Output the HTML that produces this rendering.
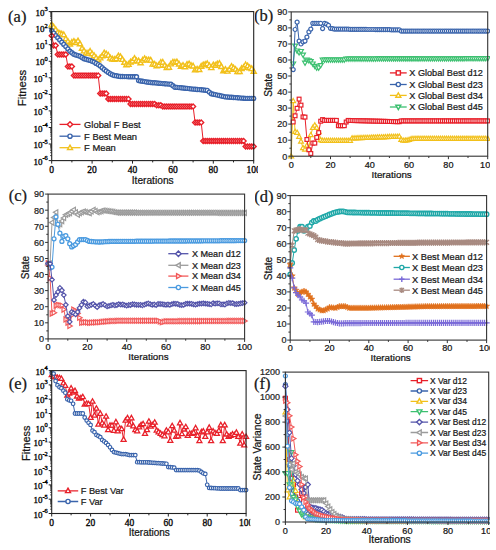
<!DOCTYPE html><html><head><meta charset="utf-8"><style>html,body{margin:0;padding:0;background:#fff;overflow:hidden}svg{display:block}text{stroke:currentColor;stroke-width:0.22px}</style></head><body>
<svg width="496" height="550" viewBox="0 0 496 550">
<rect width="496" height="550" fill="#fff"/>
<defs><g id="m0"><path d="M0 -2.8L2.6 1.9L-2.6 1.9Z" fill="#fff" stroke="#f2c01a" stroke-width="1.4"/></g><g id="m1"><circle r="2" fill="#fff" stroke="#3a64ac" stroke-width="1.4"/></g><g id="m2"><path d="M0 -2.5L2.5 0L0 2.5L-2.5 0Z" fill="#fff" stroke="#e8202a" stroke-width="1.4"/></g><g id="m3"><path d="M0 -2.7L2.7 0L0 2.7L-2.7 0Z" fill="#fff" stroke="#e8202a" stroke-width="1.4"/></g><g id="m4"><circle r="2.1" fill="#fff" stroke="#3a64ac" stroke-width="1.4"/></g><g id="m5"><path d="M0 -2.6L2.5 1.8L-2.5 1.8Z" fill="#fff" stroke="#f2c01a" stroke-width="1.4"/></g><g id="m6"><path d="M0 2.5L2.4 -1.7L-2.4 -1.7Z" fill="#fff" stroke="#3cc070" stroke-width="1.2"/></g><g id="m7"><circle r="2" fill="#fff" stroke="#3a64ac" stroke-width="1.2"/></g><g id="m8"><path d="M0 -2.5L2.4 1.7L-2.4 1.7Z" fill="#fff" stroke="#f2c01a" stroke-width="1.2"/></g><g id="m9"><rect x="-1.9" y="-1.9" width="3.8" height="3.8" fill="#fff" stroke="#e8202a" stroke-width="1.2"/></g><g id="m10"><rect x="-2.1" y="-2.1" width="4.2" height="4.2" fill="#fff" stroke="#e8202a" stroke-width="1.4"/></g><g id="m11"><path d="M0 2.6L2.5 -1.8L-2.5 -1.8Z" fill="#fff" stroke="#3cc070" stroke-width="1.4"/></g><g id="m12"><path d="M-2.6 0L1.8 -2.5L1.8 2.5Z" fill="#fff" stroke="#9c9c9c" stroke-width="1.2"/></g><g id="m13"><circle r="2" fill="#fff" stroke="#4b9be0" stroke-width="1.3"/></g><g id="m14"><path d="M2.6 0L-1.8 -2.5L-1.8 2.5Z" fill="#fff" stroke="#f25a5a" stroke-width="1.2"/></g><g id="m15"><path d="M0 -2.3L2.3 0L0 2.3L-2.3 0Z" fill="#fff" stroke="#5454aa" stroke-width="1.2"/></g><g id="m16"><path d="M0 -2.7L2.7 0L0 2.7L-2.7 0Z" fill="#fff" stroke="#5454aa" stroke-width="1.4"/></g><g id="m17"><path d="M-2.6 0L1.8 -2.5L1.8 2.5Z" fill="#fff" stroke="#9c9c9c" stroke-width="1.4"/></g><g id="m18"><path d="M2.6 0L-1.8 -2.5L-1.8 2.5Z" fill="#fff" stroke="#f25a5a" stroke-width="1.4"/></g><g id="m19"><circle r="2.1" fill="#fff" stroke="#4b9be0" stroke-width="1.4"/></g><g id="m20"><circle r="2.2" fill="#fff" stroke="#20a8a8" stroke-width="1.4"/></g><g id="m21"><path d="M-2.4 -2.4L2.4 2.4M-2.4 2.4L2.4 -2.4M0 -3.1V3.1" fill="none" stroke="#a88a80" stroke-width="1.3"/></g><g id="m22"><path d="M0 -3.1L0.8 -1.1L3 -1L1.3 0.4L1.8 2.5L0 1.4L-1.8 2.5L-1.3 0.4L-3 -1L-0.8 -1.1Z" fill="#e0701c" stroke="#e0701c" stroke-width="0.6"/></g><g id="m23"><path d="M-3.1 0H3.1M0 -3.1V3.1" fill="none" stroke="#7a6ad8" stroke-width="1.2"/></g><g id="m24"><path d="M0 -2.8L0.7 -1L2.7 -0.9L1.2 0.4L1.7 2.3L0 1.3L-1.7 2.3L-1.2 0.4L-2.7 -0.9L-0.7 -1Z" fill="#e0701c" stroke="#e0701c" stroke-width="0.6"/></g><g id="m25"><circle r="2.1" fill="#fff" stroke="#20a8a8" stroke-width="1.4"/></g><g id="m26"><path d="M-2.7 0H2.7M0 -2.7V2.7" fill="none" stroke="#7a6ad8" stroke-width="1.4"/></g><g id="m27"><path d="M-2.1 -2.1L2.1 2.1M-2.1 2.1L2.1 -2.1M0 -2.7V2.7" fill="none" stroke="#a88a80" stroke-width="1.4"/></g><g id="m28"><path d="M0 -2.6L2.5 1.8L-2.5 1.8Z" fill="#fff" stroke="#e8202a" stroke-width="1.3"/></g><g id="m29"><circle r="1.8" fill="#fff" stroke="#3a64ac" stroke-width="1.2"/></g><g id="m30"><path d="M0 -2.6L2.5 1.8L-2.5 1.8Z" fill="#fff" stroke="#e8202a" stroke-width="1.4"/></g><g id="m31"><rect x="-2" y="-2" width="4" height="4" fill="#fff" stroke="#e8202a" stroke-width="1.2"/></g><g id="m32"><path d="M0 -2.6L2.6 0L0 2.6L-2.6 0Z" fill="#fff" stroke="#5454aa" stroke-width="1.2"/></g><g id="m33"><path d="M-2.5 0L1.7 -2.4L1.7 2.4Z" fill="#fff" stroke="#9c9c9c" stroke-width="1.2"/></g><g id="m34"><path d="M2.5 0L-1.7 -2.4L-1.7 2.4Z" fill="#fff" stroke="#f25a5a" stroke-width="1.2"/></g><g id="m35"><circle r="2" fill="#fff" stroke="#4b9be0" stroke-width="1.2"/></g>
<clipPath id="ca"><rect x="0" y="0" width="258" height="192"/></clipPath>
<clipPath id="cb"><rect x="255" y="0" width="235" height="192"/></clipPath>
<clipPath id="cc"><rect x="0" y="188" width="255" height="178"/></clipPath>
<clipPath id="cd"><rect x="255" y="188" width="235" height="178"/></clipPath>
<clipPath id="ce"><rect x="0" y="364" width="250.3" height="186"/></clipPath>
<clipPath id="cf"><rect x="250.3" y="364" width="239.7" height="186"/></clipPath>
</defs>
<g clip-path="url(#ca)">
<path d="M51.7 24.8L53.7 27.1L55.7 29.7L57.8 32.4L59.8 33.4L61.8 34.1L63.8 34.8L65.8 38.8L67.9 41.4L69.9 44.1L71.9 42.3L73.9 41.5L75.9 42.7L78 41L80 43.9L82 48.4L84 51L86 53.2L88.1 53.1L90.1 51.3L92.1 53.8L94.1 55.7L96.1 58L98.2 59.9L100.2 58L102.2 55.9L104.2 53L106.2 54L108.3 55.3L110.3 58.1L112.3 59.1L114.3 59.5L116.3 58.8L118.4 55.9L120.4 56.7L122.4 59.5L124.4 62.4L126.4 64.8L128.5 64.3L130.5 62.1L132.5 61L134.5 58.5L136.5 60.8L138.6 61L140.6 62.9L142.6 60.2L144.6 58.7L146.6 60L148.7 60L150.7 60.2L152.7 64.2L154.7 64.3L156.7 65.8L158.8 65.3L160.8 62.5L162.8 62.3L164.8 65.4L166.8 67.6L168.9 67.3L170.9 64L172.9 62.2L174.9 62.3L176.9 61.9L179 64.1L181 66.4L183 65.4L185 66.9L187 64.4L189.1 64L191.1 65.6L193.1 66.1L195.1 70L197.1 69.2L199.2 69.6L201.2 66.3L203.2 65L205.2 64.5L207.2 63.7L209.3 65.7L211.3 67.7L213.3 65L215.3 65.3L217.3 63.9L219.4 63.5L221.4 66.6L223.4 70.8L225.4 69.5L227.4 71.2L229.5 69.3L231.5 66.5L233.5 67.9L235.5 69.4L237.5 71.6L239.6 71.6L241.6 68.6L243.6 67.4L245.6 64.8L247.6 65.9L249.7 67.8L251.7 68.7L253.7 71.4" fill="none" stroke="#f2c01a" stroke-width="1.0"/>
<use href="#m0" x="51.7" y="24.8"/>
<use href="#m0" x="53.7" y="27.1"/>
<use href="#m0" x="55.7" y="29.7"/>
<use href="#m0" x="57.8" y="32.4"/>
<use href="#m0" x="59.8" y="33.4"/>
<use href="#m0" x="61.8" y="34.1"/>
<use href="#m0" x="63.8" y="34.8"/>
<use href="#m0" x="65.8" y="38.8"/>
<use href="#m0" x="67.9" y="41.4"/>
<use href="#m0" x="69.9" y="44.1"/>
<use href="#m0" x="71.9" y="42.3"/>
<use href="#m0" x="73.9" y="41.5"/>
<use href="#m0" x="75.9" y="42.7"/>
<use href="#m0" x="78" y="41"/>
<use href="#m0" x="80" y="43.9"/>
<use href="#m0" x="82" y="48.4"/>
<use href="#m0" x="84" y="51"/>
<use href="#m0" x="86" y="53.2"/>
<use href="#m0" x="88.1" y="53.1"/>
<use href="#m0" x="90.1" y="51.3"/>
<use href="#m0" x="92.1" y="53.8"/>
<use href="#m0" x="94.1" y="55.7"/>
<use href="#m0" x="96.1" y="58"/>
<use href="#m0" x="98.2" y="59.9"/>
<use href="#m0" x="100.2" y="58"/>
<use href="#m0" x="102.2" y="55.9"/>
<use href="#m0" x="104.2" y="53"/>
<use href="#m0" x="106.2" y="54"/>
<use href="#m0" x="108.3" y="55.3"/>
<use href="#m0" x="110.3" y="58.1"/>
<use href="#m0" x="112.3" y="59.1"/>
<use href="#m0" x="114.3" y="59.5"/>
<use href="#m0" x="116.3" y="58.8"/>
<use href="#m0" x="118.4" y="55.9"/>
<use href="#m0" x="120.4" y="56.7"/>
<use href="#m0" x="122.4" y="59.5"/>
<use href="#m0" x="124.4" y="62.4"/>
<use href="#m0" x="126.4" y="64.8"/>
<use href="#m0" x="128.5" y="64.3"/>
<use href="#m0" x="130.5" y="62.1"/>
<use href="#m0" x="132.5" y="61"/>
<use href="#m0" x="134.5" y="58.5"/>
<use href="#m0" x="136.5" y="60.8"/>
<use href="#m0" x="138.6" y="61"/>
<use href="#m0" x="140.6" y="62.9"/>
<use href="#m0" x="142.6" y="60.2"/>
<use href="#m0" x="144.6" y="58.7"/>
<use href="#m0" x="146.6" y="60"/>
<use href="#m0" x="148.7" y="60"/>
<use href="#m0" x="150.7" y="60.2"/>
<use href="#m0" x="152.7" y="64.2"/>
<use href="#m0" x="154.7" y="64.3"/>
<use href="#m0" x="156.7" y="65.8"/>
<use href="#m0" x="158.8" y="65.3"/>
<use href="#m0" x="160.8" y="62.5"/>
<use href="#m0" x="162.8" y="62.3"/>
<use href="#m0" x="164.8" y="65.4"/>
<use href="#m0" x="166.8" y="67.6"/>
<use href="#m0" x="168.9" y="67.3"/>
<use href="#m0" x="170.9" y="64"/>
<use href="#m0" x="172.9" y="62.2"/>
<use href="#m0" x="174.9" y="62.3"/>
<use href="#m0" x="176.9" y="61.9"/>
<use href="#m0" x="179" y="64.1"/>
<use href="#m0" x="181" y="66.4"/>
<use href="#m0" x="183" y="65.4"/>
<use href="#m0" x="185" y="66.9"/>
<use href="#m0" x="187" y="64.4"/>
<use href="#m0" x="189.1" y="64"/>
<use href="#m0" x="191.1" y="65.6"/>
<use href="#m0" x="193.1" y="66.1"/>
<use href="#m0" x="195.1" y="70"/>
<use href="#m0" x="197.1" y="69.2"/>
<use href="#m0" x="199.2" y="69.6"/>
<use href="#m0" x="201.2" y="66.3"/>
<use href="#m0" x="203.2" y="65"/>
<use href="#m0" x="205.2" y="64.5"/>
<use href="#m0" x="207.2" y="63.7"/>
<use href="#m0" x="209.3" y="65.7"/>
<use href="#m0" x="211.3" y="67.7"/>
<use href="#m0" x="213.3" y="65"/>
<use href="#m0" x="215.3" y="65.3"/>
<use href="#m0" x="217.3" y="63.9"/>
<use href="#m0" x="219.4" y="63.5"/>
<use href="#m0" x="221.4" y="66.6"/>
<use href="#m0" x="223.4" y="70.8"/>
<use href="#m0" x="225.4" y="69.5"/>
<use href="#m0" x="227.4" y="71.2"/>
<use href="#m0" x="229.5" y="69.3"/>
<use href="#m0" x="231.5" y="66.5"/>
<use href="#m0" x="233.5" y="67.9"/>
<use href="#m0" x="235.5" y="69.4"/>
<use href="#m0" x="237.5" y="71.6"/>
<use href="#m0" x="239.6" y="71.6"/>
<use href="#m0" x="241.6" y="68.6"/>
<use href="#m0" x="243.6" y="67.4"/>
<use href="#m0" x="245.6" y="64.8"/>
<use href="#m0" x="247.6" y="65.9"/>
<use href="#m0" x="249.7" y="67.8"/>
<use href="#m0" x="251.7" y="68.7"/>
<use href="#m0" x="253.7" y="71.4"/>
<path d="M51.7 30.6L53.7 33.1L55.7 35.6L57.8 37.8L59.8 40L61.8 42.2L63.8 44.4L65.8 46.6L67.9 48.9L69.9 51.3L71.9 52.8L73.9 54.3L75.9 55L78 55.6L80 56.3L82 57.5L84 58.8L86 59.3L88.1 59.9L90.1 60.4L92.1 61.3L94.1 62.1L96.1 63.4L98.2 64.6L100.2 65.9L102.2 67.7L104.2 69.5L106.2 71L108.3 72.4L110.3 73.8L112.3 74.7L114.3 75.5L116.3 75.8L118.4 76.2L120.4 76.5L122.4 76.5L124.4 76.6L126.4 76.6L128.5 76.7L130.5 76.7L132.5 76.7L134.5 76.8L136.5 76.8L138.6 80.6L140.6 81L142.6 81.3L144.6 81.6L146.6 82L148.7 82.3L150.7 82.5L152.7 82.7L154.7 82.8L156.7 83L158.8 83.2L160.8 83.4L162.8 83.6L164.8 83.7L166.8 83.9L168.9 84.1L170.9 84.3L172.9 85.8L174.9 87.3L176.9 87.4L179 87.6L181 87.8L183 88L185 88.2L187 88.4L189.1 88.6L191.1 88.9L193.1 89.1L195.1 89.3L197.1 89.5L199.2 89.6L201.2 89.8L203.2 90L205.2 90.2L207.2 90.4L209.3 92.1L211.3 93.7L213.3 94.2L215.3 94.6L217.3 95.1L219.4 95.5L221.4 96L223.4 96.4L225.4 96.9L227.4 97L229.5 97.2L231.5 97.3L233.5 97.5L235.5 97.6L237.5 97.8L239.6 97.9L241.6 98.1L243.6 98.2L245.6 98.4L247.6 98.4L249.7 98.4L251.7 98.4L253.7 98.4" fill="none" stroke="#3a64ac" stroke-width="1.0"/>
<use href="#m1" x="51.7" y="30.6"/>
<use href="#m1" x="53.7" y="33.1"/>
<use href="#m1" x="55.7" y="35.6"/>
<use href="#m1" x="57.8" y="37.8"/>
<use href="#m1" x="59.8" y="40"/>
<use href="#m1" x="61.8" y="42.2"/>
<use href="#m1" x="63.8" y="44.4"/>
<use href="#m1" x="65.8" y="46.6"/>
<use href="#m1" x="67.9" y="48.9"/>
<use href="#m1" x="69.9" y="51.3"/>
<use href="#m1" x="71.9" y="52.8"/>
<use href="#m1" x="73.9" y="54.3"/>
<use href="#m1" x="75.9" y="55"/>
<use href="#m1" x="78" y="55.6"/>
<use href="#m1" x="80" y="56.3"/>
<use href="#m1" x="82" y="57.5"/>
<use href="#m1" x="84" y="58.8"/>
<use href="#m1" x="86" y="59.3"/>
<use href="#m1" x="88.1" y="59.9"/>
<use href="#m1" x="90.1" y="60.4"/>
<use href="#m1" x="92.1" y="61.3"/>
<use href="#m1" x="94.1" y="62.1"/>
<use href="#m1" x="96.1" y="63.4"/>
<use href="#m1" x="98.2" y="64.6"/>
<use href="#m1" x="100.2" y="65.9"/>
<use href="#m1" x="102.2" y="67.7"/>
<use href="#m1" x="104.2" y="69.5"/>
<use href="#m1" x="106.2" y="71"/>
<use href="#m1" x="108.3" y="72.4"/>
<use href="#m1" x="110.3" y="73.8"/>
<use href="#m1" x="112.3" y="74.7"/>
<use href="#m1" x="114.3" y="75.5"/>
<use href="#m1" x="116.3" y="75.8"/>
<use href="#m1" x="118.4" y="76.2"/>
<use href="#m1" x="120.4" y="76.5"/>
<use href="#m1" x="122.4" y="76.5"/>
<use href="#m1" x="124.4" y="76.6"/>
<use href="#m1" x="126.4" y="76.6"/>
<use href="#m1" x="128.5" y="76.7"/>
<use href="#m1" x="130.5" y="76.7"/>
<use href="#m1" x="132.5" y="76.7"/>
<use href="#m1" x="134.5" y="76.8"/>
<use href="#m1" x="136.5" y="76.8"/>
<use href="#m1" x="138.6" y="80.6"/>
<use href="#m1" x="140.6" y="81"/>
<use href="#m1" x="142.6" y="81.3"/>
<use href="#m1" x="144.6" y="81.6"/>
<use href="#m1" x="146.6" y="82"/>
<use href="#m1" x="148.7" y="82.3"/>
<use href="#m1" x="150.7" y="82.5"/>
<use href="#m1" x="152.7" y="82.7"/>
<use href="#m1" x="154.7" y="82.8"/>
<use href="#m1" x="156.7" y="83"/>
<use href="#m1" x="158.8" y="83.2"/>
<use href="#m1" x="160.8" y="83.4"/>
<use href="#m1" x="162.8" y="83.6"/>
<use href="#m1" x="164.8" y="83.7"/>
<use href="#m1" x="166.8" y="83.9"/>
<use href="#m1" x="168.9" y="84.1"/>
<use href="#m1" x="170.9" y="84.3"/>
<use href="#m1" x="172.9" y="85.8"/>
<use href="#m1" x="174.9" y="87.3"/>
<use href="#m1" x="176.9" y="87.4"/>
<use href="#m1" x="179" y="87.6"/>
<use href="#m1" x="181" y="87.8"/>
<use href="#m1" x="183" y="88"/>
<use href="#m1" x="185" y="88.2"/>
<use href="#m1" x="187" y="88.4"/>
<use href="#m1" x="189.1" y="88.6"/>
<use href="#m1" x="191.1" y="88.9"/>
<use href="#m1" x="193.1" y="89.1"/>
<use href="#m1" x="195.1" y="89.3"/>
<use href="#m1" x="197.1" y="89.5"/>
<use href="#m1" x="199.2" y="89.6"/>
<use href="#m1" x="201.2" y="89.8"/>
<use href="#m1" x="203.2" y="90"/>
<use href="#m1" x="205.2" y="90.2"/>
<use href="#m1" x="207.2" y="90.4"/>
<use href="#m1" x="209.3" y="92.1"/>
<use href="#m1" x="211.3" y="93.7"/>
<use href="#m1" x="213.3" y="94.2"/>
<use href="#m1" x="215.3" y="94.6"/>
<use href="#m1" x="217.3" y="95.1"/>
<use href="#m1" x="219.4" y="95.5"/>
<use href="#m1" x="221.4" y="96"/>
<use href="#m1" x="223.4" y="96.4"/>
<use href="#m1" x="225.4" y="96.9"/>
<use href="#m1" x="227.4" y="97"/>
<use href="#m1" x="229.5" y="97.2"/>
<use href="#m1" x="231.5" y="97.3"/>
<use href="#m1" x="233.5" y="97.5"/>
<use href="#m1" x="235.5" y="97.6"/>
<use href="#m1" x="237.5" y="97.8"/>
<use href="#m1" x="239.6" y="97.9"/>
<use href="#m1" x="241.6" y="98.1"/>
<use href="#m1" x="243.6" y="98.2"/>
<use href="#m1" x="245.6" y="98.4"/>
<use href="#m1" x="247.6" y="98.4"/>
<use href="#m1" x="249.7" y="98.4"/>
<use href="#m1" x="251.7" y="98.4"/>
<use href="#m1" x="253.7" y="98.4"/>
<path d="M51.7 35.8L53.7 45.5L55.7 45.5L57.8 54.5L59.8 54.5L61.8 54.5L63.8 54.5L65.8 54.5L67.9 66.6L69.9 66.6L71.9 66.6L73.9 75.5L75.9 75.5L78 75.5L80 75.5L82 75.5L84 75.5L86 75.5L88.1 75.5L90.1 75.5L92.1 75.5L94.1 75.5L96.1 75.5L98.2 75.5L100.2 93.4L102.2 93.4L104.2 93.4L106.2 93.4L108.3 99L110.3 99L112.3 99L114.3 99L116.3 99L118.4 99L120.4 99L122.4 99L124.4 99L126.4 99L128.5 99L130.5 104.1L132.5 104.1L134.5 104.1L136.5 104.1L138.6 104.1L140.6 104.1L142.6 104.1L144.6 104.1L146.6 104.1L148.7 104.1L150.7 104.1L152.7 104.1L154.7 104.1L156.7 105.3L158.8 105.3L160.8 105.3L162.8 106.5L164.8 106.5L166.8 106.5L168.9 106.5L170.9 106.5L172.9 106.5L174.9 106.5L176.9 106.5L179 106.5L181 106.5L183 106.5L185 106.5L187 106.5L189.1 106.5L191.1 106.5L193.1 106.5L195.1 122.4L197.1 122.4L199.2 122.4L201.2 122.4L203.2 140.9L205.2 140.9L207.2 140.9L209.3 140.9L211.3 140.9L213.3 140.9L215.3 140.9L217.3 140.9L219.4 140.9L221.4 140.9L223.4 140.9L225.4 140.9L227.4 140.9L229.5 140.9L231.5 140.9L233.5 140.9L235.5 140.9L237.5 140.9L239.6 140.9L241.6 140.9L243.6 140.9L245.6 146.5L247.6 146.5L249.7 146.5L251.7 146.5L253.7 146.5" fill="none" stroke="#e8202a" stroke-width="1.0"/>
<use href="#m2" x="51.7" y="35.8"/>
<use href="#m2" x="53.7" y="45.5"/>
<use href="#m2" x="55.7" y="45.5"/>
<use href="#m2" x="57.8" y="54.5"/>
<use href="#m2" x="59.8" y="54.5"/>
<use href="#m2" x="61.8" y="54.5"/>
<use href="#m2" x="63.8" y="54.5"/>
<use href="#m2" x="65.8" y="54.5"/>
<use href="#m2" x="67.9" y="66.6"/>
<use href="#m2" x="69.9" y="66.6"/>
<use href="#m2" x="71.9" y="66.6"/>
<use href="#m2" x="73.9" y="75.5"/>
<use href="#m2" x="75.9" y="75.5"/>
<use href="#m2" x="78" y="75.5"/>
<use href="#m2" x="80" y="75.5"/>
<use href="#m2" x="82" y="75.5"/>
<use href="#m2" x="84" y="75.5"/>
<use href="#m2" x="86" y="75.5"/>
<use href="#m2" x="88.1" y="75.5"/>
<use href="#m2" x="90.1" y="75.5"/>
<use href="#m2" x="92.1" y="75.5"/>
<use href="#m2" x="94.1" y="75.5"/>
<use href="#m2" x="96.1" y="75.5"/>
<use href="#m2" x="98.2" y="75.5"/>
<use href="#m2" x="100.2" y="93.4"/>
<use href="#m2" x="102.2" y="93.4"/>
<use href="#m2" x="104.2" y="93.4"/>
<use href="#m2" x="106.2" y="93.4"/>
<use href="#m2" x="108.3" y="99"/>
<use href="#m2" x="110.3" y="99"/>
<use href="#m2" x="112.3" y="99"/>
<use href="#m2" x="114.3" y="99"/>
<use href="#m2" x="116.3" y="99"/>
<use href="#m2" x="118.4" y="99"/>
<use href="#m2" x="120.4" y="99"/>
<use href="#m2" x="122.4" y="99"/>
<use href="#m2" x="124.4" y="99"/>
<use href="#m2" x="126.4" y="99"/>
<use href="#m2" x="128.5" y="99"/>
<use href="#m2" x="130.5" y="104.1"/>
<use href="#m2" x="132.5" y="104.1"/>
<use href="#m2" x="134.5" y="104.1"/>
<use href="#m2" x="136.5" y="104.1"/>
<use href="#m2" x="138.6" y="104.1"/>
<use href="#m2" x="140.6" y="104.1"/>
<use href="#m2" x="142.6" y="104.1"/>
<use href="#m2" x="144.6" y="104.1"/>
<use href="#m2" x="146.6" y="104.1"/>
<use href="#m2" x="148.7" y="104.1"/>
<use href="#m2" x="150.7" y="104.1"/>
<use href="#m2" x="152.7" y="104.1"/>
<use href="#m2" x="154.7" y="104.1"/>
<use href="#m2" x="156.7" y="105.3"/>
<use href="#m2" x="158.8" y="105.3"/>
<use href="#m2" x="160.8" y="105.3"/>
<use href="#m2" x="162.8" y="106.5"/>
<use href="#m2" x="164.8" y="106.5"/>
<use href="#m2" x="166.8" y="106.5"/>
<use href="#m2" x="168.9" y="106.5"/>
<use href="#m2" x="170.9" y="106.5"/>
<use href="#m2" x="172.9" y="106.5"/>
<use href="#m2" x="174.9" y="106.5"/>
<use href="#m2" x="176.9" y="106.5"/>
<use href="#m2" x="179" y="106.5"/>
<use href="#m2" x="181" y="106.5"/>
<use href="#m2" x="183" y="106.5"/>
<use href="#m2" x="185" y="106.5"/>
<use href="#m2" x="187" y="106.5"/>
<use href="#m2" x="189.1" y="106.5"/>
<use href="#m2" x="191.1" y="106.5"/>
<use href="#m2" x="193.1" y="106.5"/>
<use href="#m2" x="195.1" y="122.4"/>
<use href="#m2" x="197.1" y="122.4"/>
<use href="#m2" x="199.2" y="122.4"/>
<use href="#m2" x="201.2" y="122.4"/>
<use href="#m2" x="203.2" y="140.9"/>
<use href="#m2" x="205.2" y="140.9"/>
<use href="#m2" x="207.2" y="140.9"/>
<use href="#m2" x="209.3" y="140.9"/>
<use href="#m2" x="211.3" y="140.9"/>
<use href="#m2" x="213.3" y="140.9"/>
<use href="#m2" x="215.3" y="140.9"/>
<use href="#m2" x="217.3" y="140.9"/>
<use href="#m2" x="219.4" y="140.9"/>
<use href="#m2" x="221.4" y="140.9"/>
<use href="#m2" x="223.4" y="140.9"/>
<use href="#m2" x="225.4" y="140.9"/>
<use href="#m2" x="227.4" y="140.9"/>
<use href="#m2" x="229.5" y="140.9"/>
<use href="#m2" x="231.5" y="140.9"/>
<use href="#m2" x="233.5" y="140.9"/>
<use href="#m2" x="235.5" y="140.9"/>
<use href="#m2" x="237.5" y="140.9"/>
<use href="#m2" x="239.6" y="140.9"/>
<use href="#m2" x="241.6" y="140.9"/>
<use href="#m2" x="243.6" y="140.9"/>
<use href="#m2" x="245.6" y="146.5"/>
<use href="#m2" x="247.6" y="146.5"/>
<use href="#m2" x="249.7" y="146.5"/>
<use href="#m2" x="251.7" y="146.5"/>
<use href="#m2" x="253.7" y="146.5"/>
<rect x="51.7" y="11.6" width="202" height="149" fill="none" stroke="#222" stroke-width="1.1"/>
<line x1="51.7" y1="160.6" x2="51.7" y2="163.6" stroke="#222" stroke-width="1"/>
<text x="51.7" y="172.8" font-size="9.5" text-anchor="middle" fill="#1a1a1a" font-family="Liberation Serif, serif" style="stroke-width:0.35px">0</text>
<line x1="71.9" y1="160.6" x2="71.9" y2="162.4" stroke="#222" stroke-width="1"/>
<line x1="92.1" y1="160.6" x2="92.1" y2="163.6" stroke="#222" stroke-width="1"/>
<text x="92.1" y="172.8" font-size="9.5" text-anchor="middle" fill="#1a1a1a" font-family="Liberation Serif, serif" style="stroke-width:0.35px">20</text>
<line x1="112.3" y1="160.6" x2="112.3" y2="162.4" stroke="#222" stroke-width="1"/>
<line x1="132.5" y1="160.6" x2="132.5" y2="163.6" stroke="#222" stroke-width="1"/>
<text x="132.5" y="172.8" font-size="9.5" text-anchor="middle" fill="#1a1a1a" font-family="Liberation Serif, serif" style="stroke-width:0.35px">40</text>
<line x1="152.7" y1="160.6" x2="152.7" y2="162.4" stroke="#222" stroke-width="1"/>
<line x1="172.9" y1="160.6" x2="172.9" y2="163.6" stroke="#222" stroke-width="1"/>
<text x="172.9" y="172.8" font-size="9.5" text-anchor="middle" fill="#1a1a1a" font-family="Liberation Serif, serif" style="stroke-width:0.35px">60</text>
<line x1="193.1" y1="160.6" x2="193.1" y2="162.4" stroke="#222" stroke-width="1"/>
<line x1="213.3" y1="160.6" x2="213.3" y2="163.6" stroke="#222" stroke-width="1"/>
<text x="213.3" y="172.8" font-size="9.5" text-anchor="middle" fill="#1a1a1a" font-family="Liberation Serif, serif" style="stroke-width:0.35px">80</text>
<line x1="233.5" y1="160.6" x2="233.5" y2="162.4" stroke="#222" stroke-width="1"/>
<line x1="253.7" y1="160.6" x2="253.7" y2="163.6" stroke="#222" stroke-width="1"/>
<text x="253.7" y="172.8" font-size="9.5" text-anchor="middle" fill="#1a1a1a" font-family="Liberation Serif, serif" style="stroke-width:0.35px">100</text>
<line x1="48.7" y1="160.6" x2="51.7" y2="160.6" stroke="#222" stroke-width="1"/>
<line x1="50.1" y1="155.6" x2="51.7" y2="155.6" stroke="#222" stroke-width="0.8"/>
<line x1="50.1" y1="152.7" x2="51.7" y2="152.7" stroke="#222" stroke-width="0.8"/>
<line x1="50.1" y1="150.6" x2="51.7" y2="150.6" stroke="#222" stroke-width="0.8"/>
<line x1="50.1" y1="149" x2="51.7" y2="149" stroke="#222" stroke-width="0.8"/>
<line x1="50.1" y1="147.7" x2="51.7" y2="147.7" stroke="#222" stroke-width="0.8"/>
<line x1="50.1" y1="146.6" x2="51.7" y2="146.6" stroke="#222" stroke-width="0.8"/>
<line x1="50.1" y1="145.6" x2="51.7" y2="145.6" stroke="#222" stroke-width="0.8"/>
<line x1="50.1" y1="144.8" x2="51.7" y2="144.8" stroke="#222" stroke-width="0.8"/>
<text x="47.8" y="164.7" font-size="9.0" fill="#1a1a1a" text-anchor="end" style="stroke-width:0.35px" font-family="Liberation Serif, serif"><tspan>10</tspan><tspan dy="-4.6" font-size="6.4">-6</tspan></text>
<line x1="48.7" y1="144" x2="51.7" y2="144" stroke="#222" stroke-width="1"/>
<line x1="50.1" y1="139.1" x2="51.7" y2="139.1" stroke="#222" stroke-width="0.8"/>
<line x1="50.1" y1="136.1" x2="51.7" y2="136.1" stroke="#222" stroke-width="0.8"/>
<line x1="50.1" y1="134.1" x2="51.7" y2="134.1" stroke="#222" stroke-width="0.8"/>
<line x1="50.1" y1="132.5" x2="51.7" y2="132.5" stroke="#222" stroke-width="0.8"/>
<line x1="50.1" y1="131.2" x2="51.7" y2="131.2" stroke="#222" stroke-width="0.8"/>
<line x1="50.1" y1="130.1" x2="51.7" y2="130.1" stroke="#222" stroke-width="0.8"/>
<line x1="50.1" y1="129.1" x2="51.7" y2="129.1" stroke="#222" stroke-width="0.8"/>
<line x1="50.1" y1="128.2" x2="51.7" y2="128.2" stroke="#222" stroke-width="0.8"/>
<text x="47.8" y="148.1" font-size="9.0" fill="#1a1a1a" text-anchor="end" style="stroke-width:0.35px" font-family="Liberation Serif, serif"><tspan>10</tspan><tspan dy="-4.6" font-size="6.4">-5</tspan></text>
<line x1="48.7" y1="127.5" x2="51.7" y2="127.5" stroke="#222" stroke-width="1"/>
<line x1="50.1" y1="122.5" x2="51.7" y2="122.5" stroke="#222" stroke-width="0.8"/>
<line x1="50.1" y1="119.6" x2="51.7" y2="119.6" stroke="#222" stroke-width="0.8"/>
<line x1="50.1" y1="117.5" x2="51.7" y2="117.5" stroke="#222" stroke-width="0.8"/>
<line x1="50.1" y1="115.9" x2="51.7" y2="115.9" stroke="#222" stroke-width="0.8"/>
<line x1="50.1" y1="114.6" x2="51.7" y2="114.6" stroke="#222" stroke-width="0.8"/>
<line x1="50.1" y1="113.5" x2="51.7" y2="113.5" stroke="#222" stroke-width="0.8"/>
<line x1="50.1" y1="112.5" x2="51.7" y2="112.5" stroke="#222" stroke-width="0.8"/>
<line x1="50.1" y1="111.7" x2="51.7" y2="111.7" stroke="#222" stroke-width="0.8"/>
<text x="47.8" y="131.6" font-size="9.0" fill="#1a1a1a" text-anchor="end" style="stroke-width:0.35px" font-family="Liberation Serif, serif"><tspan>10</tspan><tspan dy="-4.6" font-size="6.4">-4</tspan></text>
<line x1="48.7" y1="110.9" x2="51.7" y2="110.9" stroke="#222" stroke-width="1"/>
<line x1="50.1" y1="105.9" x2="51.7" y2="105.9" stroke="#222" stroke-width="0.8"/>
<line x1="50.1" y1="103" x2="51.7" y2="103" stroke="#222" stroke-width="0.8"/>
<line x1="50.1" y1="101" x2="51.7" y2="101" stroke="#222" stroke-width="0.8"/>
<line x1="50.1" y1="99.4" x2="51.7" y2="99.4" stroke="#222" stroke-width="0.8"/>
<line x1="50.1" y1="98.1" x2="51.7" y2="98.1" stroke="#222" stroke-width="0.8"/>
<line x1="50.1" y1="96.9" x2="51.7" y2="96.9" stroke="#222" stroke-width="0.8"/>
<line x1="50.1" y1="96" x2="51.7" y2="96" stroke="#222" stroke-width="0.8"/>
<line x1="50.1" y1="95.1" x2="51.7" y2="95.1" stroke="#222" stroke-width="0.8"/>
<text x="47.8" y="115" font-size="9.0" fill="#1a1a1a" text-anchor="end" style="stroke-width:0.35px" font-family="Liberation Serif, serif"><tspan>10</tspan><tspan dy="-4.6" font-size="6.4">-3</tspan></text>
<line x1="48.7" y1="94.4" x2="51.7" y2="94.4" stroke="#222" stroke-width="1"/>
<line x1="50.1" y1="89.4" x2="51.7" y2="89.4" stroke="#222" stroke-width="0.8"/>
<line x1="50.1" y1="86.5" x2="51.7" y2="86.5" stroke="#222" stroke-width="0.8"/>
<line x1="50.1" y1="84.4" x2="51.7" y2="84.4" stroke="#222" stroke-width="0.8"/>
<line x1="50.1" y1="82.8" x2="51.7" y2="82.8" stroke="#222" stroke-width="0.8"/>
<line x1="50.1" y1="81.5" x2="51.7" y2="81.5" stroke="#222" stroke-width="0.8"/>
<line x1="50.1" y1="80.4" x2="51.7" y2="80.4" stroke="#222" stroke-width="0.8"/>
<line x1="50.1" y1="79.4" x2="51.7" y2="79.4" stroke="#222" stroke-width="0.8"/>
<line x1="50.1" y1="78.6" x2="51.7" y2="78.6" stroke="#222" stroke-width="0.8"/>
<text x="47.8" y="98.5" font-size="9.0" fill="#1a1a1a" text-anchor="end" style="stroke-width:0.35px" font-family="Liberation Serif, serif"><tspan>10</tspan><tspan dy="-4.6" font-size="6.4">-2</tspan></text>
<line x1="48.7" y1="77.8" x2="51.7" y2="77.8" stroke="#222" stroke-width="1"/>
<line x1="50.1" y1="72.8" x2="51.7" y2="72.8" stroke="#222" stroke-width="0.8"/>
<line x1="50.1" y1="69.9" x2="51.7" y2="69.9" stroke="#222" stroke-width="0.8"/>
<line x1="50.1" y1="67.9" x2="51.7" y2="67.9" stroke="#222" stroke-width="0.8"/>
<line x1="50.1" y1="66.3" x2="51.7" y2="66.3" stroke="#222" stroke-width="0.8"/>
<line x1="50.1" y1="64.9" x2="51.7" y2="64.9" stroke="#222" stroke-width="0.8"/>
<line x1="50.1" y1="63.8" x2="51.7" y2="63.8" stroke="#222" stroke-width="0.8"/>
<line x1="50.1" y1="62.9" x2="51.7" y2="62.9" stroke="#222" stroke-width="0.8"/>
<line x1="50.1" y1="62" x2="51.7" y2="62" stroke="#222" stroke-width="0.8"/>
<text x="47.8" y="81.9" font-size="9.0" fill="#1a1a1a" text-anchor="end" style="stroke-width:0.35px" font-family="Liberation Serif, serif"><tspan>10</tspan><tspan dy="-4.6" font-size="6.4">-1</tspan></text>
<line x1="48.7" y1="61.3" x2="51.7" y2="61.3" stroke="#222" stroke-width="1"/>
<line x1="50.1" y1="56.3" x2="51.7" y2="56.3" stroke="#222" stroke-width="0.8"/>
<line x1="50.1" y1="53.4" x2="51.7" y2="53.4" stroke="#222" stroke-width="0.8"/>
<line x1="50.1" y1="51.3" x2="51.7" y2="51.3" stroke="#222" stroke-width="0.8"/>
<line x1="50.1" y1="49.7" x2="51.7" y2="49.7" stroke="#222" stroke-width="0.8"/>
<line x1="50.1" y1="48.4" x2="51.7" y2="48.4" stroke="#222" stroke-width="0.8"/>
<line x1="50.1" y1="47.3" x2="51.7" y2="47.3" stroke="#222" stroke-width="0.8"/>
<line x1="50.1" y1="46.3" x2="51.7" y2="46.3" stroke="#222" stroke-width="0.8"/>
<line x1="50.1" y1="45.5" x2="51.7" y2="45.5" stroke="#222" stroke-width="0.8"/>
<text x="47.8" y="65.4" font-size="9.0" fill="#1a1a1a" text-anchor="end" style="stroke-width:0.35px" font-family="Liberation Serif, serif"><tspan>10</tspan><tspan dy="-4.6" font-size="6.4">0</tspan></text>
<line x1="48.7" y1="44.7" x2="51.7" y2="44.7" stroke="#222" stroke-width="1"/>
<line x1="50.1" y1="39.7" x2="51.7" y2="39.7" stroke="#222" stroke-width="0.8"/>
<line x1="50.1" y1="36.8" x2="51.7" y2="36.8" stroke="#222" stroke-width="0.8"/>
<line x1="50.1" y1="34.7" x2="51.7" y2="34.7" stroke="#222" stroke-width="0.8"/>
<line x1="50.1" y1="33.1" x2="51.7" y2="33.1" stroke="#222" stroke-width="0.8"/>
<line x1="50.1" y1="31.8" x2="51.7" y2="31.8" stroke="#222" stroke-width="0.8"/>
<line x1="50.1" y1="30.7" x2="51.7" y2="30.7" stroke="#222" stroke-width="0.8"/>
<line x1="50.1" y1="29.8" x2="51.7" y2="29.8" stroke="#222" stroke-width="0.8"/>
<line x1="50.1" y1="28.9" x2="51.7" y2="28.9" stroke="#222" stroke-width="0.8"/>
<text x="47.8" y="48.8" font-size="9.0" fill="#1a1a1a" text-anchor="end" style="stroke-width:0.35px" font-family="Liberation Serif, serif"><tspan>10</tspan><tspan dy="-4.6" font-size="6.4">1</tspan></text>
<line x1="48.7" y1="28.2" x2="51.7" y2="28.2" stroke="#222" stroke-width="1"/>
<line x1="50.1" y1="23.2" x2="51.7" y2="23.2" stroke="#222" stroke-width="0.8"/>
<line x1="50.1" y1="20.3" x2="51.7" y2="20.3" stroke="#222" stroke-width="0.8"/>
<line x1="50.1" y1="18.2" x2="51.7" y2="18.2" stroke="#222" stroke-width="0.8"/>
<line x1="50.1" y1="16.6" x2="51.7" y2="16.6" stroke="#222" stroke-width="0.8"/>
<line x1="50.1" y1="15.3" x2="51.7" y2="15.3" stroke="#222" stroke-width="0.8"/>
<line x1="50.1" y1="14.2" x2="51.7" y2="14.2" stroke="#222" stroke-width="0.8"/>
<line x1="50.1" y1="13.2" x2="51.7" y2="13.2" stroke="#222" stroke-width="0.8"/>
<line x1="50.1" y1="12.4" x2="51.7" y2="12.4" stroke="#222" stroke-width="0.8"/>
<text x="47.8" y="32.3" font-size="9.0" fill="#1a1a1a" text-anchor="end" style="stroke-width:0.35px" font-family="Liberation Serif, serif"><tspan>10</tspan><tspan dy="-4.6" font-size="6.4">2</tspan></text>
<line x1="48.7" y1="11.6" x2="51.7" y2="11.6" stroke="#222" stroke-width="1"/>
<text x="47.8" y="15.7" font-size="9.0" fill="#1a1a1a" text-anchor="end" style="stroke-width:0.35px" font-family="Liberation Serif, serif"><tspan>10</tspan><tspan dy="-4.6" font-size="6.4">3</tspan></text>
<text x="22.5" y="88" font-size="11.3" text-anchor="middle" transform="rotate(-90 22.5 88)" dy="3.9" fill="#222" font-family="Liberation Sans, sans-serif">Fitness</text>
<text x="152.7" y="184.1" font-size="10.2" text-anchor="middle" fill="#222" font-family="Liberation Sans, sans-serif">Iterations</text>
<line x1="59.5" y1="124.4" x2="80.5" y2="124.4" stroke="#e8202a" stroke-width="1.3"/>
<use href="#m3" x="70" y="124.4"/>
<text x="84.1" y="127.8" font-size="9.35" fill="#2a2a2a" font-family="Liberation Sans, sans-serif">Global F Best</text>
<line x1="59.5" y1="136.2" x2="80.5" y2="136.2" stroke="#3a64ac" stroke-width="1.3"/>
<use href="#m4" x="70" y="136.2"/>
<text x="84.1" y="139.6" font-size="9.35" fill="#2a2a2a" font-family="Liberation Sans, sans-serif">F Best Mean</text>
<line x1="59.5" y1="147.7" x2="80.5" y2="147.7" stroke="#f2c01a" stroke-width="1.3"/>
<use href="#m5" x="70" y="147.7"/>
<text x="84.1" y="151.1" font-size="9.35" fill="#2a2a2a" font-family="Liberation Sans, sans-serif">F Mean</text>
<text x="8.1" y="21.6" font-size="16.5" fill="#222" font-family="Liberation Serif, serif">(a)</text>
</g>
<g clip-path="url(#cb)">
<path d="M293.2 63.7L295.1 45.9L297.1 50.7L299.1 52.5L301 51.2L303 54.9L305 62.9L306.9 59.7L308.9 60.5L310.8 61.3L312.8 63.7L314.8 66.1L316.7 67.7L318.7 67.7L320.7 65.3L322.6 59.7L324.6 59.7L326.6 59.7L328.5 59.7L330.5 59.7L332.5 59.7L334.4 59.7L336.4 59.7L338.4 59.7L340.3 59.7L342.3 59.7L344.3 59.7L346.2 58.7L348.2 58.7L350.1 58.7L352.1 58.7L354.1 58.7L356 58.7L358 58.7L360 58.7L361.9 58.7L363.9 58.7L365.9 58.7L367.8 58.7L369.8 58.7L371.8 58.7L373.7 58.7L375.7 58.7L377.7 58.6L379.6 58.6L381.6 58.6L383.6 58.6L385.5 58.6L387.5 58.6L389.4 58.6L391.4 58.6L393.4 58.6L395.3 58.6L397.3 58.6L399.3 58.6L401.2 58.6L403.2 58.6L405.2 58.6L407.1 58.6L409.1 58.6L411.1 58.6L413 58.6L415 58.6L417 58.6L418.9 58.6L420.9 58.5L422.9 58.5L424.8 58.5L426.8 58.5L428.8 58.5L430.7 58.5L432.7 58.5L434.6 58.5L436.6 58.5L438.6 58.5L440.5 58.5L442.5 58.5L444.5 58.5L446.4 58.5L448.4 58.5L450.4 58.5L452.3 58.5L454.3 58.5L456.3 58.5L458.2 58.5L460.2 58.5L462.2 58.5L464.1 58.5L466.1 58.4L468 58.4L470 58.4L472 58.4L473.9 58.4L475.9 58.4L477.9 58.4L479.8 58.4L481.8 58.4L483.8 58.4L485.7 58.4L487.7 58.4" fill="none" stroke="#3cc070" stroke-width="1.0"/>
<use href="#m6" x="293.2" y="63.7"/>
<use href="#m6" x="295.1" y="45.9"/>
<use href="#m6" x="297.1" y="50.7"/>
<use href="#m6" x="299.1" y="52.5"/>
<use href="#m6" x="301" y="51.2"/>
<use href="#m6" x="303" y="54.9"/>
<use href="#m6" x="305" y="62.9"/>
<use href="#m6" x="306.9" y="59.7"/>
<use href="#m6" x="308.9" y="60.5"/>
<use href="#m6" x="310.8" y="61.3"/>
<use href="#m6" x="312.8" y="63.7"/>
<use href="#m6" x="314.8" y="66.1"/>
<use href="#m6" x="316.7" y="67.7"/>
<use href="#m6" x="318.7" y="67.7"/>
<use href="#m6" x="320.7" y="65.3"/>
<use href="#m6" x="322.6" y="59.7"/>
<use href="#m6" x="324.6" y="59.7"/>
<use href="#m6" x="326.6" y="59.7"/>
<use href="#m6" x="328.5" y="59.7"/>
<use href="#m6" x="330.5" y="59.7"/>
<use href="#m6" x="332.5" y="59.7"/>
<use href="#m6" x="334.4" y="59.7"/>
<use href="#m6" x="336.4" y="59.7"/>
<use href="#m6" x="338.4" y="59.7"/>
<use href="#m6" x="340.3" y="59.7"/>
<use href="#m6" x="342.3" y="59.7"/>
<use href="#m6" x="344.3" y="59.7"/>
<use href="#m6" x="346.2" y="58.7"/>
<use href="#m6" x="348.2" y="58.7"/>
<use href="#m6" x="350.1" y="58.7"/>
<use href="#m6" x="352.1" y="58.7"/>
<use href="#m6" x="354.1" y="58.7"/>
<use href="#m6" x="356" y="58.7"/>
<use href="#m6" x="358" y="58.7"/>
<use href="#m6" x="360" y="58.7"/>
<use href="#m6" x="361.9" y="58.7"/>
<use href="#m6" x="363.9" y="58.7"/>
<use href="#m6" x="365.9" y="58.7"/>
<use href="#m6" x="367.8" y="58.7"/>
<use href="#m6" x="369.8" y="58.7"/>
<use href="#m6" x="371.8" y="58.7"/>
<use href="#m6" x="373.7" y="58.7"/>
<use href="#m6" x="375.7" y="58.7"/>
<use href="#m6" x="377.7" y="58.6"/>
<use href="#m6" x="379.6" y="58.6"/>
<use href="#m6" x="381.6" y="58.6"/>
<use href="#m6" x="383.6" y="58.6"/>
<use href="#m6" x="385.5" y="58.6"/>
<use href="#m6" x="387.5" y="58.6"/>
<use href="#m6" x="389.4" y="58.6"/>
<use href="#m6" x="391.4" y="58.6"/>
<use href="#m6" x="393.4" y="58.6"/>
<use href="#m6" x="395.3" y="58.6"/>
<use href="#m6" x="397.3" y="58.6"/>
<use href="#m6" x="399.3" y="58.6"/>
<use href="#m6" x="401.2" y="58.6"/>
<use href="#m6" x="403.2" y="58.6"/>
<use href="#m6" x="405.2" y="58.6"/>
<use href="#m6" x="407.1" y="58.6"/>
<use href="#m6" x="409.1" y="58.6"/>
<use href="#m6" x="411.1" y="58.6"/>
<use href="#m6" x="413" y="58.6"/>
<use href="#m6" x="415" y="58.6"/>
<use href="#m6" x="417" y="58.6"/>
<use href="#m6" x="418.9" y="58.6"/>
<use href="#m6" x="420.9" y="58.5"/>
<use href="#m6" x="422.9" y="58.5"/>
<use href="#m6" x="424.8" y="58.5"/>
<use href="#m6" x="426.8" y="58.5"/>
<use href="#m6" x="428.8" y="58.5"/>
<use href="#m6" x="430.7" y="58.5"/>
<use href="#m6" x="432.7" y="58.5"/>
<use href="#m6" x="434.6" y="58.5"/>
<use href="#m6" x="436.6" y="58.5"/>
<use href="#m6" x="438.6" y="58.5"/>
<use href="#m6" x="440.5" y="58.5"/>
<use href="#m6" x="442.5" y="58.5"/>
<use href="#m6" x="444.5" y="58.5"/>
<use href="#m6" x="446.4" y="58.5"/>
<use href="#m6" x="448.4" y="58.5"/>
<use href="#m6" x="450.4" y="58.5"/>
<use href="#m6" x="452.3" y="58.5"/>
<use href="#m6" x="454.3" y="58.5"/>
<use href="#m6" x="456.3" y="58.5"/>
<use href="#m6" x="458.2" y="58.5"/>
<use href="#m6" x="460.2" y="58.5"/>
<use href="#m6" x="462.2" y="58.5"/>
<use href="#m6" x="464.1" y="58.5"/>
<use href="#m6" x="466.1" y="58.4"/>
<use href="#m6" x="468" y="58.4"/>
<use href="#m6" x="470" y="58.4"/>
<use href="#m6" x="472" y="58.4"/>
<use href="#m6" x="473.9" y="58.4"/>
<use href="#m6" x="475.9" y="58.4"/>
<use href="#m6" x="477.9" y="58.4"/>
<use href="#m6" x="479.8" y="58.4"/>
<use href="#m6" x="481.8" y="58.4"/>
<use href="#m6" x="483.8" y="58.4"/>
<use href="#m6" x="485.7" y="58.4"/>
<use href="#m6" x="487.7" y="58.4"/>
<path d="M293.2 69.6L295.1 29.5L297.1 22.2L299.1 41.1L301 44L303 41.9L305 41.1L306.9 37.1L308.9 31.9L310.8 29.1L312.8 23.3L314.8 23.3L316.7 23.3L318.7 23.3L320.7 23.3L322.6 28.6L324.6 23.3L326.6 24.1L328.5 25.4L330.5 28.3L332.5 28.7L334.4 29.1L336.4 29.1L338.4 29.1L340.3 29.1L342.3 29.2L344.3 29.2L346.2 29.2L348.2 29.2L350.1 29.3L352.1 29.3L354.1 29.3L356 29.3L358 29.3L360 29.4L361.9 29.4L363.9 29.4L365.9 29.4L367.8 29.5L369.8 29.5L371.8 29.5L373.7 29.5L375.7 29.6L377.7 29.6L379.6 29.6L381.6 29.6L383.6 29.7L385.5 29.7L387.5 29.7L389.4 29.7L391.4 29.8L393.4 29.8L395.3 29.8L397.3 29.8L399.3 29.9L401.2 31.1L403.2 31.1L405.2 31.1L407.1 31.1L409.1 31.1L411.1 31.1L413 31.1L415 31.1L417 31.1L418.9 31.1L420.9 31.1L422.9 31.1L424.8 31.1L426.8 31.1L428.8 31.1L430.7 31.1L432.7 31.1L434.6 31.1L436.6 31.1L438.6 31.1L440.5 31.1L442.5 31.1L444.5 31.1L446.4 31.1L448.4 31.1L450.4 31.1L452.3 31.1L454.3 31.1L456.3 31.1L458.2 31.1L460.2 31.1L462.2 31.1L464.1 31.1L466.1 31.1L468 31.1L470 31.1L472 31.1L473.9 31.1L475.9 31.1L477.9 31.1L479.8 31.1L481.8 31.1L483.8 31.1L485.7 31.1L487.7 31.1" fill="none" stroke="#3a64ac" stroke-width="1.0"/>
<use href="#m7" x="293.2" y="69.6"/>
<use href="#m7" x="295.1" y="29.5"/>
<use href="#m7" x="297.1" y="22.2"/>
<use href="#m7" x="299.1" y="41.1"/>
<use href="#m7" x="301" y="44"/>
<use href="#m7" x="303" y="41.9"/>
<use href="#m7" x="305" y="41.1"/>
<use href="#m7" x="306.9" y="37.1"/>
<use href="#m7" x="308.9" y="31.9"/>
<use href="#m7" x="310.8" y="29.1"/>
<use href="#m7" x="312.8" y="23.3"/>
<use href="#m7" x="314.8" y="23.3"/>
<use href="#m7" x="316.7" y="23.3"/>
<use href="#m7" x="318.7" y="23.3"/>
<use href="#m7" x="320.7" y="23.3"/>
<use href="#m7" x="322.6" y="28.6"/>
<use href="#m7" x="324.6" y="23.3"/>
<use href="#m7" x="326.6" y="24.1"/>
<use href="#m7" x="328.5" y="25.4"/>
<use href="#m7" x="330.5" y="28.3"/>
<use href="#m7" x="332.5" y="28.7"/>
<use href="#m7" x="334.4" y="29.1"/>
<use href="#m7" x="336.4" y="29.1"/>
<use href="#m7" x="338.4" y="29.1"/>
<use href="#m7" x="340.3" y="29.1"/>
<use href="#m7" x="342.3" y="29.2"/>
<use href="#m7" x="344.3" y="29.2"/>
<use href="#m7" x="346.2" y="29.2"/>
<use href="#m7" x="348.2" y="29.2"/>
<use href="#m7" x="350.1" y="29.3"/>
<use href="#m7" x="352.1" y="29.3"/>
<use href="#m7" x="354.1" y="29.3"/>
<use href="#m7" x="356" y="29.3"/>
<use href="#m7" x="358" y="29.3"/>
<use href="#m7" x="360" y="29.4"/>
<use href="#m7" x="361.9" y="29.4"/>
<use href="#m7" x="363.9" y="29.4"/>
<use href="#m7" x="365.9" y="29.4"/>
<use href="#m7" x="367.8" y="29.5"/>
<use href="#m7" x="369.8" y="29.5"/>
<use href="#m7" x="371.8" y="29.5"/>
<use href="#m7" x="373.7" y="29.5"/>
<use href="#m7" x="375.7" y="29.6"/>
<use href="#m7" x="377.7" y="29.6"/>
<use href="#m7" x="379.6" y="29.6"/>
<use href="#m7" x="381.6" y="29.6"/>
<use href="#m7" x="383.6" y="29.7"/>
<use href="#m7" x="385.5" y="29.7"/>
<use href="#m7" x="387.5" y="29.7"/>
<use href="#m7" x="389.4" y="29.7"/>
<use href="#m7" x="391.4" y="29.8"/>
<use href="#m7" x="393.4" y="29.8"/>
<use href="#m7" x="395.3" y="29.8"/>
<use href="#m7" x="397.3" y="29.8"/>
<use href="#m7" x="399.3" y="29.9"/>
<use href="#m7" x="401.2" y="31.1"/>
<use href="#m7" x="403.2" y="31.1"/>
<use href="#m7" x="405.2" y="31.1"/>
<use href="#m7" x="407.1" y="31.1"/>
<use href="#m7" x="409.1" y="31.1"/>
<use href="#m7" x="411.1" y="31.1"/>
<use href="#m7" x="413" y="31.1"/>
<use href="#m7" x="415" y="31.1"/>
<use href="#m7" x="417" y="31.1"/>
<use href="#m7" x="418.9" y="31.1"/>
<use href="#m7" x="420.9" y="31.1"/>
<use href="#m7" x="422.9" y="31.1"/>
<use href="#m7" x="424.8" y="31.1"/>
<use href="#m7" x="426.8" y="31.1"/>
<use href="#m7" x="428.8" y="31.1"/>
<use href="#m7" x="430.7" y="31.1"/>
<use href="#m7" x="432.7" y="31.1"/>
<use href="#m7" x="434.6" y="31.1"/>
<use href="#m7" x="436.6" y="31.1"/>
<use href="#m7" x="438.6" y="31.1"/>
<use href="#m7" x="440.5" y="31.1"/>
<use href="#m7" x="442.5" y="31.1"/>
<use href="#m7" x="444.5" y="31.1"/>
<use href="#m7" x="446.4" y="31.1"/>
<use href="#m7" x="448.4" y="31.1"/>
<use href="#m7" x="450.4" y="31.1"/>
<use href="#m7" x="452.3" y="31.1"/>
<use href="#m7" x="454.3" y="31.1"/>
<use href="#m7" x="456.3" y="31.1"/>
<use href="#m7" x="458.2" y="31.1"/>
<use href="#m7" x="460.2" y="31.1"/>
<use href="#m7" x="462.2" y="31.1"/>
<use href="#m7" x="464.1" y="31.1"/>
<use href="#m7" x="466.1" y="31.1"/>
<use href="#m7" x="468" y="31.1"/>
<use href="#m7" x="470" y="31.1"/>
<use href="#m7" x="472" y="31.1"/>
<use href="#m7" x="473.9" y="31.1"/>
<use href="#m7" x="475.9" y="31.1"/>
<use href="#m7" x="477.9" y="31.1"/>
<use href="#m7" x="479.8" y="31.1"/>
<use href="#m7" x="481.8" y="31.1"/>
<use href="#m7" x="483.8" y="31.1"/>
<use href="#m7" x="485.7" y="31.1"/>
<use href="#m7" x="487.7" y="31.1"/>
<path d="M291.2 156.2L293.2 101L295.1 131.7L297.1 132.6L299.1 136.6L301 141.4L303 147.9L305 149.5L306.9 145.5L308.9 148.7L310.8 135L312.8 127.7L314.8 125.3L316.7 127.7L318.7 131.7L320.7 140L322.6 140.6L324.6 140.6L326.6 140.6L328.5 140.6L330.5 140.6L332.5 140.6L334.4 140.6L336.4 140.6L338.4 140.6L340.3 140.6L342.3 140.6L344.3 140.6L346.2 140.6L348.2 140.6L350.1 140.6L352.1 138.2L354.1 138.2L356 138.1L358 138L360 137.9L361.9 137.9L363.9 137.8L365.9 137.7L367.8 137.7L369.8 137.6L371.8 137.5L373.7 137.4L375.7 137.4L377.7 137.3L379.6 137.2L381.6 137.1L383.6 137.1L385.5 137L387.5 136.9L389.4 136.8L391.4 136.8L393.4 136.7L395.3 136.6L397.3 136.6L399.3 136.5L401.2 139.7L403.2 140.5L405.2 140.4L407.1 140.3L409.1 139.7L411.1 139L413 138.8L415 138.6L417 138.6L418.9 138.6L420.9 138.6L422.9 138.6L424.8 138.6L426.8 138.6L428.8 138.6L430.7 138.6L432.7 138.6L434.6 138.6L436.6 138.6L438.6 138.6L440.5 138.6L442.5 138.6L444.5 138.6L446.4 138.6L448.4 138.6L450.4 138.6L452.3 138.6L454.3 138.6L456.3 138.6L458.2 138.6L460.2 138.6L462.2 138.6L464.1 138.6L466.1 138.6L468 138.6L470 138.6L472 138.6L473.9 138.6L475.9 138.6L477.9 138.6L479.8 138.6L481.8 138.6L483.8 138.6L485.7 138.6L487.7 138.6" fill="none" stroke="#f2c01a" stroke-width="1.0"/>
<use href="#m8" x="291.2" y="156.2"/>
<use href="#m8" x="293.2" y="101"/>
<use href="#m8" x="295.1" y="131.7"/>
<use href="#m8" x="297.1" y="132.6"/>
<use href="#m8" x="299.1" y="136.6"/>
<use href="#m8" x="301" y="141.4"/>
<use href="#m8" x="303" y="147.9"/>
<use href="#m8" x="305" y="149.5"/>
<use href="#m8" x="306.9" y="145.5"/>
<use href="#m8" x="308.9" y="148.7"/>
<use href="#m8" x="310.8" y="135"/>
<use href="#m8" x="312.8" y="127.7"/>
<use href="#m8" x="314.8" y="125.3"/>
<use href="#m8" x="316.7" y="127.7"/>
<use href="#m8" x="318.7" y="131.7"/>
<use href="#m8" x="320.7" y="140"/>
<use href="#m8" x="322.6" y="140.6"/>
<use href="#m8" x="324.6" y="140.6"/>
<use href="#m8" x="326.6" y="140.6"/>
<use href="#m8" x="328.5" y="140.6"/>
<use href="#m8" x="330.5" y="140.6"/>
<use href="#m8" x="332.5" y="140.6"/>
<use href="#m8" x="334.4" y="140.6"/>
<use href="#m8" x="336.4" y="140.6"/>
<use href="#m8" x="338.4" y="140.6"/>
<use href="#m8" x="340.3" y="140.6"/>
<use href="#m8" x="342.3" y="140.6"/>
<use href="#m8" x="344.3" y="140.6"/>
<use href="#m8" x="346.2" y="140.6"/>
<use href="#m8" x="348.2" y="140.6"/>
<use href="#m8" x="350.1" y="140.6"/>
<use href="#m8" x="352.1" y="138.2"/>
<use href="#m8" x="354.1" y="138.2"/>
<use href="#m8" x="356" y="138.1"/>
<use href="#m8" x="358" y="138"/>
<use href="#m8" x="360" y="137.9"/>
<use href="#m8" x="361.9" y="137.9"/>
<use href="#m8" x="363.9" y="137.8"/>
<use href="#m8" x="365.9" y="137.7"/>
<use href="#m8" x="367.8" y="137.7"/>
<use href="#m8" x="369.8" y="137.6"/>
<use href="#m8" x="371.8" y="137.5"/>
<use href="#m8" x="373.7" y="137.4"/>
<use href="#m8" x="375.7" y="137.4"/>
<use href="#m8" x="377.7" y="137.3"/>
<use href="#m8" x="379.6" y="137.2"/>
<use href="#m8" x="381.6" y="137.1"/>
<use href="#m8" x="383.6" y="137.1"/>
<use href="#m8" x="385.5" y="137"/>
<use href="#m8" x="387.5" y="136.9"/>
<use href="#m8" x="389.4" y="136.8"/>
<use href="#m8" x="391.4" y="136.8"/>
<use href="#m8" x="393.4" y="136.7"/>
<use href="#m8" x="395.3" y="136.6"/>
<use href="#m8" x="397.3" y="136.6"/>
<use href="#m8" x="399.3" y="136.5"/>
<use href="#m8" x="401.2" y="139.7"/>
<use href="#m8" x="403.2" y="140.5"/>
<use href="#m8" x="405.2" y="140.4"/>
<use href="#m8" x="407.1" y="140.3"/>
<use href="#m8" x="409.1" y="139.7"/>
<use href="#m8" x="411.1" y="139"/>
<use href="#m8" x="413" y="138.8"/>
<use href="#m8" x="415" y="138.6"/>
<use href="#m8" x="417" y="138.6"/>
<use href="#m8" x="418.9" y="138.6"/>
<use href="#m8" x="420.9" y="138.6"/>
<use href="#m8" x="422.9" y="138.6"/>
<use href="#m8" x="424.8" y="138.6"/>
<use href="#m8" x="426.8" y="138.6"/>
<use href="#m8" x="428.8" y="138.6"/>
<use href="#m8" x="430.7" y="138.6"/>
<use href="#m8" x="432.7" y="138.6"/>
<use href="#m8" x="434.6" y="138.6"/>
<use href="#m8" x="436.6" y="138.6"/>
<use href="#m8" x="438.6" y="138.6"/>
<use href="#m8" x="440.5" y="138.6"/>
<use href="#m8" x="442.5" y="138.6"/>
<use href="#m8" x="444.5" y="138.6"/>
<use href="#m8" x="446.4" y="138.6"/>
<use href="#m8" x="448.4" y="138.6"/>
<use href="#m8" x="450.4" y="138.6"/>
<use href="#m8" x="452.3" y="138.6"/>
<use href="#m8" x="454.3" y="138.6"/>
<use href="#m8" x="456.3" y="138.6"/>
<use href="#m8" x="458.2" y="138.6"/>
<use href="#m8" x="460.2" y="138.6"/>
<use href="#m8" x="462.2" y="138.6"/>
<use href="#m8" x="464.1" y="138.6"/>
<use href="#m8" x="466.1" y="138.6"/>
<use href="#m8" x="468" y="138.6"/>
<use href="#m8" x="470" y="138.6"/>
<use href="#m8" x="472" y="138.6"/>
<use href="#m8" x="473.9" y="138.6"/>
<use href="#m8" x="475.9" y="138.6"/>
<use href="#m8" x="477.9" y="138.6"/>
<use href="#m8" x="479.8" y="138.6"/>
<use href="#m8" x="481.8" y="138.6"/>
<use href="#m8" x="483.8" y="138.6"/>
<use href="#m8" x="485.7" y="138.6"/>
<use href="#m8" x="487.7" y="138.6"/>
<path d="M293.2 122L295.1 115.8L297.1 108.3L299.1 99.1L301 105.1L303 116.9L305 117.1L306.9 139.5L308.9 149.8L310.8 153.5L312.8 143.1L314.8 143.1L316.7 137.4L318.7 132.6L320.7 121.2L322.6 119.6L324.6 120.4L326.6 120.4L328.5 120.4L330.5 120.4L332.5 120.4L334.4 120.4L336.4 120.4L338.4 125.7L340.3 125.7L342.3 125.7L344.3 125.7L346.2 122L348.2 120.4L350.1 120.5L352.1 120.5L354.1 120.6L356 120.6L358 120.7L360 120.7L361.9 120.8L363.9 120.8L365.9 120.9L367.8 120.9L369.8 121L371.8 121L373.7 121.1L375.7 121.1L377.7 121.2L379.6 121.2L381.6 121.3L383.6 121.3L385.5 121.4L387.5 121.4L389.4 121.5L391.4 121.5L393.4 121.6L395.3 121.6L397.3 121.7L399.3 121.7L401.2 120.9L403.2 120.9L405.2 120.9L407.1 120.9L409.1 120.9L411.1 120.9L413 120.9L415 120.9L417 120.9L418.9 120.9L420.9 120.9L422.9 120.9L424.8 120.9L426.8 120.9L428.8 120.9L430.7 120.9L432.7 120.9L434.6 120.9L436.6 120.9L438.6 120.9L440.5 120.9L442.5 120.9L444.5 120.9L446.4 120.9L448.4 120.9L450.4 120.9L452.3 120.9L454.3 120.9L456.3 120.9L458.2 120.9L460.2 120.9L462.2 120.9L464.1 120.9L466.1 120.9L468 120.9L470 120.9L472 120.9L473.9 120.9L475.9 120.9L477.9 120.9L479.8 120.9L481.8 120.9L483.8 120.9L485.7 120.9L487.7 120.9" fill="none" stroke="#e8202a" stroke-width="1.0"/>
<use href="#m9" x="293.2" y="122"/>
<use href="#m9" x="295.1" y="115.8"/>
<use href="#m9" x="297.1" y="108.3"/>
<use href="#m9" x="299.1" y="99.1"/>
<use href="#m9" x="301" y="105.1"/>
<use href="#m9" x="303" y="116.9"/>
<use href="#m9" x="305" y="117.1"/>
<use href="#m9" x="306.9" y="139.5"/>
<use href="#m9" x="308.9" y="149.8"/>
<use href="#m9" x="310.8" y="153.5"/>
<use href="#m9" x="312.8" y="143.1"/>
<use href="#m9" x="314.8" y="143.1"/>
<use href="#m9" x="316.7" y="137.4"/>
<use href="#m9" x="318.7" y="132.6"/>
<use href="#m9" x="320.7" y="121.2"/>
<use href="#m9" x="322.6" y="119.6"/>
<use href="#m9" x="324.6" y="120.4"/>
<use href="#m9" x="326.6" y="120.4"/>
<use href="#m9" x="328.5" y="120.4"/>
<use href="#m9" x="330.5" y="120.4"/>
<use href="#m9" x="332.5" y="120.4"/>
<use href="#m9" x="334.4" y="120.4"/>
<use href="#m9" x="336.4" y="120.4"/>
<use href="#m9" x="338.4" y="125.7"/>
<use href="#m9" x="340.3" y="125.7"/>
<use href="#m9" x="342.3" y="125.7"/>
<use href="#m9" x="344.3" y="125.7"/>
<use href="#m9" x="346.2" y="122"/>
<use href="#m9" x="348.2" y="120.4"/>
<use href="#m9" x="350.1" y="120.5"/>
<use href="#m9" x="352.1" y="120.5"/>
<use href="#m9" x="354.1" y="120.6"/>
<use href="#m9" x="356" y="120.6"/>
<use href="#m9" x="358" y="120.7"/>
<use href="#m9" x="360" y="120.7"/>
<use href="#m9" x="361.9" y="120.8"/>
<use href="#m9" x="363.9" y="120.8"/>
<use href="#m9" x="365.9" y="120.9"/>
<use href="#m9" x="367.8" y="120.9"/>
<use href="#m9" x="369.8" y="121"/>
<use href="#m9" x="371.8" y="121"/>
<use href="#m9" x="373.7" y="121.1"/>
<use href="#m9" x="375.7" y="121.1"/>
<use href="#m9" x="377.7" y="121.2"/>
<use href="#m9" x="379.6" y="121.2"/>
<use href="#m9" x="381.6" y="121.3"/>
<use href="#m9" x="383.6" y="121.3"/>
<use href="#m9" x="385.5" y="121.4"/>
<use href="#m9" x="387.5" y="121.4"/>
<use href="#m9" x="389.4" y="121.5"/>
<use href="#m9" x="391.4" y="121.5"/>
<use href="#m9" x="393.4" y="121.6"/>
<use href="#m9" x="395.3" y="121.6"/>
<use href="#m9" x="397.3" y="121.7"/>
<use href="#m9" x="399.3" y="121.7"/>
<use href="#m9" x="401.2" y="120.9"/>
<use href="#m9" x="403.2" y="120.9"/>
<use href="#m9" x="405.2" y="120.9"/>
<use href="#m9" x="407.1" y="120.9"/>
<use href="#m9" x="409.1" y="120.9"/>
<use href="#m9" x="411.1" y="120.9"/>
<use href="#m9" x="413" y="120.9"/>
<use href="#m9" x="415" y="120.9"/>
<use href="#m9" x="417" y="120.9"/>
<use href="#m9" x="418.9" y="120.9"/>
<use href="#m9" x="420.9" y="120.9"/>
<use href="#m9" x="422.9" y="120.9"/>
<use href="#m9" x="424.8" y="120.9"/>
<use href="#m9" x="426.8" y="120.9"/>
<use href="#m9" x="428.8" y="120.9"/>
<use href="#m9" x="430.7" y="120.9"/>
<use href="#m9" x="432.7" y="120.9"/>
<use href="#m9" x="434.6" y="120.9"/>
<use href="#m9" x="436.6" y="120.9"/>
<use href="#m9" x="438.6" y="120.9"/>
<use href="#m9" x="440.5" y="120.9"/>
<use href="#m9" x="442.5" y="120.9"/>
<use href="#m9" x="444.5" y="120.9"/>
<use href="#m9" x="446.4" y="120.9"/>
<use href="#m9" x="448.4" y="120.9"/>
<use href="#m9" x="450.4" y="120.9"/>
<use href="#m9" x="452.3" y="120.9"/>
<use href="#m9" x="454.3" y="120.9"/>
<use href="#m9" x="456.3" y="120.9"/>
<use href="#m9" x="458.2" y="120.9"/>
<use href="#m9" x="460.2" y="120.9"/>
<use href="#m9" x="462.2" y="120.9"/>
<use href="#m9" x="464.1" y="120.9"/>
<use href="#m9" x="466.1" y="120.9"/>
<use href="#m9" x="468" y="120.9"/>
<use href="#m9" x="470" y="120.9"/>
<use href="#m9" x="472" y="120.9"/>
<use href="#m9" x="473.9" y="120.9"/>
<use href="#m9" x="475.9" y="120.9"/>
<use href="#m9" x="477.9" y="120.9"/>
<use href="#m9" x="479.8" y="120.9"/>
<use href="#m9" x="481.8" y="120.9"/>
<use href="#m9" x="483.8" y="120.9"/>
<use href="#m9" x="485.7" y="120.9"/>
<use href="#m9" x="487.7" y="120.9"/>
<rect x="291.2" y="11.9" width="196.5" height="144.3" fill="none" stroke="#333" stroke-width="1.1"/>
<line x1="291.2" y1="156.2" x2="291.2" y2="159.2" stroke="#333" stroke-width="1"/>
<text x="291.2" y="167.7" font-size="9.1" text-anchor="middle" fill="#1a1a1a" font-family="Liberation Sans, sans-serif" >0</text>
<line x1="310.8" y1="156.2" x2="310.8" y2="158" stroke="#333" stroke-width="1"/>
<line x1="330.5" y1="156.2" x2="330.5" y2="159.2" stroke="#333" stroke-width="1"/>
<text x="330.5" y="167.7" font-size="9.1" text-anchor="middle" fill="#1a1a1a" font-family="Liberation Sans, sans-serif" >20</text>
<line x1="350.1" y1="156.2" x2="350.1" y2="158" stroke="#333" stroke-width="1"/>
<line x1="369.8" y1="156.2" x2="369.8" y2="159.2" stroke="#333" stroke-width="1"/>
<text x="369.8" y="167.7" font-size="9.1" text-anchor="middle" fill="#1a1a1a" font-family="Liberation Sans, sans-serif" >40</text>
<line x1="389.4" y1="156.2" x2="389.4" y2="158" stroke="#333" stroke-width="1"/>
<line x1="409.1" y1="156.2" x2="409.1" y2="159.2" stroke="#333" stroke-width="1"/>
<text x="409.1" y="167.7" font-size="9.1" text-anchor="middle" fill="#1a1a1a" font-family="Liberation Sans, sans-serif" >60</text>
<line x1="428.8" y1="156.2" x2="428.8" y2="158" stroke="#333" stroke-width="1"/>
<line x1="448.4" y1="156.2" x2="448.4" y2="159.2" stroke="#333" stroke-width="1"/>
<text x="448.4" y="167.7" font-size="9.1" text-anchor="middle" fill="#1a1a1a" font-family="Liberation Sans, sans-serif" >80</text>
<line x1="468" y1="156.2" x2="468" y2="158" stroke="#333" stroke-width="1"/>
<line x1="487.7" y1="156.2" x2="487.7" y2="159.2" stroke="#333" stroke-width="1"/>
<text x="487.7" y="167.7" font-size="9.1" text-anchor="middle" fill="#1a1a1a" font-family="Liberation Sans, sans-serif" >100</text>
<line x1="288.2" y1="156.2" x2="291.2" y2="156.2" stroke="#333" stroke-width="1"/>
<text x="287.3" y="159.5" font-size="9.1" text-anchor="end" fill="#333" font-family="Liberation Sans, sans-serif">0</text>
<line x1="289.4" y1="148.2" x2="291.2" y2="148.2" stroke="#333" stroke-width="1"/>
<line x1="288.2" y1="140.2" x2="291.2" y2="140.2" stroke="#333" stroke-width="1"/>
<text x="287.3" y="143.4" font-size="9.1" text-anchor="end" fill="#333" font-family="Liberation Sans, sans-serif">10</text>
<line x1="289.4" y1="132.2" x2="291.2" y2="132.2" stroke="#333" stroke-width="1"/>
<line x1="288.2" y1="124.1" x2="291.2" y2="124.1" stroke="#333" stroke-width="1"/>
<text x="287.3" y="127.4" font-size="9.1" text-anchor="end" fill="#333" font-family="Liberation Sans, sans-serif">20</text>
<line x1="289.4" y1="116.1" x2="291.2" y2="116.1" stroke="#333" stroke-width="1"/>
<line x1="288.2" y1="108.1" x2="291.2" y2="108.1" stroke="#333" stroke-width="1"/>
<text x="287.3" y="111.4" font-size="9.1" text-anchor="end" fill="#333" font-family="Liberation Sans, sans-serif">30</text>
<line x1="289.4" y1="100.1" x2="291.2" y2="100.1" stroke="#333" stroke-width="1"/>
<line x1="288.2" y1="92.1" x2="291.2" y2="92.1" stroke="#333" stroke-width="1"/>
<text x="287.3" y="95.3" font-size="9.1" text-anchor="end" fill="#333" font-family="Liberation Sans, sans-serif">40</text>
<line x1="289.4" y1="84" x2="291.2" y2="84" stroke="#333" stroke-width="1"/>
<line x1="288.2" y1="76" x2="291.2" y2="76" stroke="#333" stroke-width="1"/>
<text x="287.3" y="79.3" font-size="9.1" text-anchor="end" fill="#333" font-family="Liberation Sans, sans-serif">50</text>
<line x1="289.4" y1="68" x2="291.2" y2="68" stroke="#333" stroke-width="1"/>
<line x1="288.2" y1="60" x2="291.2" y2="60" stroke="#333" stroke-width="1"/>
<text x="287.3" y="63.3" font-size="9.1" text-anchor="end" fill="#333" font-family="Liberation Sans, sans-serif">60</text>
<line x1="289.4" y1="52" x2="291.2" y2="52" stroke="#333" stroke-width="1"/>
<line x1="288.2" y1="44" x2="291.2" y2="44" stroke="#333" stroke-width="1"/>
<text x="287.3" y="47.2" font-size="9.1" text-anchor="end" fill="#333" font-family="Liberation Sans, sans-serif">70</text>
<line x1="289.4" y1="36" x2="291.2" y2="36" stroke="#333" stroke-width="1"/>
<line x1="288.2" y1="27.9" x2="291.2" y2="27.9" stroke="#333" stroke-width="1"/>
<text x="287.3" y="31.2" font-size="9.1" text-anchor="end" fill="#333" font-family="Liberation Sans, sans-serif">80</text>
<line x1="289.4" y1="19.9" x2="291.2" y2="19.9" stroke="#333" stroke-width="1"/>
<line x1="288.2" y1="11.9" x2="291.2" y2="11.9" stroke="#333" stroke-width="1"/>
<text x="287.3" y="15.2" font-size="9.1" text-anchor="end" fill="#333" font-family="Liberation Sans, sans-serif">90</text>
<text x="268.5" y="85" font-size="10" text-anchor="middle" transform="rotate(-90 268.5 85)" dy="3.6" fill="#222" font-family="Liberation Sans, sans-serif">State</text>
<text x="391.6" y="178.1" font-size="9.8" text-anchor="middle" fill="#222" font-family="Liberation Sans, sans-serif">Iterations</text>
<line x1="389.9" y1="72.9" x2="406.7" y2="72.9" stroke="#e8202a" stroke-width="1.3"/>
<use href="#m10" x="398.3" y="72.9"/>
<text x="409.3" y="76.2" font-size="9.15" fill="#2a2a2a" font-family="Liberation Sans, sans-serif">X Global Best d12</text>
<line x1="389.9" y1="84.5" x2="406.7" y2="84.5" stroke="#3a64ac" stroke-width="1.3"/>
<use href="#m4" x="398.3" y="84.5"/>
<text x="409.3" y="87.8" font-size="9.15" fill="#2a2a2a" font-family="Liberation Sans, sans-serif">X Global Best d23</text>
<line x1="389.9" y1="95.4" x2="406.7" y2="95.4" stroke="#f2c01a" stroke-width="1.3"/>
<use href="#m5" x="398.3" y="95.4"/>
<text x="409.3" y="98.7" font-size="9.15" fill="#2a2a2a" font-family="Liberation Sans, sans-serif">X Global Best d34</text>
<line x1="389.9" y1="107" x2="406.7" y2="107" stroke="#3cc070" stroke-width="1.3"/>
<use href="#m11" x="398.3" y="107"/>
<text x="409.3" y="110.3" font-size="9.15" fill="#2a2a2a" font-family="Liberation Sans, sans-serif">X Global Best d45</text>
<text x="254.1" y="20.6" font-size="16.5" fill="#222" font-family="Liberation Serif, serif">(b)</text>
</g>
<g clip-path="url(#cc)">
<path d="M48.1 264.9L50.1 263.3L52 222.6L54 217.4L56 212.3L57.9 225.2L59.9 224.3L61.9 221.1L63.8 217.9L65.8 214.7L67.8 213.9L69.7 213.1L71.7 211.4L73.6 209.7L75.6 212.2L77.6 214.7L79.5 213.1L81.5 212.3L83.5 211.5L85.4 212L87.4 212.5L89.4 213.1L91.3 211.4L93.3 209.7L95.3 211L97.2 212.3L99.2 211.7L101.2 211.1L103.1 210.5L105.1 210.8L107.1 211L109 211.2L111 211.5L112.9 211.9L114.9 212.2L116.9 212.6L118.8 212.6L120.8 212.6L122.8 212.6L124.7 212.6L126.7 212.6L128.7 212.6L130.6 212.6L132.6 212.6L134.6 212.6L136.5 212.7L138.5 212.7L140.5 212.7L142.4 212.7L144.4 212.7L146.3 212.7L148.3 212.7L150.3 212.7L152.2 212.7L154.2 212.7L156.2 212.7L158.1 212.7L160.1 212.7L162.1 212.7L164 212.7L166 212.7L168 212.7L169.9 212.7L171.9 212.7L173.9 212.7L175.8 212.8L177.8 212.8L179.8 212.8L181.7 212.8L183.7 212.8L185.7 212.8L187.6 212.8L189.6 212.8L191.5 212.8L193.5 212.8L195.5 212.8L197.4 212.8L199.4 212.8L201.4 212.8L203.3 212.8L205.3 212.8L207.3 212.8L209.2 212.8L211.2 212.8L213.2 212.8L215.1 212.8L217.1 212.9L219.1 212.9L221 212.9L223 212.9L224.9 212.9L226.9 212.9L228.9 212.9L230.8 212.9L232.8 212.9L234.8 212.9L236.7 212.9L238.7 212.9L240.7 212.9L242.6 212.9L244.6 212.9" fill="none" stroke="#9c9c9c" stroke-width="1.0"/>
<use href="#m12" x="48.1" y="264.9"/>
<use href="#m12" x="50.1" y="263.3"/>
<use href="#m12" x="52" y="222.6"/>
<use href="#m12" x="54" y="217.4"/>
<use href="#m12" x="56" y="212.3"/>
<use href="#m12" x="57.9" y="225.2"/>
<use href="#m12" x="59.9" y="224.3"/>
<use href="#m12" x="61.9" y="221.1"/>
<use href="#m12" x="63.8" y="217.9"/>
<use href="#m12" x="65.8" y="214.7"/>
<use href="#m12" x="67.8" y="213.9"/>
<use href="#m12" x="69.7" y="213.1"/>
<use href="#m12" x="71.7" y="211.4"/>
<use href="#m12" x="73.6" y="209.7"/>
<use href="#m12" x="75.6" y="212.2"/>
<use href="#m12" x="77.6" y="214.7"/>
<use href="#m12" x="79.5" y="213.1"/>
<use href="#m12" x="81.5" y="212.3"/>
<use href="#m12" x="83.5" y="211.5"/>
<use href="#m12" x="85.4" y="212"/>
<use href="#m12" x="87.4" y="212.5"/>
<use href="#m12" x="89.4" y="213.1"/>
<use href="#m12" x="91.3" y="211.4"/>
<use href="#m12" x="93.3" y="209.7"/>
<use href="#m12" x="95.3" y="211"/>
<use href="#m12" x="97.2" y="212.3"/>
<use href="#m12" x="99.2" y="211.7"/>
<use href="#m12" x="101.2" y="211.1"/>
<use href="#m12" x="103.1" y="210.5"/>
<use href="#m12" x="105.1" y="210.8"/>
<use href="#m12" x="107.1" y="211"/>
<use href="#m12" x="109" y="211.2"/>
<use href="#m12" x="111" y="211.5"/>
<use href="#m12" x="112.9" y="211.9"/>
<use href="#m12" x="114.9" y="212.2"/>
<use href="#m12" x="116.9" y="212.6"/>
<use href="#m12" x="118.8" y="212.6"/>
<use href="#m12" x="120.8" y="212.6"/>
<use href="#m12" x="122.8" y="212.6"/>
<use href="#m12" x="124.7" y="212.6"/>
<use href="#m12" x="126.7" y="212.6"/>
<use href="#m12" x="128.7" y="212.6"/>
<use href="#m12" x="130.6" y="212.6"/>
<use href="#m12" x="132.6" y="212.6"/>
<use href="#m12" x="134.6" y="212.6"/>
<use href="#m12" x="136.5" y="212.7"/>
<use href="#m12" x="138.5" y="212.7"/>
<use href="#m12" x="140.5" y="212.7"/>
<use href="#m12" x="142.4" y="212.7"/>
<use href="#m12" x="144.4" y="212.7"/>
<use href="#m12" x="146.3" y="212.7"/>
<use href="#m12" x="148.3" y="212.7"/>
<use href="#m12" x="150.3" y="212.7"/>
<use href="#m12" x="152.2" y="212.7"/>
<use href="#m12" x="154.2" y="212.7"/>
<use href="#m12" x="156.2" y="212.7"/>
<use href="#m12" x="158.1" y="212.7"/>
<use href="#m12" x="160.1" y="212.7"/>
<use href="#m12" x="162.1" y="212.7"/>
<use href="#m12" x="164" y="212.7"/>
<use href="#m12" x="166" y="212.7"/>
<use href="#m12" x="168" y="212.7"/>
<use href="#m12" x="169.9" y="212.7"/>
<use href="#m12" x="171.9" y="212.7"/>
<use href="#m12" x="173.9" y="212.7"/>
<use href="#m12" x="175.8" y="212.8"/>
<use href="#m12" x="177.8" y="212.8"/>
<use href="#m12" x="179.8" y="212.8"/>
<use href="#m12" x="181.7" y="212.8"/>
<use href="#m12" x="183.7" y="212.8"/>
<use href="#m12" x="185.7" y="212.8"/>
<use href="#m12" x="187.6" y="212.8"/>
<use href="#m12" x="189.6" y="212.8"/>
<use href="#m12" x="191.5" y="212.8"/>
<use href="#m12" x="193.5" y="212.8"/>
<use href="#m12" x="195.5" y="212.8"/>
<use href="#m12" x="197.4" y="212.8"/>
<use href="#m12" x="199.4" y="212.8"/>
<use href="#m12" x="201.4" y="212.8"/>
<use href="#m12" x="203.3" y="212.8"/>
<use href="#m12" x="205.3" y="212.8"/>
<use href="#m12" x="207.3" y="212.8"/>
<use href="#m12" x="209.2" y="212.8"/>
<use href="#m12" x="211.2" y="212.8"/>
<use href="#m12" x="213.2" y="212.8"/>
<use href="#m12" x="215.1" y="212.8"/>
<use href="#m12" x="217.1" y="212.9"/>
<use href="#m12" x="219.1" y="212.9"/>
<use href="#m12" x="221" y="212.9"/>
<use href="#m12" x="223" y="212.9"/>
<use href="#m12" x="224.9" y="212.9"/>
<use href="#m12" x="226.9" y="212.9"/>
<use href="#m12" x="228.9" y="212.9"/>
<use href="#m12" x="230.8" y="212.9"/>
<use href="#m12" x="232.8" y="212.9"/>
<use href="#m12" x="234.8" y="212.9"/>
<use href="#m12" x="236.7" y="212.9"/>
<use href="#m12" x="238.7" y="212.9"/>
<use href="#m12" x="240.7" y="212.9"/>
<use href="#m12" x="242.6" y="212.9"/>
<use href="#m12" x="244.6" y="212.9"/>
<path d="M48.1 263.3L50.1 267.9L52 267.1L54 238.8L56 216.9L57.9 224.3L59.9 233.2L61.9 241.4L63.8 236.4L65.8 235.6L67.8 238.8L69.7 243.7L71.7 246.9L73.6 245.7L75.6 244.5L77.6 242L79.5 239.6L81.5 239.6L83.5 239.6L85.4 239.6L87.4 240.5L89.4 241.4L91.3 241.5L93.3 241.7L95.3 241.8L97.2 241.9L99.2 242L101.2 241.9L103.1 241.8L105.1 241.7L107.1 241.6L109 241.5L111 241.4L112.9 241.4L114.9 241.4L116.9 241.4L118.8 241.4L120.8 241.3L122.8 241.3L124.7 241.3L126.7 241.3L128.7 241.3L130.6 241.3L132.6 241.3L134.6 241.3L136.5 241.2L138.5 241.2L140.5 241.2L142.4 241.2L144.4 241.2L146.3 241.2L148.3 241.2L150.3 241.2L152.2 241.2L154.2 241.1L156.2 241.1L158.1 241.1L160.1 241.1L162.1 241.1L164 241.1L166 241.1L168 241.1L169.9 241L171.9 241L173.9 241L175.8 241L177.8 241L179.8 241L181.7 241L183.7 241L185.7 241L187.6 240.9L189.6 240.9L191.5 240.9L193.5 240.9L195.5 240.9L197.4 240.9L199.4 240.9L201.4 240.9L203.3 240.8L205.3 240.8L207.3 240.8L209.2 240.8L211.2 240.8L213.2 240.8L215.1 240.8L217.1 240.8L219.1 240.8L221 240.7L223 240.7L224.9 240.7L226.9 240.7L228.9 240.7L230.8 240.7L232.8 240.7L234.8 240.7L236.7 240.6L238.7 240.6L240.7 240.6L242.6 240.6L244.6 240.6" fill="none" stroke="#4b9be0" stroke-width="1.0"/>
<use href="#m13" x="48.1" y="263.3"/>
<use href="#m13" x="50.1" y="267.9"/>
<use href="#m13" x="52" y="267.1"/>
<use href="#m13" x="54" y="238.8"/>
<use href="#m13" x="56" y="216.9"/>
<use href="#m13" x="57.9" y="224.3"/>
<use href="#m13" x="59.9" y="233.2"/>
<use href="#m13" x="61.9" y="241.4"/>
<use href="#m13" x="63.8" y="236.4"/>
<use href="#m13" x="65.8" y="235.6"/>
<use href="#m13" x="67.8" y="238.8"/>
<use href="#m13" x="69.7" y="243.7"/>
<use href="#m13" x="71.7" y="246.9"/>
<use href="#m13" x="73.6" y="245.7"/>
<use href="#m13" x="75.6" y="244.5"/>
<use href="#m13" x="77.6" y="242"/>
<use href="#m13" x="79.5" y="239.6"/>
<use href="#m13" x="81.5" y="239.6"/>
<use href="#m13" x="83.5" y="239.6"/>
<use href="#m13" x="85.4" y="239.6"/>
<use href="#m13" x="87.4" y="240.5"/>
<use href="#m13" x="89.4" y="241.4"/>
<use href="#m13" x="91.3" y="241.5"/>
<use href="#m13" x="93.3" y="241.7"/>
<use href="#m13" x="95.3" y="241.8"/>
<use href="#m13" x="97.2" y="241.9"/>
<use href="#m13" x="99.2" y="242"/>
<use href="#m13" x="101.2" y="241.9"/>
<use href="#m13" x="103.1" y="241.8"/>
<use href="#m13" x="105.1" y="241.7"/>
<use href="#m13" x="107.1" y="241.6"/>
<use href="#m13" x="109" y="241.5"/>
<use href="#m13" x="111" y="241.4"/>
<use href="#m13" x="112.9" y="241.4"/>
<use href="#m13" x="114.9" y="241.4"/>
<use href="#m13" x="116.9" y="241.4"/>
<use href="#m13" x="118.8" y="241.4"/>
<use href="#m13" x="120.8" y="241.3"/>
<use href="#m13" x="122.8" y="241.3"/>
<use href="#m13" x="124.7" y="241.3"/>
<use href="#m13" x="126.7" y="241.3"/>
<use href="#m13" x="128.7" y="241.3"/>
<use href="#m13" x="130.6" y="241.3"/>
<use href="#m13" x="132.6" y="241.3"/>
<use href="#m13" x="134.6" y="241.3"/>
<use href="#m13" x="136.5" y="241.2"/>
<use href="#m13" x="138.5" y="241.2"/>
<use href="#m13" x="140.5" y="241.2"/>
<use href="#m13" x="142.4" y="241.2"/>
<use href="#m13" x="144.4" y="241.2"/>
<use href="#m13" x="146.3" y="241.2"/>
<use href="#m13" x="148.3" y="241.2"/>
<use href="#m13" x="150.3" y="241.2"/>
<use href="#m13" x="152.2" y="241.2"/>
<use href="#m13" x="154.2" y="241.1"/>
<use href="#m13" x="156.2" y="241.1"/>
<use href="#m13" x="158.1" y="241.1"/>
<use href="#m13" x="160.1" y="241.1"/>
<use href="#m13" x="162.1" y="241.1"/>
<use href="#m13" x="164" y="241.1"/>
<use href="#m13" x="166" y="241.1"/>
<use href="#m13" x="168" y="241.1"/>
<use href="#m13" x="169.9" y="241"/>
<use href="#m13" x="171.9" y="241"/>
<use href="#m13" x="173.9" y="241"/>
<use href="#m13" x="175.8" y="241"/>
<use href="#m13" x="177.8" y="241"/>
<use href="#m13" x="179.8" y="241"/>
<use href="#m13" x="181.7" y="241"/>
<use href="#m13" x="183.7" y="241"/>
<use href="#m13" x="185.7" y="241"/>
<use href="#m13" x="187.6" y="240.9"/>
<use href="#m13" x="189.6" y="240.9"/>
<use href="#m13" x="191.5" y="240.9"/>
<use href="#m13" x="193.5" y="240.9"/>
<use href="#m13" x="195.5" y="240.9"/>
<use href="#m13" x="197.4" y="240.9"/>
<use href="#m13" x="199.4" y="240.9"/>
<use href="#m13" x="201.4" y="240.9"/>
<use href="#m13" x="203.3" y="240.8"/>
<use href="#m13" x="205.3" y="240.8"/>
<use href="#m13" x="207.3" y="240.8"/>
<use href="#m13" x="209.2" y="240.8"/>
<use href="#m13" x="211.2" y="240.8"/>
<use href="#m13" x="213.2" y="240.8"/>
<use href="#m13" x="215.1" y="240.8"/>
<use href="#m13" x="217.1" y="240.8"/>
<use href="#m13" x="219.1" y="240.8"/>
<use href="#m13" x="221" y="240.7"/>
<use href="#m13" x="223" y="240.7"/>
<use href="#m13" x="224.9" y="240.7"/>
<use href="#m13" x="226.9" y="240.7"/>
<use href="#m13" x="228.9" y="240.7"/>
<use href="#m13" x="230.8" y="240.7"/>
<use href="#m13" x="232.8" y="240.7"/>
<use href="#m13" x="234.8" y="240.7"/>
<use href="#m13" x="236.7" y="240.6"/>
<use href="#m13" x="238.7" y="240.6"/>
<use href="#m13" x="240.7" y="240.6"/>
<use href="#m13" x="242.6" y="240.6"/>
<use href="#m13" x="244.6" y="240.6"/>
<path d="M48.1 263.3L50.1 278.2L52 313.6L54 312.8L56 305.6L57.9 304.8L59.9 305.2L61.9 305.6L63.8 309.6L65.8 319.4L67.8 322.7L69.7 325.9L71.7 315.2L73.6 309.6L75.6 310.7L77.6 313.6L79.5 317.7L81.5 322.7L83.5 322.4L85.4 322.2L87.4 322.4L89.4 322.7L91.3 322.6L93.3 322.5L95.3 322.4L97.2 322.3L99.2 322.2L101.2 322L103.1 321.8L105.1 321.6L107.1 321.4L109 321.2L111 321.1L112.9 321L114.9 321L116.9 320.9L118.8 320.8L120.8 320.7L122.8 320.7L124.7 320.7L126.7 320.7L128.7 320.7L130.6 320.7L132.6 320.7L134.6 320.7L136.5 320.7L138.5 320.7L140.5 320.7L142.4 320.7L144.4 320.7L146.3 320.7L148.3 320.7L150.3 320.7L152.2 320.7L154.2 320.7L156.2 320.7L158.1 320.7L160.1 321.5L162.1 322.3L164 321.8L166 321.2L168 321.2L169.9 321.2L171.9 321.2L173.9 321.2L175.8 321.2L177.8 321.2L179.8 321.1L181.7 321.1L183.7 321.1L185.7 321.1L187.6 321.1L189.6 321.1L191.5 321.1L193.5 321.1L195.5 321.1L197.4 321.1L199.4 321.1L201.4 321.1L203.3 321L205.3 321L207.3 321L209.2 321L211.2 321L213.2 321L215.1 321L217.1 321L219.1 321L221 321L223 321L224.9 321L226.9 321L228.9 320.9L230.8 320.9L232.8 320.9L234.8 320.9L236.7 320.9L238.7 320.9L240.7 320.9L242.6 320.9L244.6 320.9" fill="none" stroke="#f25a5a" stroke-width="1.0"/>
<use href="#m14" x="48.1" y="263.3"/>
<use href="#m14" x="50.1" y="278.2"/>
<use href="#m14" x="52" y="313.6"/>
<use href="#m14" x="54" y="312.8"/>
<use href="#m14" x="56" y="305.6"/>
<use href="#m14" x="57.9" y="304.8"/>
<use href="#m14" x="59.9" y="305.2"/>
<use href="#m14" x="61.9" y="305.6"/>
<use href="#m14" x="63.8" y="309.6"/>
<use href="#m14" x="65.8" y="319.4"/>
<use href="#m14" x="67.8" y="322.7"/>
<use href="#m14" x="69.7" y="325.9"/>
<use href="#m14" x="71.7" y="315.2"/>
<use href="#m14" x="73.6" y="309.6"/>
<use href="#m14" x="75.6" y="310.7"/>
<use href="#m14" x="77.6" y="313.6"/>
<use href="#m14" x="79.5" y="317.7"/>
<use href="#m14" x="81.5" y="322.7"/>
<use href="#m14" x="83.5" y="322.4"/>
<use href="#m14" x="85.4" y="322.2"/>
<use href="#m14" x="87.4" y="322.4"/>
<use href="#m14" x="89.4" y="322.7"/>
<use href="#m14" x="91.3" y="322.6"/>
<use href="#m14" x="93.3" y="322.5"/>
<use href="#m14" x="95.3" y="322.4"/>
<use href="#m14" x="97.2" y="322.3"/>
<use href="#m14" x="99.2" y="322.2"/>
<use href="#m14" x="101.2" y="322"/>
<use href="#m14" x="103.1" y="321.8"/>
<use href="#m14" x="105.1" y="321.6"/>
<use href="#m14" x="107.1" y="321.4"/>
<use href="#m14" x="109" y="321.2"/>
<use href="#m14" x="111" y="321.1"/>
<use href="#m14" x="112.9" y="321"/>
<use href="#m14" x="114.9" y="321"/>
<use href="#m14" x="116.9" y="320.9"/>
<use href="#m14" x="118.8" y="320.8"/>
<use href="#m14" x="120.8" y="320.7"/>
<use href="#m14" x="122.8" y="320.7"/>
<use href="#m14" x="124.7" y="320.7"/>
<use href="#m14" x="126.7" y="320.7"/>
<use href="#m14" x="128.7" y="320.7"/>
<use href="#m14" x="130.6" y="320.7"/>
<use href="#m14" x="132.6" y="320.7"/>
<use href="#m14" x="134.6" y="320.7"/>
<use href="#m14" x="136.5" y="320.7"/>
<use href="#m14" x="138.5" y="320.7"/>
<use href="#m14" x="140.5" y="320.7"/>
<use href="#m14" x="142.4" y="320.7"/>
<use href="#m14" x="144.4" y="320.7"/>
<use href="#m14" x="146.3" y="320.7"/>
<use href="#m14" x="148.3" y="320.7"/>
<use href="#m14" x="150.3" y="320.7"/>
<use href="#m14" x="152.2" y="320.7"/>
<use href="#m14" x="154.2" y="320.7"/>
<use href="#m14" x="156.2" y="320.7"/>
<use href="#m14" x="158.1" y="320.7"/>
<use href="#m14" x="160.1" y="321.5"/>
<use href="#m14" x="162.1" y="322.3"/>
<use href="#m14" x="164" y="321.8"/>
<use href="#m14" x="166" y="321.2"/>
<use href="#m14" x="168" y="321.2"/>
<use href="#m14" x="169.9" y="321.2"/>
<use href="#m14" x="171.9" y="321.2"/>
<use href="#m14" x="173.9" y="321.2"/>
<use href="#m14" x="175.8" y="321.2"/>
<use href="#m14" x="177.8" y="321.2"/>
<use href="#m14" x="179.8" y="321.1"/>
<use href="#m14" x="181.7" y="321.1"/>
<use href="#m14" x="183.7" y="321.1"/>
<use href="#m14" x="185.7" y="321.1"/>
<use href="#m14" x="187.6" y="321.1"/>
<use href="#m14" x="189.6" y="321.1"/>
<use href="#m14" x="191.5" y="321.1"/>
<use href="#m14" x="193.5" y="321.1"/>
<use href="#m14" x="195.5" y="321.1"/>
<use href="#m14" x="197.4" y="321.1"/>
<use href="#m14" x="199.4" y="321.1"/>
<use href="#m14" x="201.4" y="321.1"/>
<use href="#m14" x="203.3" y="321"/>
<use href="#m14" x="205.3" y="321"/>
<use href="#m14" x="207.3" y="321"/>
<use href="#m14" x="209.2" y="321"/>
<use href="#m14" x="211.2" y="321"/>
<use href="#m14" x="213.2" y="321"/>
<use href="#m14" x="215.1" y="321"/>
<use href="#m14" x="217.1" y="321"/>
<use href="#m14" x="219.1" y="321"/>
<use href="#m14" x="221" y="321"/>
<use href="#m14" x="223" y="321"/>
<use href="#m14" x="224.9" y="321"/>
<use href="#m14" x="226.9" y="321"/>
<use href="#m14" x="228.9" y="320.9"/>
<use href="#m14" x="230.8" y="320.9"/>
<use href="#m14" x="232.8" y="320.9"/>
<use href="#m14" x="234.8" y="320.9"/>
<use href="#m14" x="236.7" y="320.9"/>
<use href="#m14" x="238.7" y="320.9"/>
<use href="#m14" x="240.7" y="320.9"/>
<use href="#m14" x="242.6" y="320.9"/>
<use href="#m14" x="244.6" y="320.9"/>
<path d="M48.1 263.6L50.1 263.6L52 279.7L54 300L56 295.1L57.9 291.9L59.9 287.9L61.9 290.3L63.8 295.1L65.8 304.8L67.8 316.1L69.7 321.8L71.7 312L73.6 313.2L75.6 314.4L77.6 312L79.5 308L81.5 304.8L83.5 301.6L85.4 302.4L87.4 306.4L89.4 305.6L91.3 304.8L93.3 304L95.3 305.6L97.2 307.2L99.2 305.1L101.2 304.6L103.1 304L105.1 305.2L107.1 306.4L109 305.9L111 305.3L112.9 304.8L114.9 305.4L116.9 305L118.8 304.1L120.8 304.6L122.8 304.5L124.7 305.1L126.7 305.6L128.7 305L130.6 305L132.6 304.2L134.6 304.5L136.5 304.8L138.5 304.9L140.5 304.8L142.4 305.3L144.4 304.7L146.3 303.9L148.3 303.5L150.3 304.2L152.2 304.8L154.2 304.5L156.2 305.2L158.1 303.9L160.1 304L162.1 304.1L164 304.5L166 304.8L168 304.5L169.9 304.9L171.9 304.1L173.9 303.6L175.8 303.8L177.8 304L179.8 304.9L181.7 305.1L183.7 304.8L185.7 303.8L187.6 303.6L189.6 303.7L191.5 303.8L193.5 304.4L195.5 304.7L197.4 304.1L199.4 303.7L201.4 303.7L203.3 303.3L205.3 303.7L207.3 303.8L209.2 304.2L211.2 304.4L213.2 303.2L215.1 303.7L217.1 303.3L219.1 303.4L221 304.4L223 304.3L224.9 304.5L226.9 303.4L228.9 302.9L230.8 303.1L232.8 303.1L234.8 304.1L236.7 304L238.7 303.8L240.7 303.3L242.6 303.1L244.6 302.7" fill="none" stroke="#5454aa" stroke-width="1.0"/>
<use href="#m15" x="48.1" y="263.6"/>
<use href="#m15" x="50.1" y="263.6"/>
<use href="#m15" x="52" y="279.7"/>
<use href="#m15" x="54" y="300"/>
<use href="#m15" x="56" y="295.1"/>
<use href="#m15" x="57.9" y="291.9"/>
<use href="#m15" x="59.9" y="287.9"/>
<use href="#m15" x="61.9" y="290.3"/>
<use href="#m15" x="63.8" y="295.1"/>
<use href="#m15" x="65.8" y="304.8"/>
<use href="#m15" x="67.8" y="316.1"/>
<use href="#m15" x="69.7" y="321.8"/>
<use href="#m15" x="71.7" y="312"/>
<use href="#m15" x="73.6" y="313.2"/>
<use href="#m15" x="75.6" y="314.4"/>
<use href="#m15" x="77.6" y="312"/>
<use href="#m15" x="79.5" y="308"/>
<use href="#m15" x="81.5" y="304.8"/>
<use href="#m15" x="83.5" y="301.6"/>
<use href="#m15" x="85.4" y="302.4"/>
<use href="#m15" x="87.4" y="306.4"/>
<use href="#m15" x="89.4" y="305.6"/>
<use href="#m15" x="91.3" y="304.8"/>
<use href="#m15" x="93.3" y="304"/>
<use href="#m15" x="95.3" y="305.6"/>
<use href="#m15" x="97.2" y="307.2"/>
<use href="#m15" x="99.2" y="305.1"/>
<use href="#m15" x="101.2" y="304.6"/>
<use href="#m15" x="103.1" y="304"/>
<use href="#m15" x="105.1" y="305.2"/>
<use href="#m15" x="107.1" y="306.4"/>
<use href="#m15" x="109" y="305.9"/>
<use href="#m15" x="111" y="305.3"/>
<use href="#m15" x="112.9" y="304.8"/>
<use href="#m15" x="114.9" y="305.4"/>
<use href="#m15" x="116.9" y="305"/>
<use href="#m15" x="118.8" y="304.1"/>
<use href="#m15" x="120.8" y="304.6"/>
<use href="#m15" x="122.8" y="304.5"/>
<use href="#m15" x="124.7" y="305.1"/>
<use href="#m15" x="126.7" y="305.6"/>
<use href="#m15" x="128.7" y="305"/>
<use href="#m15" x="130.6" y="305"/>
<use href="#m15" x="132.6" y="304.2"/>
<use href="#m15" x="134.6" y="304.5"/>
<use href="#m15" x="136.5" y="304.8"/>
<use href="#m15" x="138.5" y="304.9"/>
<use href="#m15" x="140.5" y="304.8"/>
<use href="#m15" x="142.4" y="305.3"/>
<use href="#m15" x="144.4" y="304.7"/>
<use href="#m15" x="146.3" y="303.9"/>
<use href="#m15" x="148.3" y="303.5"/>
<use href="#m15" x="150.3" y="304.2"/>
<use href="#m15" x="152.2" y="304.8"/>
<use href="#m15" x="154.2" y="304.5"/>
<use href="#m15" x="156.2" y="305.2"/>
<use href="#m15" x="158.1" y="303.9"/>
<use href="#m15" x="160.1" y="304"/>
<use href="#m15" x="162.1" y="304.1"/>
<use href="#m15" x="164" y="304.5"/>
<use href="#m15" x="166" y="304.8"/>
<use href="#m15" x="168" y="304.5"/>
<use href="#m15" x="169.9" y="304.9"/>
<use href="#m15" x="171.9" y="304.1"/>
<use href="#m15" x="173.9" y="303.6"/>
<use href="#m15" x="175.8" y="303.8"/>
<use href="#m15" x="177.8" y="304"/>
<use href="#m15" x="179.8" y="304.9"/>
<use href="#m15" x="181.7" y="305.1"/>
<use href="#m15" x="183.7" y="304.8"/>
<use href="#m15" x="185.7" y="303.8"/>
<use href="#m15" x="187.6" y="303.6"/>
<use href="#m15" x="189.6" y="303.7"/>
<use href="#m15" x="191.5" y="303.8"/>
<use href="#m15" x="193.5" y="304.4"/>
<use href="#m15" x="195.5" y="304.7"/>
<use href="#m15" x="197.4" y="304.1"/>
<use href="#m15" x="199.4" y="303.7"/>
<use href="#m15" x="201.4" y="303.7"/>
<use href="#m15" x="203.3" y="303.3"/>
<use href="#m15" x="205.3" y="303.7"/>
<use href="#m15" x="207.3" y="303.8"/>
<use href="#m15" x="209.2" y="304.2"/>
<use href="#m15" x="211.2" y="304.4"/>
<use href="#m15" x="213.2" y="303.2"/>
<use href="#m15" x="215.1" y="303.7"/>
<use href="#m15" x="217.1" y="303.3"/>
<use href="#m15" x="219.1" y="303.4"/>
<use href="#m15" x="221" y="304.4"/>
<use href="#m15" x="223" y="304.3"/>
<use href="#m15" x="224.9" y="304.5"/>
<use href="#m15" x="226.9" y="303.4"/>
<use href="#m15" x="228.9" y="302.9"/>
<use href="#m15" x="230.8" y="303.1"/>
<use href="#m15" x="232.8" y="303.1"/>
<use href="#m15" x="234.8" y="304.1"/>
<use href="#m15" x="236.7" y="304"/>
<use href="#m15" x="238.7" y="303.8"/>
<use href="#m15" x="240.7" y="303.3"/>
<use href="#m15" x="242.6" y="303.1"/>
<use href="#m15" x="244.6" y="302.7"/>
<rect x="48.1" y="194.1" width="196.5" height="144.8" fill="none" stroke="#333" stroke-width="1.1"/>
<line x1="48.1" y1="338.9" x2="48.1" y2="341.9" stroke="#333" stroke-width="1"/>
<text x="48.1" y="350.4" font-size="9.1" text-anchor="middle" fill="#1a1a1a" font-family="Liberation Sans, sans-serif" >0</text>
<line x1="67.8" y1="338.9" x2="67.8" y2="340.7" stroke="#333" stroke-width="1"/>
<line x1="87.4" y1="338.9" x2="87.4" y2="341.9" stroke="#333" stroke-width="1"/>
<text x="87.4" y="350.4" font-size="9.1" text-anchor="middle" fill="#1a1a1a" font-family="Liberation Sans, sans-serif" >20</text>
<line x1="107.1" y1="338.9" x2="107.1" y2="340.7" stroke="#333" stroke-width="1"/>
<line x1="126.7" y1="338.9" x2="126.7" y2="341.9" stroke="#333" stroke-width="1"/>
<text x="126.7" y="350.4" font-size="9.1" text-anchor="middle" fill="#1a1a1a" font-family="Liberation Sans, sans-serif" >40</text>
<line x1="146.3" y1="338.9" x2="146.3" y2="340.7" stroke="#333" stroke-width="1"/>
<line x1="166" y1="338.9" x2="166" y2="341.9" stroke="#333" stroke-width="1"/>
<text x="166" y="350.4" font-size="9.1" text-anchor="middle" fill="#1a1a1a" font-family="Liberation Sans, sans-serif" >60</text>
<line x1="185.7" y1="338.9" x2="185.7" y2="340.7" stroke="#333" stroke-width="1"/>
<line x1="205.3" y1="338.9" x2="205.3" y2="341.9" stroke="#333" stroke-width="1"/>
<text x="205.3" y="350.4" font-size="9.1" text-anchor="middle" fill="#1a1a1a" font-family="Liberation Sans, sans-serif" >80</text>
<line x1="224.9" y1="338.9" x2="224.9" y2="340.7" stroke="#333" stroke-width="1"/>
<line x1="244.6" y1="338.9" x2="244.6" y2="341.9" stroke="#333" stroke-width="1"/>
<text x="244.6" y="350.4" font-size="9.1" text-anchor="middle" fill="#1a1a1a" font-family="Liberation Sans, sans-serif" >100</text>
<line x1="45.1" y1="338.9" x2="48.1" y2="338.9" stroke="#333" stroke-width="1"/>
<text x="44.1" y="342.2" font-size="9.1" text-anchor="end" fill="#333" font-family="Liberation Sans, sans-serif">0</text>
<line x1="46.3" y1="330.9" x2="48.1" y2="330.9" stroke="#333" stroke-width="1"/>
<line x1="45.1" y1="322.8" x2="48.1" y2="322.8" stroke="#333" stroke-width="1"/>
<text x="44.1" y="326.1" font-size="9.1" text-anchor="end" fill="#333" font-family="Liberation Sans, sans-serif">10</text>
<line x1="46.3" y1="314.8" x2="48.1" y2="314.8" stroke="#333" stroke-width="1"/>
<line x1="45.1" y1="306.7" x2="48.1" y2="306.7" stroke="#333" stroke-width="1"/>
<text x="44.1" y="310" font-size="9.1" text-anchor="end" fill="#333" font-family="Liberation Sans, sans-serif">20</text>
<line x1="46.3" y1="298.7" x2="48.1" y2="298.7" stroke="#333" stroke-width="1"/>
<line x1="45.1" y1="290.6" x2="48.1" y2="290.6" stroke="#333" stroke-width="1"/>
<text x="44.1" y="293.9" font-size="9.1" text-anchor="end" fill="#333" font-family="Liberation Sans, sans-serif">30</text>
<line x1="46.3" y1="282.6" x2="48.1" y2="282.6" stroke="#333" stroke-width="1"/>
<line x1="45.1" y1="274.5" x2="48.1" y2="274.5" stroke="#333" stroke-width="1"/>
<text x="44.1" y="277.8" font-size="9.1" text-anchor="end" fill="#333" font-family="Liberation Sans, sans-serif">40</text>
<line x1="46.3" y1="266.5" x2="48.1" y2="266.5" stroke="#333" stroke-width="1"/>
<line x1="45.1" y1="258.5" x2="48.1" y2="258.5" stroke="#333" stroke-width="1"/>
<text x="44.1" y="261.7" font-size="9.1" text-anchor="end" fill="#333" font-family="Liberation Sans, sans-serif">50</text>
<line x1="46.3" y1="250.4" x2="48.1" y2="250.4" stroke="#333" stroke-width="1"/>
<line x1="45.1" y1="242.4" x2="48.1" y2="242.4" stroke="#333" stroke-width="1"/>
<text x="44.1" y="245.6" font-size="9.1" text-anchor="end" fill="#333" font-family="Liberation Sans, sans-serif">60</text>
<line x1="46.3" y1="234.3" x2="48.1" y2="234.3" stroke="#333" stroke-width="1"/>
<line x1="45.1" y1="226.3" x2="48.1" y2="226.3" stroke="#333" stroke-width="1"/>
<text x="44.1" y="229.6" font-size="9.1" text-anchor="end" fill="#333" font-family="Liberation Sans, sans-serif">70</text>
<line x1="46.3" y1="218.2" x2="48.1" y2="218.2" stroke="#333" stroke-width="1"/>
<line x1="45.1" y1="210.2" x2="48.1" y2="210.2" stroke="#333" stroke-width="1"/>
<text x="44.1" y="213.5" font-size="9.1" text-anchor="end" fill="#333" font-family="Liberation Sans, sans-serif">80</text>
<line x1="46.3" y1="202.1" x2="48.1" y2="202.1" stroke="#333" stroke-width="1"/>
<line x1="45.1" y1="194.1" x2="48.1" y2="194.1" stroke="#333" stroke-width="1"/>
<text x="44.1" y="197.4" font-size="9.1" text-anchor="end" fill="#333" font-family="Liberation Sans, sans-serif">90</text>
<text x="25.8" y="267.5" font-size="10" text-anchor="middle" transform="rotate(-90 25.8 267.5)" dy="3.6" fill="#222" font-family="Liberation Sans, sans-serif">State</text>
<text x="148.5" y="360" font-size="9.8" text-anchor="middle" fill="#222" font-family="Liberation Sans, sans-serif">Iterations</text>
<line x1="168.3" y1="253.7" x2="188.4" y2="253.7" stroke="#5454aa" stroke-width="1.3"/>
<use href="#m16" x="178.4" y="253.7"/>
<text x="191.9" y="257" font-size="9.1" fill="#2a2a2a" font-family="Liberation Sans, sans-serif">X Mean d12</text>
<line x1="168.3" y1="265.3" x2="188.4" y2="265.3" stroke="#9c9c9c" stroke-width="1.3"/>
<use href="#m17" x="178.4" y="265.3"/>
<text x="191.9" y="268.6" font-size="9.1" fill="#2a2a2a" font-family="Liberation Sans, sans-serif">X Mean d23</text>
<line x1="168.3" y1="276.1" x2="188.4" y2="276.1" stroke="#f25a5a" stroke-width="1.3"/>
<use href="#m18" x="178.4" y="276.1"/>
<text x="191.9" y="279.4" font-size="9.1" fill="#2a2a2a" font-family="Liberation Sans, sans-serif">X Mean d34</text>
<line x1="168.3" y1="287.5" x2="188.4" y2="287.5" stroke="#4b9be0" stroke-width="1.3"/>
<use href="#m19" x="178.4" y="287.5"/>
<text x="191.9" y="290.8" font-size="9.1" fill="#2a2a2a" font-family="Liberation Sans, sans-serif">X Mean d45</text>
<text x="8.7" y="201.2" font-size="16.5" fill="#222" font-family="Liberation Serif, serif">(c)</text>
</g>
<g clip-path="url(#cd)">
<path d="M290.2 274.3L292.2 263L294.2 250L296.1 238.8L298.1 230.8L300.1 226.7L302 226.7L304 230.8L306 230.1L307.9 226.7L309.9 225.9L311.8 222.6L313.8 221L315.8 221L317.7 219.7L319.7 218.7L321.7 217.8L323.6 217L325.6 216.2L327.6 215.3L329.5 214.5L331.5 213.8L333.4 213L335.4 212.3L337.4 211.9L339.3 211.5L341.3 211.4L343.3 211.3L345.2 211.8L347.2 212.3L349.2 212.4L351.1 212.4L353.1 212.5L355 212.5L357 212.6L359 212.6L360.9 212.6L362.9 212.7L364.9 212.7L366.8 212.7L368.8 212.7L370.8 212.8L372.7 212.8L374.7 212.8L376.6 212.8L378.6 212.9L380.6 212.9L382.5 212.9L384.5 212.9L386.5 213L388.4 213L390.4 213L392.4 213L394.3 213.1L396.3 213.1L398.2 213.1L400.2 213.1L402.2 213.2L404.1 213.2L406.1 213.2L408.1 213.2L410 213.3L412 213.3L414 213.3L415.9 213.3L417.9 213.4L419.8 213.4L421.8 213.4L423.8 213.4L425.7 213.5L427.7 213.5L429.7 213.5L431.6 213.5L433.6 213.6L435.5 213.6L437.5 213.6L439.5 213.6L441.4 213.7L443.4 213.7L445.4 213.7L447.3 213.7L449.3 213.8L451.3 213.8L453.2 213.8L455.2 213.8L457.1 213.9L459.1 213.9L461.1 213.9L463 213.9L465 214L467 214L468.9 214L470.9 214L472.9 214.1L474.8 214.1L476.8 214.1L478.7 214.1L480.7 214.2L482.7 214.2L484.6 214.2L486.6 214.2" fill="none" stroke="#20a8a8" stroke-width="1.0"/>
<use href="#m20" x="290.2" y="274.3"/>
<use href="#m20" x="292.2" y="263"/>
<use href="#m20" x="294.2" y="250"/>
<use href="#m20" x="296.1" y="238.8"/>
<use href="#m20" x="298.1" y="230.8"/>
<use href="#m20" x="300.1" y="226.7"/>
<use href="#m20" x="302" y="226.7"/>
<use href="#m20" x="304" y="230.8"/>
<use href="#m20" x="306" y="230.1"/>
<use href="#m20" x="307.9" y="226.7"/>
<use href="#m20" x="309.9" y="225.9"/>
<use href="#m20" x="311.8" y="222.6"/>
<use href="#m20" x="313.8" y="221"/>
<use href="#m20" x="315.8" y="221"/>
<use href="#m20" x="317.7" y="219.7"/>
<use href="#m20" x="319.7" y="218.7"/>
<use href="#m20" x="321.7" y="217.8"/>
<use href="#m20" x="323.6" y="217"/>
<use href="#m20" x="325.6" y="216.2"/>
<use href="#m20" x="327.6" y="215.3"/>
<use href="#m20" x="329.5" y="214.5"/>
<use href="#m20" x="331.5" y="213.8"/>
<use href="#m20" x="333.4" y="213"/>
<use href="#m20" x="335.4" y="212.3"/>
<use href="#m20" x="337.4" y="211.9"/>
<use href="#m20" x="339.3" y="211.5"/>
<use href="#m20" x="341.3" y="211.4"/>
<use href="#m20" x="343.3" y="211.3"/>
<use href="#m20" x="345.2" y="211.8"/>
<use href="#m20" x="347.2" y="212.3"/>
<use href="#m20" x="349.2" y="212.4"/>
<use href="#m20" x="351.1" y="212.4"/>
<use href="#m20" x="353.1" y="212.5"/>
<use href="#m20" x="355" y="212.5"/>
<use href="#m20" x="357" y="212.6"/>
<use href="#m20" x="359" y="212.6"/>
<use href="#m20" x="360.9" y="212.6"/>
<use href="#m20" x="362.9" y="212.7"/>
<use href="#m20" x="364.9" y="212.7"/>
<use href="#m20" x="366.8" y="212.7"/>
<use href="#m20" x="368.8" y="212.7"/>
<use href="#m20" x="370.8" y="212.8"/>
<use href="#m20" x="372.7" y="212.8"/>
<use href="#m20" x="374.7" y="212.8"/>
<use href="#m20" x="376.6" y="212.8"/>
<use href="#m20" x="378.6" y="212.9"/>
<use href="#m20" x="380.6" y="212.9"/>
<use href="#m20" x="382.5" y="212.9"/>
<use href="#m20" x="384.5" y="212.9"/>
<use href="#m20" x="386.5" y="213"/>
<use href="#m20" x="388.4" y="213"/>
<use href="#m20" x="390.4" y="213"/>
<use href="#m20" x="392.4" y="213"/>
<use href="#m20" x="394.3" y="213.1"/>
<use href="#m20" x="396.3" y="213.1"/>
<use href="#m20" x="398.2" y="213.1"/>
<use href="#m20" x="400.2" y="213.1"/>
<use href="#m20" x="402.2" y="213.2"/>
<use href="#m20" x="404.1" y="213.2"/>
<use href="#m20" x="406.1" y="213.2"/>
<use href="#m20" x="408.1" y="213.2"/>
<use href="#m20" x="410" y="213.3"/>
<use href="#m20" x="412" y="213.3"/>
<use href="#m20" x="414" y="213.3"/>
<use href="#m20" x="415.9" y="213.3"/>
<use href="#m20" x="417.9" y="213.4"/>
<use href="#m20" x="419.8" y="213.4"/>
<use href="#m20" x="421.8" y="213.4"/>
<use href="#m20" x="423.8" y="213.4"/>
<use href="#m20" x="425.7" y="213.5"/>
<use href="#m20" x="427.7" y="213.5"/>
<use href="#m20" x="429.7" y="213.5"/>
<use href="#m20" x="431.6" y="213.5"/>
<use href="#m20" x="433.6" y="213.6"/>
<use href="#m20" x="435.5" y="213.6"/>
<use href="#m20" x="437.5" y="213.6"/>
<use href="#m20" x="439.5" y="213.6"/>
<use href="#m20" x="441.4" y="213.7"/>
<use href="#m20" x="443.4" y="213.7"/>
<use href="#m20" x="445.4" y="213.7"/>
<use href="#m20" x="447.3" y="213.7"/>
<use href="#m20" x="449.3" y="213.8"/>
<use href="#m20" x="451.3" y="213.8"/>
<use href="#m20" x="453.2" y="213.8"/>
<use href="#m20" x="455.2" y="213.8"/>
<use href="#m20" x="457.1" y="213.9"/>
<use href="#m20" x="459.1" y="213.9"/>
<use href="#m20" x="461.1" y="213.9"/>
<use href="#m20" x="463" y="213.9"/>
<use href="#m20" x="465" y="214"/>
<use href="#m20" x="467" y="214"/>
<use href="#m20" x="468.9" y="214"/>
<use href="#m20" x="470.9" y="214"/>
<use href="#m20" x="472.9" y="214.1"/>
<use href="#m20" x="474.8" y="214.1"/>
<use href="#m20" x="476.8" y="214.1"/>
<use href="#m20" x="478.7" y="214.1"/>
<use href="#m20" x="480.7" y="214.2"/>
<use href="#m20" x="482.7" y="214.2"/>
<use href="#m20" x="484.6" y="214.2"/>
<use href="#m20" x="486.6" y="214.2"/>
<path d="M290.2 264.6L292.2 245.2L294.2 230.8L296.1 230.1L298.1 229.6L300.1 229.2L302 230.1L304 230.1L306 230.1L307.9 233.2L309.9 234L311.8 234.8L313.8 235.6L315.8 237.2L317.7 239.6L319.7 240.4L321.7 240.7L323.6 241L325.6 241.4L327.6 241.7L329.5 242L331.5 242.2L333.4 242.4L335.4 242.6L337.4 242.8L339.3 243L341.3 243.2L343.3 243.4L345.2 243.6L347.2 243.6L349.2 243.6L351.1 243.5L353.1 243.5L355 243.5L357 243.5L359 243.4L360.9 243.4L362.9 243.4L364.9 243.4L366.8 243.3L368.8 243.3L370.8 243.3L372.7 243.3L374.7 243.2L376.6 243.2L378.6 243.2L380.6 243.2L382.5 243.1L384.5 243.1L386.5 243.1L388.4 243.1L390.4 243L392.4 243L394.3 243L396.3 243L398.2 242.9L400.2 242.9L402.2 242.9L404.1 242.9L406.1 242.8L408.1 242.8L410 242.8L412 242.8L414 242.8L415.9 242.8L417.9 242.7L419.8 242.7L421.8 242.7L423.8 242.7L425.7 242.7L427.7 242.7L429.7 242.7L431.6 242.7L433.6 242.6L435.5 242.6L437.5 242.6L439.5 242.6L441.4 242.6L443.4 242.6L445.4 242.6L447.3 242.6L449.3 242.6L451.3 242.5L453.2 242.5L455.2 242.5L457.1 242.5L459.1 242.5L461.1 242.5L463 242.5L465 242.5L467 242.4L468.9 242.4L470.9 242.4L472.9 242.4L474.8 242.4L476.8 242.4L478.7 242.4L480.7 242.4L482.7 242.3L484.6 242.3L486.6 242.3" fill="none" stroke="#a88a80" stroke-width="1.0"/>
<use href="#m21" x="290.2" y="264.6"/>
<use href="#m21" x="292.2" y="245.2"/>
<use href="#m21" x="294.2" y="230.8"/>
<use href="#m21" x="296.1" y="230.1"/>
<use href="#m21" x="298.1" y="229.6"/>
<use href="#m21" x="300.1" y="229.2"/>
<use href="#m21" x="302" y="230.1"/>
<use href="#m21" x="304" y="230.1"/>
<use href="#m21" x="306" y="230.1"/>
<use href="#m21" x="307.9" y="233.2"/>
<use href="#m21" x="309.9" y="234"/>
<use href="#m21" x="311.8" y="234.8"/>
<use href="#m21" x="313.8" y="235.6"/>
<use href="#m21" x="315.8" y="237.2"/>
<use href="#m21" x="317.7" y="239.6"/>
<use href="#m21" x="319.7" y="240.4"/>
<use href="#m21" x="321.7" y="240.7"/>
<use href="#m21" x="323.6" y="241"/>
<use href="#m21" x="325.6" y="241.4"/>
<use href="#m21" x="327.6" y="241.7"/>
<use href="#m21" x="329.5" y="242"/>
<use href="#m21" x="331.5" y="242.2"/>
<use href="#m21" x="333.4" y="242.4"/>
<use href="#m21" x="335.4" y="242.6"/>
<use href="#m21" x="337.4" y="242.8"/>
<use href="#m21" x="339.3" y="243"/>
<use href="#m21" x="341.3" y="243.2"/>
<use href="#m21" x="343.3" y="243.4"/>
<use href="#m21" x="345.2" y="243.6"/>
<use href="#m21" x="347.2" y="243.6"/>
<use href="#m21" x="349.2" y="243.6"/>
<use href="#m21" x="351.1" y="243.5"/>
<use href="#m21" x="353.1" y="243.5"/>
<use href="#m21" x="355" y="243.5"/>
<use href="#m21" x="357" y="243.5"/>
<use href="#m21" x="359" y="243.4"/>
<use href="#m21" x="360.9" y="243.4"/>
<use href="#m21" x="362.9" y="243.4"/>
<use href="#m21" x="364.9" y="243.4"/>
<use href="#m21" x="366.8" y="243.3"/>
<use href="#m21" x="368.8" y="243.3"/>
<use href="#m21" x="370.8" y="243.3"/>
<use href="#m21" x="372.7" y="243.3"/>
<use href="#m21" x="374.7" y="243.2"/>
<use href="#m21" x="376.6" y="243.2"/>
<use href="#m21" x="378.6" y="243.2"/>
<use href="#m21" x="380.6" y="243.2"/>
<use href="#m21" x="382.5" y="243.1"/>
<use href="#m21" x="384.5" y="243.1"/>
<use href="#m21" x="386.5" y="243.1"/>
<use href="#m21" x="388.4" y="243.1"/>
<use href="#m21" x="390.4" y="243"/>
<use href="#m21" x="392.4" y="243"/>
<use href="#m21" x="394.3" y="243"/>
<use href="#m21" x="396.3" y="243"/>
<use href="#m21" x="398.2" y="242.9"/>
<use href="#m21" x="400.2" y="242.9"/>
<use href="#m21" x="402.2" y="242.9"/>
<use href="#m21" x="404.1" y="242.9"/>
<use href="#m21" x="406.1" y="242.8"/>
<use href="#m21" x="408.1" y="242.8"/>
<use href="#m21" x="410" y="242.8"/>
<use href="#m21" x="412" y="242.8"/>
<use href="#m21" x="414" y="242.8"/>
<use href="#m21" x="415.9" y="242.8"/>
<use href="#m21" x="417.9" y="242.7"/>
<use href="#m21" x="419.8" y="242.7"/>
<use href="#m21" x="421.8" y="242.7"/>
<use href="#m21" x="423.8" y="242.7"/>
<use href="#m21" x="425.7" y="242.7"/>
<use href="#m21" x="427.7" y="242.7"/>
<use href="#m21" x="429.7" y="242.7"/>
<use href="#m21" x="431.6" y="242.7"/>
<use href="#m21" x="433.6" y="242.6"/>
<use href="#m21" x="435.5" y="242.6"/>
<use href="#m21" x="437.5" y="242.6"/>
<use href="#m21" x="439.5" y="242.6"/>
<use href="#m21" x="441.4" y="242.6"/>
<use href="#m21" x="443.4" y="242.6"/>
<use href="#m21" x="445.4" y="242.6"/>
<use href="#m21" x="447.3" y="242.6"/>
<use href="#m21" x="449.3" y="242.6"/>
<use href="#m21" x="451.3" y="242.5"/>
<use href="#m21" x="453.2" y="242.5"/>
<use href="#m21" x="455.2" y="242.5"/>
<use href="#m21" x="457.1" y="242.5"/>
<use href="#m21" x="459.1" y="242.5"/>
<use href="#m21" x="461.1" y="242.5"/>
<use href="#m21" x="463" y="242.5"/>
<use href="#m21" x="465" y="242.5"/>
<use href="#m21" x="467" y="242.4"/>
<use href="#m21" x="468.9" y="242.4"/>
<use href="#m21" x="470.9" y="242.4"/>
<use href="#m21" x="472.9" y="242.4"/>
<use href="#m21" x="474.8" y="242.4"/>
<use href="#m21" x="476.8" y="242.4"/>
<use href="#m21" x="478.7" y="242.4"/>
<use href="#m21" x="480.7" y="242.4"/>
<use href="#m21" x="482.7" y="242.3"/>
<use href="#m21" x="484.6" y="242.3"/>
<use href="#m21" x="486.6" y="242.3"/>
<path d="M290.2 264.6L292.2 275.9L294.2 287.9L296.1 290.3L298.1 294.3L300.1 292.7L302 291.9L304 291.1L306 291.9L307.9 294.3L309.9 296.8L311.8 299.2L313.8 304L315.8 306.4L317.7 308.8L319.7 309.7L321.7 310.6L323.6 310.6L325.6 309.7L327.6 308.8L329.5 307.3L331.5 307.6L333.4 307.8L335.4 308L337.4 307.2L339.3 306.4L341.3 306.4L343.3 306.4L345.2 306.4L347.2 307.2L349.2 308L351.1 308L353.1 308L355 308L357 308L359 308L360.9 308L362.9 308L364.9 308L366.8 308L368.8 308L370.8 307.9L372.7 307.9L374.7 307.8L376.6 307.8L378.6 307.7L380.6 307.7L382.5 307.6L384.5 307.6L386.5 307.5L388.4 307.5L390.4 307.4L392.4 307.3L394.3 307.3L396.3 307.2L398.2 307.2L400.2 307.1L402.2 307.1L404.1 307L406.1 307L408.1 306.9L410 306.9L412 306.8L414 306.8L415.9 306.7L417.9 306.7L419.8 306.6L421.8 306.5L423.8 306.5L425.7 306.4L427.7 306.4L429.7 306.4L431.6 306.4L433.6 306.4L435.5 306.4L437.5 306.4L439.5 306.4L441.4 306.3L443.4 306.3L445.4 306.3L447.3 306.3L449.3 306.3L451.3 306.3L453.2 306.3L455.2 306.3L457.1 306.3L459.1 306.3L461.1 306.3L463 306.3L465 306.3L467 306.3L468.9 306.3L470.9 306.3L472.9 306.3L474.8 306.3L476.8 306.2L478.7 306.2L480.7 306.2L482.7 306.2L484.6 306.2L486.6 306.2" fill="none" stroke="#e0701c" stroke-width="1.0"/>
<use href="#m22" x="290.2" y="264.6"/>
<use href="#m22" x="292.2" y="275.9"/>
<use href="#m22" x="294.2" y="287.9"/>
<use href="#m22" x="296.1" y="290.3"/>
<use href="#m22" x="298.1" y="294.3"/>
<use href="#m22" x="300.1" y="292.7"/>
<use href="#m22" x="302" y="291.9"/>
<use href="#m22" x="304" y="291.1"/>
<use href="#m22" x="306" y="291.9"/>
<use href="#m22" x="307.9" y="294.3"/>
<use href="#m22" x="309.9" y="296.8"/>
<use href="#m22" x="311.8" y="299.2"/>
<use href="#m22" x="313.8" y="304"/>
<use href="#m22" x="315.8" y="306.4"/>
<use href="#m22" x="317.7" y="308.8"/>
<use href="#m22" x="319.7" y="309.7"/>
<use href="#m22" x="321.7" y="310.6"/>
<use href="#m22" x="323.6" y="310.6"/>
<use href="#m22" x="325.6" y="309.7"/>
<use href="#m22" x="327.6" y="308.8"/>
<use href="#m22" x="329.5" y="307.3"/>
<use href="#m22" x="331.5" y="307.6"/>
<use href="#m22" x="333.4" y="307.8"/>
<use href="#m22" x="335.4" y="308"/>
<use href="#m22" x="337.4" y="307.2"/>
<use href="#m22" x="339.3" y="306.4"/>
<use href="#m22" x="341.3" y="306.4"/>
<use href="#m22" x="343.3" y="306.4"/>
<use href="#m22" x="345.2" y="306.4"/>
<use href="#m22" x="347.2" y="307.2"/>
<use href="#m22" x="349.2" y="308"/>
<use href="#m22" x="351.1" y="308"/>
<use href="#m22" x="353.1" y="308"/>
<use href="#m22" x="355" y="308"/>
<use href="#m22" x="357" y="308"/>
<use href="#m22" x="359" y="308"/>
<use href="#m22" x="360.9" y="308"/>
<use href="#m22" x="362.9" y="308"/>
<use href="#m22" x="364.9" y="308"/>
<use href="#m22" x="366.8" y="308"/>
<use href="#m22" x="368.8" y="308"/>
<use href="#m22" x="370.8" y="307.9"/>
<use href="#m22" x="372.7" y="307.9"/>
<use href="#m22" x="374.7" y="307.8"/>
<use href="#m22" x="376.6" y="307.8"/>
<use href="#m22" x="378.6" y="307.7"/>
<use href="#m22" x="380.6" y="307.7"/>
<use href="#m22" x="382.5" y="307.6"/>
<use href="#m22" x="384.5" y="307.6"/>
<use href="#m22" x="386.5" y="307.5"/>
<use href="#m22" x="388.4" y="307.5"/>
<use href="#m22" x="390.4" y="307.4"/>
<use href="#m22" x="392.4" y="307.3"/>
<use href="#m22" x="394.3" y="307.3"/>
<use href="#m22" x="396.3" y="307.2"/>
<use href="#m22" x="398.2" y="307.2"/>
<use href="#m22" x="400.2" y="307.1"/>
<use href="#m22" x="402.2" y="307.1"/>
<use href="#m22" x="404.1" y="307"/>
<use href="#m22" x="406.1" y="307"/>
<use href="#m22" x="408.1" y="306.9"/>
<use href="#m22" x="410" y="306.9"/>
<use href="#m22" x="412" y="306.8"/>
<use href="#m22" x="414" y="306.8"/>
<use href="#m22" x="415.9" y="306.7"/>
<use href="#m22" x="417.9" y="306.7"/>
<use href="#m22" x="419.8" y="306.6"/>
<use href="#m22" x="421.8" y="306.5"/>
<use href="#m22" x="423.8" y="306.5"/>
<use href="#m22" x="425.7" y="306.4"/>
<use href="#m22" x="427.7" y="306.4"/>
<use href="#m22" x="429.7" y="306.4"/>
<use href="#m22" x="431.6" y="306.4"/>
<use href="#m22" x="433.6" y="306.4"/>
<use href="#m22" x="435.5" y="306.4"/>
<use href="#m22" x="437.5" y="306.4"/>
<use href="#m22" x="439.5" y="306.4"/>
<use href="#m22" x="441.4" y="306.3"/>
<use href="#m22" x="443.4" y="306.3"/>
<use href="#m22" x="445.4" y="306.3"/>
<use href="#m22" x="447.3" y="306.3"/>
<use href="#m22" x="449.3" y="306.3"/>
<use href="#m22" x="451.3" y="306.3"/>
<use href="#m22" x="453.2" y="306.3"/>
<use href="#m22" x="455.2" y="306.3"/>
<use href="#m22" x="457.1" y="306.3"/>
<use href="#m22" x="459.1" y="306.3"/>
<use href="#m22" x="461.1" y="306.3"/>
<use href="#m22" x="463" y="306.3"/>
<use href="#m22" x="465" y="306.3"/>
<use href="#m22" x="467" y="306.3"/>
<use href="#m22" x="468.9" y="306.3"/>
<use href="#m22" x="470.9" y="306.3"/>
<use href="#m22" x="472.9" y="306.3"/>
<use href="#m22" x="474.8" y="306.3"/>
<use href="#m22" x="476.8" y="306.2"/>
<use href="#m22" x="478.7" y="306.2"/>
<use href="#m22" x="480.7" y="306.2"/>
<use href="#m22" x="482.7" y="306.2"/>
<use href="#m22" x="484.6" y="306.2"/>
<use href="#m22" x="486.6" y="306.2"/>
<path d="M290.2 267.9L292.2 278.1L294.2 287.9L296.1 292.7L298.1 295.1L300.1 296.8L302 300L304 300.8L306 303.2L307.9 312L309.9 313.6L311.8 315.2L313.8 321.8L315.8 322L317.7 322.1L319.7 321.8L321.7 321.6L323.6 321.3L325.6 321L327.6 321L329.5 321L331.5 321.5L333.4 322.1L335.4 322.6L337.4 323L339.3 323.4L341.3 323.3L343.3 323.3L345.2 323.2L347.2 323.1L349.2 323.1L351.1 323.1L353.1 323.1L355 323.1L357 323.1L359 323.1L360.9 323.1L362.9 323L364.9 323L366.8 323L368.8 323L370.8 323L372.7 323L374.7 323L376.6 323L378.6 323L380.6 323L382.5 323L384.5 323L386.5 323L388.4 323L390.4 323L392.4 323L394.3 323L396.3 323L398.2 323L400.2 323L402.2 323L404.1 323L406.1 322.9L408.1 322.9L410 322.9L412 322.9L414 322.9L415.9 322.9L417.9 322.9L419.8 322.9L421.8 322.9L423.8 322.9L425.7 322.9L427.7 322.9L429.7 322.9L431.6 322.9L433.6 322.9L435.5 322.9L437.5 322.9L439.5 322.9L441.4 322.9L443.4 322.9L445.4 322.9L447.3 322.9L449.3 322.8L451.3 322.8L453.2 322.8L455.2 322.8L457.1 322.8L459.1 322.8L461.1 322.8L463 322.8L465 322.8L467 322.8L468.9 322.8L470.9 322.8L472.9 322.8L474.8 322.8L476.8 322.8L478.7 322.8L480.7 322.8L482.7 322.8L484.6 322.8L486.6 322.8" fill="none" stroke="#7a6ad8" stroke-width="1.0"/>
<use href="#m23" x="290.2" y="267.9"/>
<use href="#m23" x="292.2" y="278.1"/>
<use href="#m23" x="294.2" y="287.9"/>
<use href="#m23" x="296.1" y="292.7"/>
<use href="#m23" x="298.1" y="295.1"/>
<use href="#m23" x="300.1" y="296.8"/>
<use href="#m23" x="302" y="300"/>
<use href="#m23" x="304" y="300.8"/>
<use href="#m23" x="306" y="303.2"/>
<use href="#m23" x="307.9" y="312"/>
<use href="#m23" x="309.9" y="313.6"/>
<use href="#m23" x="311.8" y="315.2"/>
<use href="#m23" x="313.8" y="321.8"/>
<use href="#m23" x="315.8" y="322"/>
<use href="#m23" x="317.7" y="322.1"/>
<use href="#m23" x="319.7" y="321.8"/>
<use href="#m23" x="321.7" y="321.6"/>
<use href="#m23" x="323.6" y="321.3"/>
<use href="#m23" x="325.6" y="321"/>
<use href="#m23" x="327.6" y="321"/>
<use href="#m23" x="329.5" y="321"/>
<use href="#m23" x="331.5" y="321.5"/>
<use href="#m23" x="333.4" y="322.1"/>
<use href="#m23" x="335.4" y="322.6"/>
<use href="#m23" x="337.4" y="323"/>
<use href="#m23" x="339.3" y="323.4"/>
<use href="#m23" x="341.3" y="323.3"/>
<use href="#m23" x="343.3" y="323.3"/>
<use href="#m23" x="345.2" y="323.2"/>
<use href="#m23" x="347.2" y="323.1"/>
<use href="#m23" x="349.2" y="323.1"/>
<use href="#m23" x="351.1" y="323.1"/>
<use href="#m23" x="353.1" y="323.1"/>
<use href="#m23" x="355" y="323.1"/>
<use href="#m23" x="357" y="323.1"/>
<use href="#m23" x="359" y="323.1"/>
<use href="#m23" x="360.9" y="323.1"/>
<use href="#m23" x="362.9" y="323"/>
<use href="#m23" x="364.9" y="323"/>
<use href="#m23" x="366.8" y="323"/>
<use href="#m23" x="368.8" y="323"/>
<use href="#m23" x="370.8" y="323"/>
<use href="#m23" x="372.7" y="323"/>
<use href="#m23" x="374.7" y="323"/>
<use href="#m23" x="376.6" y="323"/>
<use href="#m23" x="378.6" y="323"/>
<use href="#m23" x="380.6" y="323"/>
<use href="#m23" x="382.5" y="323"/>
<use href="#m23" x="384.5" y="323"/>
<use href="#m23" x="386.5" y="323"/>
<use href="#m23" x="388.4" y="323"/>
<use href="#m23" x="390.4" y="323"/>
<use href="#m23" x="392.4" y="323"/>
<use href="#m23" x="394.3" y="323"/>
<use href="#m23" x="396.3" y="323"/>
<use href="#m23" x="398.2" y="323"/>
<use href="#m23" x="400.2" y="323"/>
<use href="#m23" x="402.2" y="323"/>
<use href="#m23" x="404.1" y="323"/>
<use href="#m23" x="406.1" y="322.9"/>
<use href="#m23" x="408.1" y="322.9"/>
<use href="#m23" x="410" y="322.9"/>
<use href="#m23" x="412" y="322.9"/>
<use href="#m23" x="414" y="322.9"/>
<use href="#m23" x="415.9" y="322.9"/>
<use href="#m23" x="417.9" y="322.9"/>
<use href="#m23" x="419.8" y="322.9"/>
<use href="#m23" x="421.8" y="322.9"/>
<use href="#m23" x="423.8" y="322.9"/>
<use href="#m23" x="425.7" y="322.9"/>
<use href="#m23" x="427.7" y="322.9"/>
<use href="#m23" x="429.7" y="322.9"/>
<use href="#m23" x="431.6" y="322.9"/>
<use href="#m23" x="433.6" y="322.9"/>
<use href="#m23" x="435.5" y="322.9"/>
<use href="#m23" x="437.5" y="322.9"/>
<use href="#m23" x="439.5" y="322.9"/>
<use href="#m23" x="441.4" y="322.9"/>
<use href="#m23" x="443.4" y="322.9"/>
<use href="#m23" x="445.4" y="322.9"/>
<use href="#m23" x="447.3" y="322.9"/>
<use href="#m23" x="449.3" y="322.8"/>
<use href="#m23" x="451.3" y="322.8"/>
<use href="#m23" x="453.2" y="322.8"/>
<use href="#m23" x="455.2" y="322.8"/>
<use href="#m23" x="457.1" y="322.8"/>
<use href="#m23" x="459.1" y="322.8"/>
<use href="#m23" x="461.1" y="322.8"/>
<use href="#m23" x="463" y="322.8"/>
<use href="#m23" x="465" y="322.8"/>
<use href="#m23" x="467" y="322.8"/>
<use href="#m23" x="468.9" y="322.8"/>
<use href="#m23" x="470.9" y="322.8"/>
<use href="#m23" x="472.9" y="322.8"/>
<use href="#m23" x="474.8" y="322.8"/>
<use href="#m23" x="476.8" y="322.8"/>
<use href="#m23" x="478.7" y="322.8"/>
<use href="#m23" x="480.7" y="322.8"/>
<use href="#m23" x="482.7" y="322.8"/>
<use href="#m23" x="484.6" y="322.8"/>
<use href="#m23" x="486.6" y="322.8"/>
<rect x="290.2" y="195.6" width="196.4" height="144.5" fill="none" stroke="#333" stroke-width="1.1"/>
<line x1="290.2" y1="340.1" x2="290.2" y2="343.1" stroke="#333" stroke-width="1"/>
<text x="290.2" y="351.4" font-size="9.1" text-anchor="middle" fill="#1a1a1a" font-family="Liberation Sans, sans-serif" >0</text>
<line x1="309.9" y1="340.1" x2="309.9" y2="341.9" stroke="#333" stroke-width="1"/>
<line x1="329.5" y1="340.1" x2="329.5" y2="343.1" stroke="#333" stroke-width="1"/>
<text x="329.5" y="351.4" font-size="9.1" text-anchor="middle" fill="#1a1a1a" font-family="Liberation Sans, sans-serif" >20</text>
<line x1="349.2" y1="340.1" x2="349.2" y2="341.9" stroke="#333" stroke-width="1"/>
<line x1="368.8" y1="340.1" x2="368.8" y2="343.1" stroke="#333" stroke-width="1"/>
<text x="368.8" y="351.4" font-size="9.1" text-anchor="middle" fill="#1a1a1a" font-family="Liberation Sans, sans-serif" >40</text>
<line x1="388.4" y1="340.1" x2="388.4" y2="341.9" stroke="#333" stroke-width="1"/>
<line x1="408.1" y1="340.1" x2="408.1" y2="343.1" stroke="#333" stroke-width="1"/>
<text x="408.1" y="351.4" font-size="9.1" text-anchor="middle" fill="#1a1a1a" font-family="Liberation Sans, sans-serif" >60</text>
<line x1="427.7" y1="340.1" x2="427.7" y2="341.9" stroke="#333" stroke-width="1"/>
<line x1="447.3" y1="340.1" x2="447.3" y2="343.1" stroke="#333" stroke-width="1"/>
<text x="447.3" y="351.4" font-size="9.1" text-anchor="middle" fill="#1a1a1a" font-family="Liberation Sans, sans-serif" >80</text>
<line x1="467" y1="340.1" x2="467" y2="341.9" stroke="#333" stroke-width="1"/>
<line x1="486.6" y1="340.1" x2="486.6" y2="343.1" stroke="#333" stroke-width="1"/>
<text x="486.6" y="351.4" font-size="9.1" text-anchor="middle" fill="#1a1a1a" font-family="Liberation Sans, sans-serif" >100</text>
<line x1="287.2" y1="340.1" x2="290.2" y2="340.1" stroke="#333" stroke-width="1"/>
<text x="286.5" y="343.4" font-size="9.1" text-anchor="end" fill="#333" font-family="Liberation Sans, sans-serif">0</text>
<line x1="288.4" y1="332.1" x2="290.2" y2="332.1" stroke="#333" stroke-width="1"/>
<line x1="287.2" y1="324" x2="290.2" y2="324" stroke="#333" stroke-width="1"/>
<text x="286.5" y="327.3" font-size="9.1" text-anchor="end" fill="#333" font-family="Liberation Sans, sans-serif">10</text>
<line x1="288.4" y1="316" x2="290.2" y2="316" stroke="#333" stroke-width="1"/>
<line x1="287.2" y1="308" x2="290.2" y2="308" stroke="#333" stroke-width="1"/>
<text x="286.5" y="311.3" font-size="9.1" text-anchor="end" fill="#333" font-family="Liberation Sans, sans-serif">20</text>
<line x1="288.4" y1="300" x2="290.2" y2="300" stroke="#333" stroke-width="1"/>
<line x1="287.2" y1="291.9" x2="290.2" y2="291.9" stroke="#333" stroke-width="1"/>
<text x="286.5" y="295.2" font-size="9.1" text-anchor="end" fill="#333" font-family="Liberation Sans, sans-serif">30</text>
<line x1="288.4" y1="283.9" x2="290.2" y2="283.9" stroke="#333" stroke-width="1"/>
<line x1="287.2" y1="275.9" x2="290.2" y2="275.9" stroke="#333" stroke-width="1"/>
<text x="286.5" y="279.2" font-size="9.1" text-anchor="end" fill="#333" font-family="Liberation Sans, sans-serif">40</text>
<line x1="288.4" y1="267.9" x2="290.2" y2="267.9" stroke="#333" stroke-width="1"/>
<line x1="287.2" y1="259.8" x2="290.2" y2="259.8" stroke="#333" stroke-width="1"/>
<text x="286.5" y="263.1" font-size="9.1" text-anchor="end" fill="#333" font-family="Liberation Sans, sans-serif">50</text>
<line x1="288.4" y1="251.8" x2="290.2" y2="251.8" stroke="#333" stroke-width="1"/>
<line x1="287.2" y1="243.8" x2="290.2" y2="243.8" stroke="#333" stroke-width="1"/>
<text x="286.5" y="247" font-size="9.1" text-anchor="end" fill="#333" font-family="Liberation Sans, sans-serif">60</text>
<line x1="288.4" y1="235.7" x2="290.2" y2="235.7" stroke="#333" stroke-width="1"/>
<line x1="287.2" y1="227.7" x2="290.2" y2="227.7" stroke="#333" stroke-width="1"/>
<text x="286.5" y="231" font-size="9.1" text-anchor="end" fill="#333" font-family="Liberation Sans, sans-serif">70</text>
<line x1="288.4" y1="219.7" x2="290.2" y2="219.7" stroke="#333" stroke-width="1"/>
<line x1="287.2" y1="211.7" x2="290.2" y2="211.7" stroke="#333" stroke-width="1"/>
<text x="286.5" y="214.9" font-size="9.1" text-anchor="end" fill="#333" font-family="Liberation Sans, sans-serif">80</text>
<line x1="288.4" y1="203.6" x2="290.2" y2="203.6" stroke="#333" stroke-width="1"/>
<line x1="287.2" y1="195.6" x2="290.2" y2="195.6" stroke="#333" stroke-width="1"/>
<text x="286.5" y="198.9" font-size="9.1" text-anchor="end" fill="#333" font-family="Liberation Sans, sans-serif">90</text>
<text x="268.1" y="268.6" font-size="10" text-anchor="middle" transform="rotate(-90 268.1 268.6)" dy="3.6" fill="#222" font-family="Liberation Sans, sans-serif">State</text>
<text x="390.6" y="361.2" font-size="9.8" text-anchor="middle" fill="#222" font-family="Liberation Sans, sans-serif">Iterations</text>
<line x1="393.6" y1="256.3" x2="409.9" y2="256.3" stroke="#e0701c" stroke-width="1.3"/>
<use href="#m24" x="401.8" y="256.3"/>
<text x="412" y="259.6" font-size="9.25" fill="#2a2a2a" font-family="Liberation Sans, sans-serif">X Best Mean d12</text>
<line x1="393.6" y1="267.5" x2="409.9" y2="267.5" stroke="#20a8a8" stroke-width="1.3"/>
<use href="#m25" x="401.8" y="267.5"/>
<text x="412" y="270.8" font-size="9.25" fill="#2a2a2a" font-family="Liberation Sans, sans-serif">X Best Mean d23</text>
<line x1="393.6" y1="279.2" x2="409.9" y2="279.2" stroke="#7a6ad8" stroke-width="1.3"/>
<use href="#m26" x="401.8" y="279.2"/>
<text x="412" y="282.5" font-size="9.25" fill="#2a2a2a" font-family="Liberation Sans, sans-serif">X Best Mean d34</text>
<line x1="393.6" y1="290.2" x2="409.9" y2="290.2" stroke="#a88a80" stroke-width="1.3"/>
<use href="#m27" x="401.8" y="290.2"/>
<text x="412" y="293.5" font-size="9.25" fill="#2a2a2a" font-family="Liberation Sans, sans-serif">X Best Mean d45</text>
<text x="254.3" y="201.5" font-size="16.5" fill="#222" font-family="Liberation Serif, serif">(d)</text>
</g>
<g clip-path="url(#ce)">
<path d="M51.7 374.9L53.6 376.3L55.6 377L57.5 377.7L59.5 377.9L61.4 378.6L63.4 383L65.3 385.6L67.3 395.2L69.2 393.2L71.1 388.2L73.1 392.2L75 390.7L77 396.2L78.9 398.3L80.9 397.8L82.8 396.8L84.7 404.3L86.7 403.5L88.6 403.8L90.6 417.5L92.5 401.3L94.5 415.3L96.4 408.3L98.4 424.3L100.3 413.5L102.2 423L104.2 425.3L106.1 416.3L108.1 429.9L110 425.3L112 425.3L113.9 430.5L115.9 422L117.8 431L119.7 428.2L121.7 428.8L123.6 439.5L125.6 420.3L127.5 418L129.5 424.3L131.4 418L133.3 426L135.3 429.9L137.2 431L139.2 427L141.1 424.9L143.1 423.8L145 433.5L147 429.8L148.9 421.3L150.8 426.3L152.8 424.9L154.7 422.3L156.7 430.3L158.6 432L160.6 433.5L162.5 434.9L164.5 436L166.4 430.3L168.3 432L170.3 440.5L172.2 425.8L174.2 430.3L176.1 436.5L178.1 436L180 423L181.9 433.8L183.9 429.2L185.8 426.9L187.8 435.5L189.7 433.5L191.7 433.6L193.6 432.5L195.6 428L197.5 435.5L199.4 440.8L201.4 432L203.3 431.2L205.3 436.6L207.2 432L209.2 427.5L211.1 440.8L213.1 431.2L215 432.8L216.9 433.6L218.9 430.6L220.8 425L222.8 440.8L224.7 425L226.7 434.2L228.6 436.6L230.5 435.6L232.5 434.2L234.4 434.9L236.4 432.5L238.3 436.6L240.3 443.3L242.2 434.2L244.2 445.1L246.1 436.6" fill="none" stroke="#e8202a" stroke-width="1.0"/>
<use href="#m28" x="51.7" y="374.9"/>
<use href="#m28" x="53.6" y="376.3"/>
<use href="#m28" x="55.6" y="377"/>
<use href="#m28" x="57.5" y="377.7"/>
<use href="#m28" x="59.5" y="377.9"/>
<use href="#m28" x="61.4" y="378.6"/>
<use href="#m28" x="63.4" y="383"/>
<use href="#m28" x="65.3" y="385.6"/>
<use href="#m28" x="67.3" y="395.2"/>
<use href="#m28" x="69.2" y="393.2"/>
<use href="#m28" x="71.1" y="388.2"/>
<use href="#m28" x="73.1" y="392.2"/>
<use href="#m28" x="75" y="390.7"/>
<use href="#m28" x="77" y="396.2"/>
<use href="#m28" x="78.9" y="398.3"/>
<use href="#m28" x="80.9" y="397.8"/>
<use href="#m28" x="82.8" y="396.8"/>
<use href="#m28" x="84.7" y="404.3"/>
<use href="#m28" x="86.7" y="403.5"/>
<use href="#m28" x="88.6" y="403.8"/>
<use href="#m28" x="90.6" y="417.5"/>
<use href="#m28" x="92.5" y="401.3"/>
<use href="#m28" x="94.5" y="415.3"/>
<use href="#m28" x="96.4" y="408.3"/>
<use href="#m28" x="98.4" y="424.3"/>
<use href="#m28" x="100.3" y="413.5"/>
<use href="#m28" x="102.2" y="423"/>
<use href="#m28" x="104.2" y="425.3"/>
<use href="#m28" x="106.1" y="416.3"/>
<use href="#m28" x="108.1" y="429.9"/>
<use href="#m28" x="110" y="425.3"/>
<use href="#m28" x="112" y="425.3"/>
<use href="#m28" x="113.9" y="430.5"/>
<use href="#m28" x="115.9" y="422"/>
<use href="#m28" x="117.8" y="431"/>
<use href="#m28" x="119.7" y="428.2"/>
<use href="#m28" x="121.7" y="428.8"/>
<use href="#m28" x="123.6" y="439.5"/>
<use href="#m28" x="125.6" y="420.3"/>
<use href="#m28" x="127.5" y="418"/>
<use href="#m28" x="129.5" y="424.3"/>
<use href="#m28" x="131.4" y="418"/>
<use href="#m28" x="133.3" y="426"/>
<use href="#m28" x="135.3" y="429.9"/>
<use href="#m28" x="137.2" y="431"/>
<use href="#m28" x="139.2" y="427"/>
<use href="#m28" x="141.1" y="424.9"/>
<use href="#m28" x="143.1" y="423.8"/>
<use href="#m28" x="145" y="433.5"/>
<use href="#m28" x="147" y="429.8"/>
<use href="#m28" x="148.9" y="421.3"/>
<use href="#m28" x="150.8" y="426.3"/>
<use href="#m28" x="152.8" y="424.9"/>
<use href="#m28" x="154.7" y="422.3"/>
<use href="#m28" x="156.7" y="430.3"/>
<use href="#m28" x="158.6" y="432"/>
<use href="#m28" x="160.6" y="433.5"/>
<use href="#m28" x="162.5" y="434.9"/>
<use href="#m28" x="164.5" y="436"/>
<use href="#m28" x="166.4" y="430.3"/>
<use href="#m28" x="168.3" y="432"/>
<use href="#m28" x="170.3" y="440.5"/>
<use href="#m28" x="172.2" y="425.8"/>
<use href="#m28" x="174.2" y="430.3"/>
<use href="#m28" x="176.1" y="436.5"/>
<use href="#m28" x="178.1" y="436"/>
<use href="#m28" x="180" y="423"/>
<use href="#m28" x="181.9" y="433.8"/>
<use href="#m28" x="183.9" y="429.2"/>
<use href="#m28" x="185.8" y="426.9"/>
<use href="#m28" x="187.8" y="435.5"/>
<use href="#m28" x="189.7" y="433.5"/>
<use href="#m28" x="191.7" y="433.6"/>
<use href="#m28" x="193.6" y="432.5"/>
<use href="#m28" x="195.6" y="428"/>
<use href="#m28" x="197.5" y="435.5"/>
<use href="#m28" x="199.4" y="440.8"/>
<use href="#m28" x="201.4" y="432"/>
<use href="#m28" x="203.3" y="431.2"/>
<use href="#m28" x="205.3" y="436.6"/>
<use href="#m28" x="207.2" y="432"/>
<use href="#m28" x="209.2" y="427.5"/>
<use href="#m28" x="211.1" y="440.8"/>
<use href="#m28" x="213.1" y="431.2"/>
<use href="#m28" x="215" y="432.8"/>
<use href="#m28" x="216.9" y="433.6"/>
<use href="#m28" x="218.9" y="430.6"/>
<use href="#m28" x="220.8" y="425"/>
<use href="#m28" x="222.8" y="440.8"/>
<use href="#m28" x="224.7" y="425"/>
<use href="#m28" x="226.7" y="434.2"/>
<use href="#m28" x="228.6" y="436.6"/>
<use href="#m28" x="230.5" y="435.6"/>
<use href="#m28" x="232.5" y="434.2"/>
<use href="#m28" x="234.4" y="434.9"/>
<use href="#m28" x="236.4" y="432.5"/>
<use href="#m28" x="238.3" y="436.6"/>
<use href="#m28" x="240.3" y="443.3"/>
<use href="#m28" x="242.2" y="434.2"/>
<use href="#m28" x="244.2" y="445.1"/>
<use href="#m28" x="246.1" y="436.6"/>
<path d="M51.7 372.7L53.6 373.6L55.6 381L57.5 385.2L59.5 387.2L61.4 388.2L63.4 390.7L65.3 392.7L67.3 399.3L69.2 400.3L71.1 400.8L73.1 403.8L75 413.5L77 413.5L78.9 413.5L80.9 413.5L82.8 413.5L84.7 417.5L86.7 420.6L88.6 422.8L90.6 424.9L92.5 430.6L94.5 432.2L96.4 434.9L98.4 436L100.3 437.2L102.2 439.9L104.2 441.4L106.1 442.9L108.1 444.9L110 447.3L112 449.9L113.9 452.1L115.9 452.6L117.8 453.1L119.7 453.6L121.7 454.1L123.6 454.1L125.6 454.1L127.5 454.6L129.5 455.1L131.4 455.1L133.3 455.1L135.3 455.1L137.2 462.2L139.2 462.2L141.1 462.3L143.1 462.3L145 462.3L147 462.3L148.9 462.5L150.8 462.6L152.8 462.8L154.7 462.9L156.7 463.1L158.6 463.2L160.6 463.3L162.5 463.5L164.5 463.6L166.4 463.8L168.3 467.1L170.3 467.2L172.2 467.4L174.2 467.6L176.1 470.1L178.1 470.1L180 470.1L181.9 470.1L183.9 470.1L185.8 470.1L187.8 470.1L189.7 470.1L191.7 470.1L193.6 470.1L195.6 470.1L197.5 470.1L199.4 470.6L201.4 472L203.3 473.3L205.3 473.9L207.2 484.8L209.2 487.9L211.1 488L213.1 488.1L215 488.2L216.9 488.3L218.9 488.4L220.8 488.5L222.8 488.5L224.7 488.5L226.7 488.5L228.6 488.5L230.5 488.5L232.5 488.5L234.4 488.5L236.4 488.5L238.3 488.5L240.3 490.1L242.2 490.1L244.2 490.1L246.1 490.1" fill="none" stroke="#3a64ac" stroke-width="1.0"/>
<use href="#m29" x="51.7" y="372.7"/>
<use href="#m29" x="53.6" y="373.6"/>
<use href="#m29" x="55.6" y="381"/>
<use href="#m29" x="57.5" y="385.2"/>
<use href="#m29" x="59.5" y="387.2"/>
<use href="#m29" x="61.4" y="388.2"/>
<use href="#m29" x="63.4" y="390.7"/>
<use href="#m29" x="65.3" y="392.7"/>
<use href="#m29" x="67.3" y="399.3"/>
<use href="#m29" x="69.2" y="400.3"/>
<use href="#m29" x="71.1" y="400.8"/>
<use href="#m29" x="73.1" y="403.8"/>
<use href="#m29" x="75" y="413.5"/>
<use href="#m29" x="77" y="413.5"/>
<use href="#m29" x="78.9" y="413.5"/>
<use href="#m29" x="80.9" y="413.5"/>
<use href="#m29" x="82.8" y="413.5"/>
<use href="#m29" x="84.7" y="417.5"/>
<use href="#m29" x="86.7" y="420.6"/>
<use href="#m29" x="88.6" y="422.8"/>
<use href="#m29" x="90.6" y="424.9"/>
<use href="#m29" x="92.5" y="430.6"/>
<use href="#m29" x="94.5" y="432.2"/>
<use href="#m29" x="96.4" y="434.9"/>
<use href="#m29" x="98.4" y="436"/>
<use href="#m29" x="100.3" y="437.2"/>
<use href="#m29" x="102.2" y="439.9"/>
<use href="#m29" x="104.2" y="441.4"/>
<use href="#m29" x="106.1" y="442.9"/>
<use href="#m29" x="108.1" y="444.9"/>
<use href="#m29" x="110" y="447.3"/>
<use href="#m29" x="112" y="449.9"/>
<use href="#m29" x="113.9" y="452.1"/>
<use href="#m29" x="115.9" y="452.6"/>
<use href="#m29" x="117.8" y="453.1"/>
<use href="#m29" x="119.7" y="453.6"/>
<use href="#m29" x="121.7" y="454.1"/>
<use href="#m29" x="123.6" y="454.1"/>
<use href="#m29" x="125.6" y="454.1"/>
<use href="#m29" x="127.5" y="454.6"/>
<use href="#m29" x="129.5" y="455.1"/>
<use href="#m29" x="131.4" y="455.1"/>
<use href="#m29" x="133.3" y="455.1"/>
<use href="#m29" x="135.3" y="455.1"/>
<use href="#m29" x="137.2" y="462.2"/>
<use href="#m29" x="139.2" y="462.2"/>
<use href="#m29" x="141.1" y="462.3"/>
<use href="#m29" x="143.1" y="462.3"/>
<use href="#m29" x="145" y="462.3"/>
<use href="#m29" x="147" y="462.3"/>
<use href="#m29" x="148.9" y="462.5"/>
<use href="#m29" x="150.8" y="462.6"/>
<use href="#m29" x="152.8" y="462.8"/>
<use href="#m29" x="154.7" y="462.9"/>
<use href="#m29" x="156.7" y="463.1"/>
<use href="#m29" x="158.6" y="463.2"/>
<use href="#m29" x="160.6" y="463.3"/>
<use href="#m29" x="162.5" y="463.5"/>
<use href="#m29" x="164.5" y="463.6"/>
<use href="#m29" x="166.4" y="463.8"/>
<use href="#m29" x="168.3" y="467.1"/>
<use href="#m29" x="170.3" y="467.2"/>
<use href="#m29" x="172.2" y="467.4"/>
<use href="#m29" x="174.2" y="467.6"/>
<use href="#m29" x="176.1" y="470.1"/>
<use href="#m29" x="178.1" y="470.1"/>
<use href="#m29" x="180" y="470.1"/>
<use href="#m29" x="181.9" y="470.1"/>
<use href="#m29" x="183.9" y="470.1"/>
<use href="#m29" x="185.8" y="470.1"/>
<use href="#m29" x="187.8" y="470.1"/>
<use href="#m29" x="189.7" y="470.1"/>
<use href="#m29" x="191.7" y="470.1"/>
<use href="#m29" x="193.6" y="470.1"/>
<use href="#m29" x="195.6" y="470.1"/>
<use href="#m29" x="197.5" y="470.1"/>
<use href="#m29" x="199.4" y="470.6"/>
<use href="#m29" x="201.4" y="472"/>
<use href="#m29" x="203.3" y="473.3"/>
<use href="#m29" x="205.3" y="473.9"/>
<use href="#m29" x="207.2" y="484.8"/>
<use href="#m29" x="209.2" y="487.9"/>
<use href="#m29" x="211.1" y="488"/>
<use href="#m29" x="213.1" y="488.1"/>
<use href="#m29" x="215" y="488.2"/>
<use href="#m29" x="216.9" y="488.3"/>
<use href="#m29" x="218.9" y="488.4"/>
<use href="#m29" x="220.8" y="488.5"/>
<use href="#m29" x="222.8" y="488.5"/>
<use href="#m29" x="224.7" y="488.5"/>
<use href="#m29" x="226.7" y="488.5"/>
<use href="#m29" x="228.6" y="488.5"/>
<use href="#m29" x="230.5" y="488.5"/>
<use href="#m29" x="232.5" y="488.5"/>
<use href="#m29" x="234.4" y="488.5"/>
<use href="#m29" x="236.4" y="488.5"/>
<use href="#m29" x="238.3" y="488.5"/>
<use href="#m29" x="240.3" y="490.1"/>
<use href="#m29" x="242.2" y="490.1"/>
<use href="#m29" x="244.2" y="490.1"/>
<use href="#m29" x="246.1" y="490.1"/>
<rect x="51.7" y="370.6" width="194.4" height="142.9" fill="none" stroke="#222" stroke-width="1.1"/>
<line x1="51.7" y1="513.5" x2="51.7" y2="516.5" stroke="#222" stroke-width="1"/>
<text x="51.7" y="525.5" font-size="9.5" text-anchor="middle" fill="#1a1a1a" font-family="Liberation Serif, serif" style="stroke-width:0.35px">0</text>
<line x1="71.1" y1="513.5" x2="71.1" y2="515.3" stroke="#222" stroke-width="1"/>
<line x1="90.6" y1="513.5" x2="90.6" y2="516.5" stroke="#222" stroke-width="1"/>
<text x="90.6" y="525.5" font-size="9.5" text-anchor="middle" fill="#1a1a1a" font-family="Liberation Serif, serif" style="stroke-width:0.35px">20</text>
<line x1="110" y1="513.5" x2="110" y2="515.3" stroke="#222" stroke-width="1"/>
<line x1="129.5" y1="513.5" x2="129.5" y2="516.5" stroke="#222" stroke-width="1"/>
<text x="129.5" y="525.5" font-size="9.5" text-anchor="middle" fill="#1a1a1a" font-family="Liberation Serif, serif" style="stroke-width:0.35px">40</text>
<line x1="148.9" y1="513.5" x2="148.9" y2="515.3" stroke="#222" stroke-width="1"/>
<line x1="168.3" y1="513.5" x2="168.3" y2="516.5" stroke="#222" stroke-width="1"/>
<text x="168.3" y="525.5" font-size="9.5" text-anchor="middle" fill="#1a1a1a" font-family="Liberation Serif, serif" style="stroke-width:0.35px">60</text>
<line x1="187.8" y1="513.5" x2="187.8" y2="515.3" stroke="#222" stroke-width="1"/>
<line x1="207.2" y1="513.5" x2="207.2" y2="516.5" stroke="#222" stroke-width="1"/>
<text x="207.2" y="525.5" font-size="9.5" text-anchor="middle" fill="#1a1a1a" font-family="Liberation Serif, serif" style="stroke-width:0.35px">80</text>
<line x1="226.7" y1="513.5" x2="226.7" y2="515.3" stroke="#222" stroke-width="1"/>
<line x1="246.1" y1="513.5" x2="246.1" y2="516.5" stroke="#222" stroke-width="1"/>
<text x="246.1" y="525.5" font-size="9.5" text-anchor="middle" fill="#1a1a1a" font-family="Liberation Serif, serif" style="stroke-width:0.35px">100</text>
<line x1="48.7" y1="513.5" x2="51.7" y2="513.5" stroke="#222" stroke-width="1"/>
<line x1="50.1" y1="509.2" x2="51.7" y2="509.2" stroke="#222" stroke-width="0.8"/>
<line x1="50.1" y1="506.7" x2="51.7" y2="506.7" stroke="#222" stroke-width="0.8"/>
<line x1="50.1" y1="504.9" x2="51.7" y2="504.9" stroke="#222" stroke-width="0.8"/>
<line x1="50.1" y1="503.5" x2="51.7" y2="503.5" stroke="#222" stroke-width="0.8"/>
<line x1="50.1" y1="502.4" x2="51.7" y2="502.4" stroke="#222" stroke-width="0.8"/>
<line x1="50.1" y1="501.4" x2="51.7" y2="501.4" stroke="#222" stroke-width="0.8"/>
<line x1="50.1" y1="500.6" x2="51.7" y2="500.6" stroke="#222" stroke-width="0.8"/>
<line x1="50.1" y1="499.9" x2="51.7" y2="499.9" stroke="#222" stroke-width="0.8"/>
<text x="47.8" y="517.6" font-size="9.0" fill="#1a1a1a" text-anchor="end" style="stroke-width:0.35px" font-family="Liberation Serif, serif"><tspan>10</tspan><tspan dy="-4.6" font-size="6.4">-6</tspan></text>
<line x1="48.7" y1="499.2" x2="51.7" y2="499.2" stroke="#222" stroke-width="1"/>
<line x1="50.1" y1="494.9" x2="51.7" y2="494.9" stroke="#222" stroke-width="0.8"/>
<line x1="50.1" y1="492.4" x2="51.7" y2="492.4" stroke="#222" stroke-width="0.8"/>
<line x1="50.1" y1="490.6" x2="51.7" y2="490.6" stroke="#222" stroke-width="0.8"/>
<line x1="50.1" y1="489.2" x2="51.7" y2="489.2" stroke="#222" stroke-width="0.8"/>
<line x1="50.1" y1="488.1" x2="51.7" y2="488.1" stroke="#222" stroke-width="0.8"/>
<line x1="50.1" y1="487.1" x2="51.7" y2="487.1" stroke="#222" stroke-width="0.8"/>
<line x1="50.1" y1="486.3" x2="51.7" y2="486.3" stroke="#222" stroke-width="0.8"/>
<line x1="50.1" y1="485.6" x2="51.7" y2="485.6" stroke="#222" stroke-width="0.8"/>
<text x="47.8" y="503.3" font-size="9.0" fill="#1a1a1a" text-anchor="end" style="stroke-width:0.35px" font-family="Liberation Serif, serif"><tspan>10</tspan><tspan dy="-4.6" font-size="6.4">-5</tspan></text>
<line x1="48.7" y1="484.9" x2="51.7" y2="484.9" stroke="#222" stroke-width="1"/>
<line x1="50.1" y1="480.6" x2="51.7" y2="480.6" stroke="#222" stroke-width="0.8"/>
<line x1="50.1" y1="478.1" x2="51.7" y2="478.1" stroke="#222" stroke-width="0.8"/>
<line x1="50.1" y1="476.3" x2="51.7" y2="476.3" stroke="#222" stroke-width="0.8"/>
<line x1="50.1" y1="474.9" x2="51.7" y2="474.9" stroke="#222" stroke-width="0.8"/>
<line x1="50.1" y1="473.8" x2="51.7" y2="473.8" stroke="#222" stroke-width="0.8"/>
<line x1="50.1" y1="472.8" x2="51.7" y2="472.8" stroke="#222" stroke-width="0.8"/>
<line x1="50.1" y1="472" x2="51.7" y2="472" stroke="#222" stroke-width="0.8"/>
<line x1="50.1" y1="471.3" x2="51.7" y2="471.3" stroke="#222" stroke-width="0.8"/>
<text x="47.8" y="489" font-size="9.0" fill="#1a1a1a" text-anchor="end" style="stroke-width:0.35px" font-family="Liberation Serif, serif"><tspan>10</tspan><tspan dy="-4.6" font-size="6.4">-4</tspan></text>
<line x1="48.7" y1="470.6" x2="51.7" y2="470.6" stroke="#222" stroke-width="1"/>
<line x1="50.1" y1="466.3" x2="51.7" y2="466.3" stroke="#222" stroke-width="0.8"/>
<line x1="50.1" y1="463.8" x2="51.7" y2="463.8" stroke="#222" stroke-width="0.8"/>
<line x1="50.1" y1="462" x2="51.7" y2="462" stroke="#222" stroke-width="0.8"/>
<line x1="50.1" y1="460.6" x2="51.7" y2="460.6" stroke="#222" stroke-width="0.8"/>
<line x1="50.1" y1="459.5" x2="51.7" y2="459.5" stroke="#222" stroke-width="0.8"/>
<line x1="50.1" y1="458.6" x2="51.7" y2="458.6" stroke="#222" stroke-width="0.8"/>
<line x1="50.1" y1="457.7" x2="51.7" y2="457.7" stroke="#222" stroke-width="0.8"/>
<line x1="50.1" y1="457" x2="51.7" y2="457" stroke="#222" stroke-width="0.8"/>
<text x="47.8" y="474.7" font-size="9.0" fill="#1a1a1a" text-anchor="end" style="stroke-width:0.35px" font-family="Liberation Serif, serif"><tspan>10</tspan><tspan dy="-4.6" font-size="6.4">-3</tspan></text>
<line x1="48.7" y1="456.3" x2="51.7" y2="456.3" stroke="#222" stroke-width="1"/>
<line x1="50.1" y1="452" x2="51.7" y2="452" stroke="#222" stroke-width="0.8"/>
<line x1="50.1" y1="449.5" x2="51.7" y2="449.5" stroke="#222" stroke-width="0.8"/>
<line x1="50.1" y1="447.7" x2="51.7" y2="447.7" stroke="#222" stroke-width="0.8"/>
<line x1="50.1" y1="446.4" x2="51.7" y2="446.4" stroke="#222" stroke-width="0.8"/>
<line x1="50.1" y1="445.2" x2="51.7" y2="445.2" stroke="#222" stroke-width="0.8"/>
<line x1="50.1" y1="444.3" x2="51.7" y2="444.3" stroke="#222" stroke-width="0.8"/>
<line x1="50.1" y1="443.4" x2="51.7" y2="443.4" stroke="#222" stroke-width="0.8"/>
<line x1="50.1" y1="442.7" x2="51.7" y2="442.7" stroke="#222" stroke-width="0.8"/>
<text x="47.8" y="460.4" font-size="9.0" fill="#1a1a1a" text-anchor="end" style="stroke-width:0.35px" font-family="Liberation Serif, serif"><tspan>10</tspan><tspan dy="-4.6" font-size="6.4">-2</tspan></text>
<line x1="48.7" y1="442.1" x2="51.7" y2="442.1" stroke="#222" stroke-width="1"/>
<line x1="50.1" y1="437.7" x2="51.7" y2="437.7" stroke="#222" stroke-width="0.8"/>
<line x1="50.1" y1="435.2" x2="51.7" y2="435.2" stroke="#222" stroke-width="0.8"/>
<line x1="50.1" y1="433.4" x2="51.7" y2="433.4" stroke="#222" stroke-width="0.8"/>
<line x1="50.1" y1="432.1" x2="51.7" y2="432.1" stroke="#222" stroke-width="0.8"/>
<line x1="50.1" y1="430.9" x2="51.7" y2="430.9" stroke="#222" stroke-width="0.8"/>
<line x1="50.1" y1="430" x2="51.7" y2="430" stroke="#222" stroke-width="0.8"/>
<line x1="50.1" y1="429.1" x2="51.7" y2="429.1" stroke="#222" stroke-width="0.8"/>
<line x1="50.1" y1="428.4" x2="51.7" y2="428.4" stroke="#222" stroke-width="0.8"/>
<text x="47.8" y="446.2" font-size="9.0" fill="#1a1a1a" text-anchor="end" style="stroke-width:0.35px" font-family="Liberation Serif, serif"><tspan>10</tspan><tspan dy="-4.6" font-size="6.4">-1</tspan></text>
<line x1="48.7" y1="427.8" x2="51.7" y2="427.8" stroke="#222" stroke-width="1"/>
<line x1="50.1" y1="423.5" x2="51.7" y2="423.5" stroke="#222" stroke-width="0.8"/>
<line x1="50.1" y1="420.9" x2="51.7" y2="420.9" stroke="#222" stroke-width="0.8"/>
<line x1="50.1" y1="419.2" x2="51.7" y2="419.2" stroke="#222" stroke-width="0.8"/>
<line x1="50.1" y1="417.8" x2="51.7" y2="417.8" stroke="#222" stroke-width="0.8"/>
<line x1="50.1" y1="416.6" x2="51.7" y2="416.6" stroke="#222" stroke-width="0.8"/>
<line x1="50.1" y1="415.7" x2="51.7" y2="415.7" stroke="#222" stroke-width="0.8"/>
<line x1="50.1" y1="414.9" x2="51.7" y2="414.9" stroke="#222" stroke-width="0.8"/>
<line x1="50.1" y1="414.1" x2="51.7" y2="414.1" stroke="#222" stroke-width="0.8"/>
<text x="47.8" y="431.9" font-size="9.0" fill="#1a1a1a" text-anchor="end" style="stroke-width:0.35px" font-family="Liberation Serif, serif"><tspan>10</tspan><tspan dy="-4.6" font-size="6.4">0</tspan></text>
<line x1="48.7" y1="413.5" x2="51.7" y2="413.5" stroke="#222" stroke-width="1"/>
<line x1="50.1" y1="409.2" x2="51.7" y2="409.2" stroke="#222" stroke-width="0.8"/>
<line x1="50.1" y1="406.7" x2="51.7" y2="406.7" stroke="#222" stroke-width="0.8"/>
<line x1="50.1" y1="404.9" x2="51.7" y2="404.9" stroke="#222" stroke-width="0.8"/>
<line x1="50.1" y1="403.5" x2="51.7" y2="403.5" stroke="#222" stroke-width="0.8"/>
<line x1="50.1" y1="402.4" x2="51.7" y2="402.4" stroke="#222" stroke-width="0.8"/>
<line x1="50.1" y1="401.4" x2="51.7" y2="401.4" stroke="#222" stroke-width="0.8"/>
<line x1="50.1" y1="400.6" x2="51.7" y2="400.6" stroke="#222" stroke-width="0.8"/>
<line x1="50.1" y1="399.8" x2="51.7" y2="399.8" stroke="#222" stroke-width="0.8"/>
<text x="47.8" y="417.6" font-size="9.0" fill="#1a1a1a" text-anchor="end" style="stroke-width:0.35px" font-family="Liberation Serif, serif"><tspan>10</tspan><tspan dy="-4.6" font-size="6.4">1</tspan></text>
<line x1="48.7" y1="399.2" x2="51.7" y2="399.2" stroke="#222" stroke-width="1"/>
<line x1="50.1" y1="394.9" x2="51.7" y2="394.9" stroke="#222" stroke-width="0.8"/>
<line x1="50.1" y1="392.4" x2="51.7" y2="392.4" stroke="#222" stroke-width="0.8"/>
<line x1="50.1" y1="390.6" x2="51.7" y2="390.6" stroke="#222" stroke-width="0.8"/>
<line x1="50.1" y1="389.2" x2="51.7" y2="389.2" stroke="#222" stroke-width="0.8"/>
<line x1="50.1" y1="388.1" x2="51.7" y2="388.1" stroke="#222" stroke-width="0.8"/>
<line x1="50.1" y1="387.1" x2="51.7" y2="387.1" stroke="#222" stroke-width="0.8"/>
<line x1="50.1" y1="386.3" x2="51.7" y2="386.3" stroke="#222" stroke-width="0.8"/>
<line x1="50.1" y1="385.5" x2="51.7" y2="385.5" stroke="#222" stroke-width="0.8"/>
<text x="47.8" y="403.3" font-size="9.0" fill="#1a1a1a" text-anchor="end" style="stroke-width:0.35px" font-family="Liberation Serif, serif"><tspan>10</tspan><tspan dy="-4.6" font-size="6.4">2</tspan></text>
<line x1="48.7" y1="384.9" x2="51.7" y2="384.9" stroke="#222" stroke-width="1"/>
<line x1="50.1" y1="380.6" x2="51.7" y2="380.6" stroke="#222" stroke-width="0.8"/>
<line x1="50.1" y1="378.1" x2="51.7" y2="378.1" stroke="#222" stroke-width="0.8"/>
<line x1="50.1" y1="376.3" x2="51.7" y2="376.3" stroke="#222" stroke-width="0.8"/>
<line x1="50.1" y1="374.9" x2="51.7" y2="374.9" stroke="#222" stroke-width="0.8"/>
<line x1="50.1" y1="373.8" x2="51.7" y2="373.8" stroke="#222" stroke-width="0.8"/>
<line x1="50.1" y1="372.8" x2="51.7" y2="372.8" stroke="#222" stroke-width="0.8"/>
<line x1="50.1" y1="372" x2="51.7" y2="372" stroke="#222" stroke-width="0.8"/>
<line x1="50.1" y1="371.3" x2="51.7" y2="371.3" stroke="#222" stroke-width="0.8"/>
<text x="47.8" y="389" font-size="9.0" fill="#1a1a1a" text-anchor="end" style="stroke-width:0.35px" font-family="Liberation Serif, serif"><tspan>10</tspan><tspan dy="-4.6" font-size="6.4">3</tspan></text>
<line x1="48.7" y1="370.6" x2="51.7" y2="370.6" stroke="#222" stroke-width="1"/>
<text x="47.8" y="374.7" font-size="9.0" fill="#1a1a1a" text-anchor="end" style="stroke-width:0.35px" font-family="Liberation Serif, serif"><tspan>10</tspan><tspan dy="-4.6" font-size="6.4">4</tspan></text>
<text x="26.6" y="443.2" font-size="11" text-anchor="middle" transform="rotate(-90 26.6 443.2)" dy="3.8" fill="#222" font-family="Liberation Sans, sans-serif">Fitness</text>
<text x="149.3" y="535.5" font-size="10" text-anchor="middle" fill="#222" font-family="Liberation Sans, sans-serif">Iterations</text>
<line x1="57.7" y1="490.8" x2="78.2" y2="490.8" stroke="#e8202a" stroke-width="1.3"/>
<use href="#m30" x="68" y="490.8"/>
<text x="80.7" y="494.1" font-size="9.25" fill="#2a2a2a" font-family="Liberation Sans, sans-serif">F Best Var</text>
<line x1="57.7" y1="501.5" x2="78.2" y2="501.5" stroke="#3a64ac" stroke-width="1.3"/>
<use href="#m4" x="68" y="501.5"/>
<text x="80.7" y="504.8" font-size="9.25" fill="#2a2a2a" font-family="Liberation Sans, sans-serif">F Var</text>
<text x="8.7" y="388.7" font-size="16.5" fill="#222" font-family="Liberation Serif, serif">(e)</text>
</g>
<g clip-path="url(#cf)">
<path d="M285.4 398.3L287.4 421.1L289.5 459.5L291.5 478.3L293.5 484.5L295.6 497L297.6 510.1L299.6 499.5L301.7 493.3L303.7 487.3L305.7 497L307.8 507L309.8 512L311.8 514.5L313.9 515.8L315.9 517L317.9 517.4L320 517.8L322 518.1L324 518.5L326.1 518.9L328.1 519L330.1 519.2L332.2 519.3L334.2 519.4L336.2 519.6L338.3 519.7L340.3 519.9L342.3 520L344.4 520L346.4 520L348.4 520L350.5 520.1L352.5 520.1L354.5 520.1L356.6 520.1L358.6 520.1L360.6 520.1L362.7 520.2L364.7 520.2L366.7 520.2L368.8 520.2L370.8 520.2L372.8 520.2L374.9 520.3L376.9 520.3L378.9 520.3L381 520.3L383 520.3L385 520.3L387 520.3L389.1 520.4L391.1 520.4L393.1 520.4L395.2 520.4L397.2 520.4L399.2 520.4L401.3 520.5L403.3 520.5L405.3 520.5L407.4 520.5L409.4 520.5L411.4 520.5L413.5 520.5L415.5 520.5L417.5 520.5L419.6 520.5L421.6 520.5L423.6 520.6L425.7 520.6L427.7 520.6L429.7 520.6L431.8 520.6L433.8 520.6L435.8 520.6L437.9 520.6L439.9 520.6L441.9 520.6L444 520.6L446 520.6L448 520.6L450.1 520.6L452.1 520.6L454.1 520.6L456.2 520.7L458.2 520.7L460.2 520.7L462.3 520.7L464.3 520.7L466.3 520.7L468.4 520.7L470.4 520.7L472.4 520.7L474.5 520.7L476.5 520.7L478.5 520.7L480.6 520.7L482.6 520.7L484.6 520.7L486.7 520.7L488.7 520.8" fill="none" stroke="#e8202a" stroke-width="1.0"/>
<use href="#m31" x="285.4" y="398.3"/>
<use href="#m31" x="287.4" y="421.1"/>
<use href="#m31" x="289.5" y="459.5"/>
<use href="#m31" x="291.5" y="478.3"/>
<use href="#m31" x="293.5" y="484.5"/>
<use href="#m31" x="295.6" y="497"/>
<use href="#m31" x="297.6" y="510.1"/>
<use href="#m31" x="299.6" y="499.5"/>
<use href="#m31" x="301.7" y="493.3"/>
<use href="#m31" x="303.7" y="487.3"/>
<use href="#m31" x="305.7" y="497"/>
<use href="#m31" x="307.8" y="507"/>
<use href="#m31" x="309.8" y="512"/>
<use href="#m31" x="311.8" y="514.5"/>
<use href="#m31" x="313.9" y="515.8"/>
<use href="#m31" x="315.9" y="517"/>
<use href="#m31" x="317.9" y="517.4"/>
<use href="#m31" x="320" y="517.8"/>
<use href="#m31" x="322" y="518.1"/>
<use href="#m31" x="324" y="518.5"/>
<use href="#m31" x="326.1" y="518.9"/>
<use href="#m31" x="328.1" y="519"/>
<use href="#m31" x="330.1" y="519.2"/>
<use href="#m31" x="332.2" y="519.3"/>
<use href="#m31" x="334.2" y="519.4"/>
<use href="#m31" x="336.2" y="519.6"/>
<use href="#m31" x="338.3" y="519.7"/>
<use href="#m31" x="340.3" y="519.9"/>
<use href="#m31" x="342.3" y="520"/>
<use href="#m31" x="344.4" y="520"/>
<use href="#m31" x="346.4" y="520"/>
<use href="#m31" x="348.4" y="520"/>
<use href="#m31" x="350.5" y="520.1"/>
<use href="#m31" x="352.5" y="520.1"/>
<use href="#m31" x="354.5" y="520.1"/>
<use href="#m31" x="356.6" y="520.1"/>
<use href="#m31" x="358.6" y="520.1"/>
<use href="#m31" x="360.6" y="520.1"/>
<use href="#m31" x="362.7" y="520.2"/>
<use href="#m31" x="364.7" y="520.2"/>
<use href="#m31" x="366.7" y="520.2"/>
<use href="#m31" x="368.8" y="520.2"/>
<use href="#m31" x="370.8" y="520.2"/>
<use href="#m31" x="372.8" y="520.2"/>
<use href="#m31" x="374.9" y="520.3"/>
<use href="#m31" x="376.9" y="520.3"/>
<use href="#m31" x="378.9" y="520.3"/>
<use href="#m31" x="381" y="520.3"/>
<use href="#m31" x="383" y="520.3"/>
<use href="#m31" x="385" y="520.3"/>
<use href="#m31" x="387" y="520.3"/>
<use href="#m31" x="389.1" y="520.4"/>
<use href="#m31" x="391.1" y="520.4"/>
<use href="#m31" x="393.1" y="520.4"/>
<use href="#m31" x="395.2" y="520.4"/>
<use href="#m31" x="397.2" y="520.4"/>
<use href="#m31" x="399.2" y="520.4"/>
<use href="#m31" x="401.3" y="520.5"/>
<use href="#m31" x="403.3" y="520.5"/>
<use href="#m31" x="405.3" y="520.5"/>
<use href="#m31" x="407.4" y="520.5"/>
<use href="#m31" x="409.4" y="520.5"/>
<use href="#m31" x="411.4" y="520.5"/>
<use href="#m31" x="413.5" y="520.5"/>
<use href="#m31" x="415.5" y="520.5"/>
<use href="#m31" x="417.5" y="520.5"/>
<use href="#m31" x="419.6" y="520.5"/>
<use href="#m31" x="421.6" y="520.5"/>
<use href="#m31" x="423.6" y="520.6"/>
<use href="#m31" x="425.7" y="520.6"/>
<use href="#m31" x="427.7" y="520.6"/>
<use href="#m31" x="429.7" y="520.6"/>
<use href="#m31" x="431.8" y="520.6"/>
<use href="#m31" x="433.8" y="520.6"/>
<use href="#m31" x="435.8" y="520.6"/>
<use href="#m31" x="437.9" y="520.6"/>
<use href="#m31" x="439.9" y="520.6"/>
<use href="#m31" x="441.9" y="520.6"/>
<use href="#m31" x="444" y="520.6"/>
<use href="#m31" x="446" y="520.6"/>
<use href="#m31" x="448" y="520.6"/>
<use href="#m31" x="450.1" y="520.6"/>
<use href="#m31" x="452.1" y="520.6"/>
<use href="#m31" x="454.1" y="520.6"/>
<use href="#m31" x="456.2" y="520.7"/>
<use href="#m31" x="458.2" y="520.7"/>
<use href="#m31" x="460.2" y="520.7"/>
<use href="#m31" x="462.3" y="520.7"/>
<use href="#m31" x="464.3" y="520.7"/>
<use href="#m31" x="466.3" y="520.7"/>
<use href="#m31" x="468.4" y="520.7"/>
<use href="#m31" x="470.4" y="520.7"/>
<use href="#m31" x="472.4" y="520.7"/>
<use href="#m31" x="474.5" y="520.7"/>
<use href="#m31" x="476.5" y="520.7"/>
<use href="#m31" x="478.5" y="520.7"/>
<use href="#m31" x="480.6" y="520.7"/>
<use href="#m31" x="482.6" y="520.7"/>
<use href="#m31" x="484.6" y="520.7"/>
<use href="#m31" x="486.7" y="520.7"/>
<use href="#m31" x="488.7" y="520.8"/>
<path d="M285.4 384.6L287.4 434.6L289.5 465.8L291.5 487.3L293.5 490.8L295.6 497L297.6 500.8L299.6 503.3L301.7 507L303.7 509.5L305.7 512L307.8 513.9L309.8 515.8L311.8 516.6L313.9 517.4L315.9 518.3L317.9 518.6L320 518.9L322 519.2L324 519.5L326.1 519.8L328.1 519.9L330.1 520L332.2 520.1L334.2 520.2L336.2 520.3L338.3 520.4L340.3 520.5L342.3 520.6L344.4 520.7L346.4 520.8L348.4 520.8L350.5 520.8L352.5 520.8L354.5 520.8L356.6 520.8L358.6 520.8L360.6 520.8L362.7 520.8L364.7 520.8L366.7 520.8L368.8 520.8L370.8 520.8L372.8 520.8L374.9 520.8L376.9 520.8L378.9 520.8L381 520.8L383 520.8L385 520.8L387 520.8L389.1 520.8L391.1 520.8L393.1 520.8L395.2 520.8L397.2 520.8L399.2 520.8L401.3 520.8L403.3 520.9L405.3 520.9L407.4 520.9L409.4 520.9L411.4 520.9L413.5 520.9L415.5 520.9L417.5 520.9L419.6 520.9L421.6 520.9L423.6 520.9L425.7 520.9L427.7 520.9L429.7 520.9L431.8 520.9L433.8 520.9L435.8 520.9L437.9 520.9L439.9 520.9L441.9 520.9L444 520.9L446 520.9L448 520.9L450.1 520.9L452.1 520.9L454.1 520.9L456.2 520.9L458.2 520.9L460.2 521L462.3 521L464.3 521L466.3 521L468.4 521L470.4 521L472.4 521L474.5 521L476.5 521L478.5 521L480.6 521L482.6 521L484.6 521L486.7 521L488.7 521" fill="none" stroke="#3a64ac" stroke-width="1.0"/>
<use href="#m7" x="285.4" y="384.6"/>
<use href="#m7" x="287.4" y="434.6"/>
<use href="#m7" x="289.5" y="465.8"/>
<use href="#m7" x="291.5" y="487.3"/>
<use href="#m7" x="293.5" y="490.8"/>
<use href="#m7" x="295.6" y="497"/>
<use href="#m7" x="297.6" y="500.8"/>
<use href="#m7" x="299.6" y="503.3"/>
<use href="#m7" x="301.7" y="507"/>
<use href="#m7" x="303.7" y="509.5"/>
<use href="#m7" x="305.7" y="512"/>
<use href="#m7" x="307.8" y="513.9"/>
<use href="#m7" x="309.8" y="515.8"/>
<use href="#m7" x="311.8" y="516.6"/>
<use href="#m7" x="313.9" y="517.4"/>
<use href="#m7" x="315.9" y="518.3"/>
<use href="#m7" x="317.9" y="518.6"/>
<use href="#m7" x="320" y="518.9"/>
<use href="#m7" x="322" y="519.2"/>
<use href="#m7" x="324" y="519.5"/>
<use href="#m7" x="326.1" y="519.8"/>
<use href="#m7" x="328.1" y="519.9"/>
<use href="#m7" x="330.1" y="520"/>
<use href="#m7" x="332.2" y="520.1"/>
<use href="#m7" x="334.2" y="520.2"/>
<use href="#m7" x="336.2" y="520.3"/>
<use href="#m7" x="338.3" y="520.4"/>
<use href="#m7" x="340.3" y="520.5"/>
<use href="#m7" x="342.3" y="520.6"/>
<use href="#m7" x="344.4" y="520.7"/>
<use href="#m7" x="346.4" y="520.8"/>
<use href="#m7" x="348.4" y="520.8"/>
<use href="#m7" x="350.5" y="520.8"/>
<use href="#m7" x="352.5" y="520.8"/>
<use href="#m7" x="354.5" y="520.8"/>
<use href="#m7" x="356.6" y="520.8"/>
<use href="#m7" x="358.6" y="520.8"/>
<use href="#m7" x="360.6" y="520.8"/>
<use href="#m7" x="362.7" y="520.8"/>
<use href="#m7" x="364.7" y="520.8"/>
<use href="#m7" x="366.7" y="520.8"/>
<use href="#m7" x="368.8" y="520.8"/>
<use href="#m7" x="370.8" y="520.8"/>
<use href="#m7" x="372.8" y="520.8"/>
<use href="#m7" x="374.9" y="520.8"/>
<use href="#m7" x="376.9" y="520.8"/>
<use href="#m7" x="378.9" y="520.8"/>
<use href="#m7" x="381" y="520.8"/>
<use href="#m7" x="383" y="520.8"/>
<use href="#m7" x="385" y="520.8"/>
<use href="#m7" x="387" y="520.8"/>
<use href="#m7" x="389.1" y="520.8"/>
<use href="#m7" x="391.1" y="520.8"/>
<use href="#m7" x="393.1" y="520.8"/>
<use href="#m7" x="395.2" y="520.8"/>
<use href="#m7" x="397.2" y="520.8"/>
<use href="#m7" x="399.2" y="520.8"/>
<use href="#m7" x="401.3" y="520.8"/>
<use href="#m7" x="403.3" y="520.9"/>
<use href="#m7" x="405.3" y="520.9"/>
<use href="#m7" x="407.4" y="520.9"/>
<use href="#m7" x="409.4" y="520.9"/>
<use href="#m7" x="411.4" y="520.9"/>
<use href="#m7" x="413.5" y="520.9"/>
<use href="#m7" x="415.5" y="520.9"/>
<use href="#m7" x="417.5" y="520.9"/>
<use href="#m7" x="419.6" y="520.9"/>
<use href="#m7" x="421.6" y="520.9"/>
<use href="#m7" x="423.6" y="520.9"/>
<use href="#m7" x="425.7" y="520.9"/>
<use href="#m7" x="427.7" y="520.9"/>
<use href="#m7" x="429.7" y="520.9"/>
<use href="#m7" x="431.8" y="520.9"/>
<use href="#m7" x="433.8" y="520.9"/>
<use href="#m7" x="435.8" y="520.9"/>
<use href="#m7" x="437.9" y="520.9"/>
<use href="#m7" x="439.9" y="520.9"/>
<use href="#m7" x="441.9" y="520.9"/>
<use href="#m7" x="444" y="520.9"/>
<use href="#m7" x="446" y="520.9"/>
<use href="#m7" x="448" y="520.9"/>
<use href="#m7" x="450.1" y="520.9"/>
<use href="#m7" x="452.1" y="520.9"/>
<use href="#m7" x="454.1" y="520.9"/>
<use href="#m7" x="456.2" y="520.9"/>
<use href="#m7" x="458.2" y="520.9"/>
<use href="#m7" x="460.2" y="521"/>
<use href="#m7" x="462.3" y="521"/>
<use href="#m7" x="464.3" y="521"/>
<use href="#m7" x="466.3" y="521"/>
<use href="#m7" x="468.4" y="521"/>
<use href="#m7" x="470.4" y="521"/>
<use href="#m7" x="472.4" y="521"/>
<use href="#m7" x="474.5" y="521"/>
<use href="#m7" x="476.5" y="521"/>
<use href="#m7" x="478.5" y="521"/>
<use href="#m7" x="480.6" y="521"/>
<use href="#m7" x="482.6" y="521"/>
<use href="#m7" x="484.6" y="521"/>
<use href="#m7" x="486.7" y="521"/>
<use href="#m7" x="488.7" y="521"/>
<path d="M285.4 412.1L287.4 490.1L289.5 497.1L291.5 484.5L293.5 480.7L295.6 490.8L297.6 503.3L299.6 507L301.7 509.5L303.7 514.5L305.7 517L307.8 517.5L309.8 518L311.8 518.5L313.9 519L315.9 519.5L317.9 519.6L320 519.7L322 519.8L324 519.9L326.1 520L328.1 520.1L330.1 520.2L332.2 520.3L334.2 520.4L336.2 520.5L338.3 520.6L340.3 520.7L342.3 520.8L344.4 520.9L346.4 521L348.4 521L350.5 521L352.5 521L354.5 521L356.6 521L358.6 521L360.6 521L362.7 521L364.7 521L366.7 521L368.8 521L370.8 521L372.8 521L374.9 521.1L376.9 521.1L378.9 521.1L381 521.1L383 521.1L385 521.1L387 521.1L389.1 521.1L391.1 521.1L393.1 521.1L395.2 521.1L397.2 521.1L399.2 521.1L401.3 521.1L403.3 521.1L405.3 521.1L407.4 521.1L409.4 521.1L411.4 521.1L413.5 521.1L415.5 521.1L417.5 521.1L419.6 521.1L421.6 521.1L423.6 521.1L425.7 521.1L427.7 521.1L429.7 521.1L431.8 521.2L433.8 521.2L435.8 521.2L437.9 521.2L439.9 521.2L441.9 521.2L444 521.2L446 521.2L448 521.2L450.1 521.2L452.1 521.2L454.1 521.2L456.2 521.2L458.2 521.2L460.2 521.2L462.3 521.2L464.3 521.2L466.3 521.2L468.4 521.2L470.4 521.2L472.4 521.2L474.5 521.2L476.5 521.2L478.5 521.2L480.6 521.2L482.6 521.2L484.6 521.2L486.7 521.2L488.7 521.3" fill="none" stroke="#f2c01a" stroke-width="1.0"/>
<use href="#m8" x="285.4" y="412.1"/>
<use href="#m8" x="287.4" y="490.1"/>
<use href="#m8" x="289.5" y="497.1"/>
<use href="#m8" x="291.5" y="484.5"/>
<use href="#m8" x="293.5" y="480.7"/>
<use href="#m8" x="295.6" y="490.8"/>
<use href="#m8" x="297.6" y="503.3"/>
<use href="#m8" x="299.6" y="507"/>
<use href="#m8" x="301.7" y="509.5"/>
<use href="#m8" x="303.7" y="514.5"/>
<use href="#m8" x="305.7" y="517"/>
<use href="#m8" x="307.8" y="517.5"/>
<use href="#m8" x="309.8" y="518"/>
<use href="#m8" x="311.8" y="518.5"/>
<use href="#m8" x="313.9" y="519"/>
<use href="#m8" x="315.9" y="519.5"/>
<use href="#m8" x="317.9" y="519.6"/>
<use href="#m8" x="320" y="519.7"/>
<use href="#m8" x="322" y="519.8"/>
<use href="#m8" x="324" y="519.9"/>
<use href="#m8" x="326.1" y="520"/>
<use href="#m8" x="328.1" y="520.1"/>
<use href="#m8" x="330.1" y="520.2"/>
<use href="#m8" x="332.2" y="520.3"/>
<use href="#m8" x="334.2" y="520.4"/>
<use href="#m8" x="336.2" y="520.5"/>
<use href="#m8" x="338.3" y="520.6"/>
<use href="#m8" x="340.3" y="520.7"/>
<use href="#m8" x="342.3" y="520.8"/>
<use href="#m8" x="344.4" y="520.9"/>
<use href="#m8" x="346.4" y="521"/>
<use href="#m8" x="348.4" y="521"/>
<use href="#m8" x="350.5" y="521"/>
<use href="#m8" x="352.5" y="521"/>
<use href="#m8" x="354.5" y="521"/>
<use href="#m8" x="356.6" y="521"/>
<use href="#m8" x="358.6" y="521"/>
<use href="#m8" x="360.6" y="521"/>
<use href="#m8" x="362.7" y="521"/>
<use href="#m8" x="364.7" y="521"/>
<use href="#m8" x="366.7" y="521"/>
<use href="#m8" x="368.8" y="521"/>
<use href="#m8" x="370.8" y="521"/>
<use href="#m8" x="372.8" y="521"/>
<use href="#m8" x="374.9" y="521.1"/>
<use href="#m8" x="376.9" y="521.1"/>
<use href="#m8" x="378.9" y="521.1"/>
<use href="#m8" x="381" y="521.1"/>
<use href="#m8" x="383" y="521.1"/>
<use href="#m8" x="385" y="521.1"/>
<use href="#m8" x="387" y="521.1"/>
<use href="#m8" x="389.1" y="521.1"/>
<use href="#m8" x="391.1" y="521.1"/>
<use href="#m8" x="393.1" y="521.1"/>
<use href="#m8" x="395.2" y="521.1"/>
<use href="#m8" x="397.2" y="521.1"/>
<use href="#m8" x="399.2" y="521.1"/>
<use href="#m8" x="401.3" y="521.1"/>
<use href="#m8" x="403.3" y="521.1"/>
<use href="#m8" x="405.3" y="521.1"/>
<use href="#m8" x="407.4" y="521.1"/>
<use href="#m8" x="409.4" y="521.1"/>
<use href="#m8" x="411.4" y="521.1"/>
<use href="#m8" x="413.5" y="521.1"/>
<use href="#m8" x="415.5" y="521.1"/>
<use href="#m8" x="417.5" y="521.1"/>
<use href="#m8" x="419.6" y="521.1"/>
<use href="#m8" x="421.6" y="521.1"/>
<use href="#m8" x="423.6" y="521.1"/>
<use href="#m8" x="425.7" y="521.1"/>
<use href="#m8" x="427.7" y="521.1"/>
<use href="#m8" x="429.7" y="521.1"/>
<use href="#m8" x="431.8" y="521.2"/>
<use href="#m8" x="433.8" y="521.2"/>
<use href="#m8" x="435.8" y="521.2"/>
<use href="#m8" x="437.9" y="521.2"/>
<use href="#m8" x="439.9" y="521.2"/>
<use href="#m8" x="441.9" y="521.2"/>
<use href="#m8" x="444" y="521.2"/>
<use href="#m8" x="446" y="521.2"/>
<use href="#m8" x="448" y="521.2"/>
<use href="#m8" x="450.1" y="521.2"/>
<use href="#m8" x="452.1" y="521.2"/>
<use href="#m8" x="454.1" y="521.2"/>
<use href="#m8" x="456.2" y="521.2"/>
<use href="#m8" x="458.2" y="521.2"/>
<use href="#m8" x="460.2" y="521.2"/>
<use href="#m8" x="462.3" y="521.2"/>
<use href="#m8" x="464.3" y="521.2"/>
<use href="#m8" x="466.3" y="521.2"/>
<use href="#m8" x="468.4" y="521.2"/>
<use href="#m8" x="470.4" y="521.2"/>
<use href="#m8" x="472.4" y="521.2"/>
<use href="#m8" x="474.5" y="521.2"/>
<use href="#m8" x="476.5" y="521.2"/>
<use href="#m8" x="478.5" y="521.2"/>
<use href="#m8" x="480.6" y="521.2"/>
<use href="#m8" x="482.6" y="521.2"/>
<use href="#m8" x="484.6" y="521.2"/>
<use href="#m8" x="486.7" y="521.2"/>
<use href="#m8" x="488.7" y="521.3"/>
<path d="M285.4 473.3L287.4 473.3L289.5 484.5L291.5 452.3L293.5 497L295.6 499.5L297.6 506.5L299.6 510.8L301.7 514.5L303.7 515.8L305.7 517L307.8 517.5L309.8 518L311.8 518.5L313.9 519L315.9 519.5L317.9 519.6L320 519.7L322 519.8L324 519.9L326.1 520L328.1 520.1L330.1 520.2L332.2 520.3L334.2 520.4L336.2 520.5L338.3 520.6L340.3 520.7L342.3 520.8L344.4 520.9L346.4 521L348.4 521L350.5 521L352.5 521L354.5 521L356.6 521L358.6 521L360.6 521L362.7 521L364.7 521L366.7 521L368.8 521L370.8 521L372.8 521L374.9 521.1L376.9 521.1L378.9 521.1L381 521.1L383 521.1L385 521.1L387 521.1L389.1 521.1L391.1 521.1L393.1 521.1L395.2 521.1L397.2 521.1L399.2 521.1L401.3 521.1L403.3 521.1L405.3 521.1L407.4 521.1L409.4 521.1L411.4 521.1L413.5 521.1L415.5 521.1L417.5 521.1L419.6 521.1L421.6 521.1L423.6 521.1L425.7 521.1L427.7 521.1L429.7 521.1L431.8 521.2L433.8 521.2L435.8 521.2L437.9 521.2L439.9 521.2L441.9 521.2L444 521.2L446 521.2L448 521.2L450.1 521.2L452.1 521.2L454.1 521.2L456.2 521.2L458.2 521.2L460.2 521.2L462.3 521.2L464.3 521.2L466.3 521.2L468.4 521.2L470.4 521.2L472.4 521.2L474.5 521.2L476.5 521.2L478.5 521.2L480.6 521.2L482.6 521.2L484.6 521.2L486.7 521.2L488.7 521.3" fill="none" stroke="#3cc070" stroke-width="1.0"/>
<use href="#m6" x="285.4" y="473.3"/>
<use href="#m6" x="287.4" y="473.3"/>
<use href="#m6" x="289.5" y="484.5"/>
<use href="#m6" x="291.5" y="452.3"/>
<use href="#m6" x="293.5" y="497"/>
<use href="#m6" x="295.6" y="499.5"/>
<use href="#m6" x="297.6" y="506.5"/>
<use href="#m6" x="299.6" y="510.8"/>
<use href="#m6" x="301.7" y="514.5"/>
<use href="#m6" x="303.7" y="515.8"/>
<use href="#m6" x="305.7" y="517"/>
<use href="#m6" x="307.8" y="517.5"/>
<use href="#m6" x="309.8" y="518"/>
<use href="#m6" x="311.8" y="518.5"/>
<use href="#m6" x="313.9" y="519"/>
<use href="#m6" x="315.9" y="519.5"/>
<use href="#m6" x="317.9" y="519.6"/>
<use href="#m6" x="320" y="519.7"/>
<use href="#m6" x="322" y="519.8"/>
<use href="#m6" x="324" y="519.9"/>
<use href="#m6" x="326.1" y="520"/>
<use href="#m6" x="328.1" y="520.1"/>
<use href="#m6" x="330.1" y="520.2"/>
<use href="#m6" x="332.2" y="520.3"/>
<use href="#m6" x="334.2" y="520.4"/>
<use href="#m6" x="336.2" y="520.5"/>
<use href="#m6" x="338.3" y="520.6"/>
<use href="#m6" x="340.3" y="520.7"/>
<use href="#m6" x="342.3" y="520.8"/>
<use href="#m6" x="344.4" y="520.9"/>
<use href="#m6" x="346.4" y="521"/>
<use href="#m6" x="348.4" y="521"/>
<use href="#m6" x="350.5" y="521"/>
<use href="#m6" x="352.5" y="521"/>
<use href="#m6" x="354.5" y="521"/>
<use href="#m6" x="356.6" y="521"/>
<use href="#m6" x="358.6" y="521"/>
<use href="#m6" x="360.6" y="521"/>
<use href="#m6" x="362.7" y="521"/>
<use href="#m6" x="364.7" y="521"/>
<use href="#m6" x="366.7" y="521"/>
<use href="#m6" x="368.8" y="521"/>
<use href="#m6" x="370.8" y="521"/>
<use href="#m6" x="372.8" y="521"/>
<use href="#m6" x="374.9" y="521.1"/>
<use href="#m6" x="376.9" y="521.1"/>
<use href="#m6" x="378.9" y="521.1"/>
<use href="#m6" x="381" y="521.1"/>
<use href="#m6" x="383" y="521.1"/>
<use href="#m6" x="385" y="521.1"/>
<use href="#m6" x="387" y="521.1"/>
<use href="#m6" x="389.1" y="521.1"/>
<use href="#m6" x="391.1" y="521.1"/>
<use href="#m6" x="393.1" y="521.1"/>
<use href="#m6" x="395.2" y="521.1"/>
<use href="#m6" x="397.2" y="521.1"/>
<use href="#m6" x="399.2" y="521.1"/>
<use href="#m6" x="401.3" y="521.1"/>
<use href="#m6" x="403.3" y="521.1"/>
<use href="#m6" x="405.3" y="521.1"/>
<use href="#m6" x="407.4" y="521.1"/>
<use href="#m6" x="409.4" y="521.1"/>
<use href="#m6" x="411.4" y="521.1"/>
<use href="#m6" x="413.5" y="521.1"/>
<use href="#m6" x="415.5" y="521.1"/>
<use href="#m6" x="417.5" y="521.1"/>
<use href="#m6" x="419.6" y="521.1"/>
<use href="#m6" x="421.6" y="521.1"/>
<use href="#m6" x="423.6" y="521.1"/>
<use href="#m6" x="425.7" y="521.1"/>
<use href="#m6" x="427.7" y="521.1"/>
<use href="#m6" x="429.7" y="521.1"/>
<use href="#m6" x="431.8" y="521.2"/>
<use href="#m6" x="433.8" y="521.2"/>
<use href="#m6" x="435.8" y="521.2"/>
<use href="#m6" x="437.9" y="521.2"/>
<use href="#m6" x="439.9" y="521.2"/>
<use href="#m6" x="441.9" y="521.2"/>
<use href="#m6" x="444" y="521.2"/>
<use href="#m6" x="446" y="521.2"/>
<use href="#m6" x="448" y="521.2"/>
<use href="#m6" x="450.1" y="521.2"/>
<use href="#m6" x="452.1" y="521.2"/>
<use href="#m6" x="454.1" y="521.2"/>
<use href="#m6" x="456.2" y="521.2"/>
<use href="#m6" x="458.2" y="521.2"/>
<use href="#m6" x="460.2" y="521.2"/>
<use href="#m6" x="462.3" y="521.2"/>
<use href="#m6" x="464.3" y="521.2"/>
<use href="#m6" x="466.3" y="521.2"/>
<use href="#m6" x="468.4" y="521.2"/>
<use href="#m6" x="470.4" y="521.2"/>
<use href="#m6" x="472.4" y="521.2"/>
<use href="#m6" x="474.5" y="521.2"/>
<use href="#m6" x="476.5" y="521.2"/>
<use href="#m6" x="478.5" y="521.2"/>
<use href="#m6" x="480.6" y="521.2"/>
<use href="#m6" x="482.6" y="521.2"/>
<use href="#m6" x="484.6" y="521.2"/>
<use href="#m6" x="486.7" y="521.2"/>
<use href="#m6" x="488.7" y="521.3"/>
<path d="M285.4 386.2L287.4 409.6L289.5 432.6L291.5 458.3L293.5 465.8L295.6 474.5L297.6 480.8L299.6 484.5L301.7 489.5L303.7 493L305.7 487L307.8 484.6L309.8 506.5L311.8 507.6L313.9 507.9L315.9 508.3L317.9 508.9L320 509.5L322 510.1L324 511.7L326.1 513.3L328.1 514L330.1 514.8L332.2 515.3L334.2 515.8L336.2 516.4L338.3 516.8L340.3 517.1L342.3 517.5L344.4 518.4L346.4 519.3L348.4 519.3L350.5 519.3L352.5 519.3L354.5 519.3L356.6 519.3L358.6 519.3L360.6 519.3L362.7 519.3L364.7 519.3L366.7 519.4L368.8 519.4L370.8 519.4L372.8 519.4L374.9 519.4L376.9 519.4L378.9 519.4L381 519.4L383 519.4L385 519.4L387 519.5L389.1 519.5L391.1 519.5L393.1 519.5L395.2 519.5L397.2 519.5L399.2 519.5L401.3 519.5L403.3 519.5L405.3 519.5L407.4 519.5L409.4 519.5L411.4 519.5L413.5 519.5L415.5 519.6L417.5 519.6L419.6 519.6L421.6 519.6L423.6 519.6L425.7 519.6L427.7 519.6L429.7 519.6L431.8 519.6L433.8 519.6L435.8 519.6L437.9 519.6L439.9 519.6L441.9 519.6L444 519.6L446 519.6L448 519.6L450.1 519.6L452.1 519.7L454.1 519.7L456.2 519.7L458.2 519.7L460.2 519.7L462.3 519.7L464.3 519.7L466.3 519.7L468.4 519.7L470.4 519.7L472.4 519.7L474.5 519.7L476.5 519.7L478.5 519.7L480.6 519.7L482.6 519.7L484.6 519.7L486.7 519.7L488.7 519.8" fill="none" stroke="#5454aa" stroke-width="1.0"/>
<use href="#m32" x="285.4" y="386.2"/>
<use href="#m32" x="287.4" y="409.6"/>
<use href="#m32" x="289.5" y="432.6"/>
<use href="#m32" x="291.5" y="458.3"/>
<use href="#m32" x="293.5" y="465.8"/>
<use href="#m32" x="295.6" y="474.5"/>
<use href="#m32" x="297.6" y="480.8"/>
<use href="#m32" x="299.6" y="484.5"/>
<use href="#m32" x="301.7" y="489.5"/>
<use href="#m32" x="303.7" y="493"/>
<use href="#m32" x="305.7" y="487"/>
<use href="#m32" x="307.8" y="484.6"/>
<use href="#m32" x="309.8" y="506.5"/>
<use href="#m32" x="311.8" y="507.6"/>
<use href="#m32" x="313.9" y="507.9"/>
<use href="#m32" x="315.9" y="508.3"/>
<use href="#m32" x="317.9" y="508.9"/>
<use href="#m32" x="320" y="509.5"/>
<use href="#m32" x="322" y="510.1"/>
<use href="#m32" x="324" y="511.7"/>
<use href="#m32" x="326.1" y="513.3"/>
<use href="#m32" x="328.1" y="514"/>
<use href="#m32" x="330.1" y="514.8"/>
<use href="#m32" x="332.2" y="515.3"/>
<use href="#m32" x="334.2" y="515.8"/>
<use href="#m32" x="336.2" y="516.4"/>
<use href="#m32" x="338.3" y="516.8"/>
<use href="#m32" x="340.3" y="517.1"/>
<use href="#m32" x="342.3" y="517.5"/>
<use href="#m32" x="344.4" y="518.4"/>
<use href="#m32" x="346.4" y="519.3"/>
<use href="#m32" x="348.4" y="519.3"/>
<use href="#m32" x="350.5" y="519.3"/>
<use href="#m32" x="352.5" y="519.3"/>
<use href="#m32" x="354.5" y="519.3"/>
<use href="#m32" x="356.6" y="519.3"/>
<use href="#m32" x="358.6" y="519.3"/>
<use href="#m32" x="360.6" y="519.3"/>
<use href="#m32" x="362.7" y="519.3"/>
<use href="#m32" x="364.7" y="519.3"/>
<use href="#m32" x="366.7" y="519.4"/>
<use href="#m32" x="368.8" y="519.4"/>
<use href="#m32" x="370.8" y="519.4"/>
<use href="#m32" x="372.8" y="519.4"/>
<use href="#m32" x="374.9" y="519.4"/>
<use href="#m32" x="376.9" y="519.4"/>
<use href="#m32" x="378.9" y="519.4"/>
<use href="#m32" x="381" y="519.4"/>
<use href="#m32" x="383" y="519.4"/>
<use href="#m32" x="385" y="519.4"/>
<use href="#m32" x="387" y="519.5"/>
<use href="#m32" x="389.1" y="519.5"/>
<use href="#m32" x="391.1" y="519.5"/>
<use href="#m32" x="393.1" y="519.5"/>
<use href="#m32" x="395.2" y="519.5"/>
<use href="#m32" x="397.2" y="519.5"/>
<use href="#m32" x="399.2" y="519.5"/>
<use href="#m32" x="401.3" y="519.5"/>
<use href="#m32" x="403.3" y="519.5"/>
<use href="#m32" x="405.3" y="519.5"/>
<use href="#m32" x="407.4" y="519.5"/>
<use href="#m32" x="409.4" y="519.5"/>
<use href="#m32" x="411.4" y="519.5"/>
<use href="#m32" x="413.5" y="519.5"/>
<use href="#m32" x="415.5" y="519.6"/>
<use href="#m32" x="417.5" y="519.6"/>
<use href="#m32" x="419.6" y="519.6"/>
<use href="#m32" x="421.6" y="519.6"/>
<use href="#m32" x="423.6" y="519.6"/>
<use href="#m32" x="425.7" y="519.6"/>
<use href="#m32" x="427.7" y="519.6"/>
<use href="#m32" x="429.7" y="519.6"/>
<use href="#m32" x="431.8" y="519.6"/>
<use href="#m32" x="433.8" y="519.6"/>
<use href="#m32" x="435.8" y="519.6"/>
<use href="#m32" x="437.9" y="519.6"/>
<use href="#m32" x="439.9" y="519.6"/>
<use href="#m32" x="441.9" y="519.6"/>
<use href="#m32" x="444" y="519.6"/>
<use href="#m32" x="446" y="519.6"/>
<use href="#m32" x="448" y="519.6"/>
<use href="#m32" x="450.1" y="519.6"/>
<use href="#m32" x="452.1" y="519.7"/>
<use href="#m32" x="454.1" y="519.7"/>
<use href="#m32" x="456.2" y="519.7"/>
<use href="#m32" x="458.2" y="519.7"/>
<use href="#m32" x="460.2" y="519.7"/>
<use href="#m32" x="462.3" y="519.7"/>
<use href="#m32" x="464.3" y="519.7"/>
<use href="#m32" x="466.3" y="519.7"/>
<use href="#m32" x="468.4" y="519.7"/>
<use href="#m32" x="470.4" y="519.7"/>
<use href="#m32" x="472.4" y="519.7"/>
<use href="#m32" x="474.5" y="519.7"/>
<use href="#m32" x="476.5" y="519.7"/>
<use href="#m32" x="478.5" y="519.7"/>
<use href="#m32" x="480.6" y="519.7"/>
<use href="#m32" x="482.6" y="519.7"/>
<use href="#m32" x="484.6" y="519.7"/>
<use href="#m32" x="486.7" y="519.7"/>
<use href="#m32" x="488.7" y="519.8"/>
<path d="M285.4 415.9L287.4 447.1L289.5 464.5L291.5 469.5L293.5 463.3L295.6 472L297.6 473.3L299.6 474.5L301.7 477L303.7 478.3L305.7 478.5L307.8 500.3L309.8 500.3L311.8 500.3L313.9 500.3L315.9 500.3L317.9 500.3L320 500.3L322 500.3L324 500.3L326.1 503.4L328.1 506.5L330.1 509.3L332.2 512L334.2 513.9L336.2 515.8L338.3 516.8L340.3 517.8L342.3 518.9L344.4 519L346.4 519.1L348.4 519.3L350.5 519.4L352.5 519.6L354.5 519.7L356.6 519.8L358.6 520L360.6 520.1L362.7 520.2L364.7 520.4L366.7 520.5L368.8 520.5L370.8 520.5L372.8 520.5L374.9 520.5L376.9 520.5L378.9 520.5L381 520.5L383 520.5L385 520.5L387 520.5L389.1 520.5L391.1 520.6L393.1 520.6L395.2 520.6L397.2 520.6L399.2 520.6L401.3 520.6L403.3 520.6L405.3 520.6L407.4 520.6L409.4 520.6L411.4 520.6L413.5 520.6L415.5 520.6L417.5 520.6L419.6 520.6L421.6 520.6L423.6 520.6L425.7 520.6L427.7 520.6L429.7 520.6L431.8 520.6L433.8 520.6L435.8 520.6L437.9 520.6L439.9 520.7L441.9 520.7L444 520.7L446 520.7L448 520.7L450.1 520.7L452.1 520.7L454.1 520.7L456.2 520.7L458.2 520.7L460.2 520.7L462.3 520.7L464.3 520.7L466.3 520.7L468.4 520.7L470.4 520.7L472.4 520.7L474.5 520.7L476.5 520.7L478.5 520.7L480.6 520.7L482.6 520.7L484.6 520.7L486.7 520.7L488.7 520.8" fill="none" stroke="#9c9c9c" stroke-width="1.0"/>
<use href="#m33" x="285.4" y="415.9"/>
<use href="#m33" x="287.4" y="447.1"/>
<use href="#m33" x="289.5" y="464.5"/>
<use href="#m33" x="291.5" y="469.5"/>
<use href="#m33" x="293.5" y="463.3"/>
<use href="#m33" x="295.6" y="472"/>
<use href="#m33" x="297.6" y="473.3"/>
<use href="#m33" x="299.6" y="474.5"/>
<use href="#m33" x="301.7" y="477"/>
<use href="#m33" x="303.7" y="478.3"/>
<use href="#m33" x="305.7" y="478.5"/>
<use href="#m33" x="307.8" y="500.3"/>
<use href="#m33" x="309.8" y="500.3"/>
<use href="#m33" x="311.8" y="500.3"/>
<use href="#m33" x="313.9" y="500.3"/>
<use href="#m33" x="315.9" y="500.3"/>
<use href="#m33" x="317.9" y="500.3"/>
<use href="#m33" x="320" y="500.3"/>
<use href="#m33" x="322" y="500.3"/>
<use href="#m33" x="324" y="500.3"/>
<use href="#m33" x="326.1" y="503.4"/>
<use href="#m33" x="328.1" y="506.5"/>
<use href="#m33" x="330.1" y="509.3"/>
<use href="#m33" x="332.2" y="512"/>
<use href="#m33" x="334.2" y="513.9"/>
<use href="#m33" x="336.2" y="515.8"/>
<use href="#m33" x="338.3" y="516.8"/>
<use href="#m33" x="340.3" y="517.8"/>
<use href="#m33" x="342.3" y="518.9"/>
<use href="#m33" x="344.4" y="519"/>
<use href="#m33" x="346.4" y="519.1"/>
<use href="#m33" x="348.4" y="519.3"/>
<use href="#m33" x="350.5" y="519.4"/>
<use href="#m33" x="352.5" y="519.6"/>
<use href="#m33" x="354.5" y="519.7"/>
<use href="#m33" x="356.6" y="519.8"/>
<use href="#m33" x="358.6" y="520"/>
<use href="#m33" x="360.6" y="520.1"/>
<use href="#m33" x="362.7" y="520.2"/>
<use href="#m33" x="364.7" y="520.4"/>
<use href="#m33" x="366.7" y="520.5"/>
<use href="#m33" x="368.8" y="520.5"/>
<use href="#m33" x="370.8" y="520.5"/>
<use href="#m33" x="372.8" y="520.5"/>
<use href="#m33" x="374.9" y="520.5"/>
<use href="#m33" x="376.9" y="520.5"/>
<use href="#m33" x="378.9" y="520.5"/>
<use href="#m33" x="381" y="520.5"/>
<use href="#m33" x="383" y="520.5"/>
<use href="#m33" x="385" y="520.5"/>
<use href="#m33" x="387" y="520.5"/>
<use href="#m33" x="389.1" y="520.5"/>
<use href="#m33" x="391.1" y="520.6"/>
<use href="#m33" x="393.1" y="520.6"/>
<use href="#m33" x="395.2" y="520.6"/>
<use href="#m33" x="397.2" y="520.6"/>
<use href="#m33" x="399.2" y="520.6"/>
<use href="#m33" x="401.3" y="520.6"/>
<use href="#m33" x="403.3" y="520.6"/>
<use href="#m33" x="405.3" y="520.6"/>
<use href="#m33" x="407.4" y="520.6"/>
<use href="#m33" x="409.4" y="520.6"/>
<use href="#m33" x="411.4" y="520.6"/>
<use href="#m33" x="413.5" y="520.6"/>
<use href="#m33" x="415.5" y="520.6"/>
<use href="#m33" x="417.5" y="520.6"/>
<use href="#m33" x="419.6" y="520.6"/>
<use href="#m33" x="421.6" y="520.6"/>
<use href="#m33" x="423.6" y="520.6"/>
<use href="#m33" x="425.7" y="520.6"/>
<use href="#m33" x="427.7" y="520.6"/>
<use href="#m33" x="429.7" y="520.6"/>
<use href="#m33" x="431.8" y="520.6"/>
<use href="#m33" x="433.8" y="520.6"/>
<use href="#m33" x="435.8" y="520.6"/>
<use href="#m33" x="437.9" y="520.6"/>
<use href="#m33" x="439.9" y="520.7"/>
<use href="#m33" x="441.9" y="520.7"/>
<use href="#m33" x="444" y="520.7"/>
<use href="#m33" x="446" y="520.7"/>
<use href="#m33" x="448" y="520.7"/>
<use href="#m33" x="450.1" y="520.7"/>
<use href="#m33" x="452.1" y="520.7"/>
<use href="#m33" x="454.1" y="520.7"/>
<use href="#m33" x="456.2" y="520.7"/>
<use href="#m33" x="458.2" y="520.7"/>
<use href="#m33" x="460.2" y="520.7"/>
<use href="#m33" x="462.3" y="520.7"/>
<use href="#m33" x="464.3" y="520.7"/>
<use href="#m33" x="466.3" y="520.7"/>
<use href="#m33" x="468.4" y="520.7"/>
<use href="#m33" x="470.4" y="520.7"/>
<use href="#m33" x="472.4" y="520.7"/>
<use href="#m33" x="474.5" y="520.7"/>
<use href="#m33" x="476.5" y="520.7"/>
<use href="#m33" x="478.5" y="520.7"/>
<use href="#m33" x="480.6" y="520.7"/>
<use href="#m33" x="482.6" y="520.7"/>
<use href="#m33" x="484.6" y="520.7"/>
<use href="#m33" x="486.7" y="520.7"/>
<use href="#m33" x="488.7" y="520.8"/>
<path d="M285.4 400.8L287.4 402.8L289.5 415.8L291.5 427.1L293.5 438.6L295.6 454.8L297.6 461.3L299.6 466.5L301.7 484.5L303.7 497.6L305.7 502L307.8 505.1L309.8 508.3L311.8 509.9L313.9 511.6L315.9 513.3L317.9 514.1L320 514.9L322 515.8L324 516.2L326.1 516.7L328.1 517.2L330.1 517.6L332.2 518L334.2 518.3L336.2 518.7L338.3 519L340.3 519.4L342.3 519.8L344.4 519.8L346.4 519.9L348.4 519.9L350.5 520L352.5 520.1L354.5 520.1L356.6 520.2L358.6 520.3L360.6 520.3L362.7 520.4L364.7 520.4L366.7 520.5L368.8 520.5L370.8 520.5L372.8 520.5L374.9 520.5L376.9 520.5L378.9 520.5L381 520.5L383 520.5L385 520.5L387 520.5L389.1 520.5L391.1 520.6L393.1 520.6L395.2 520.6L397.2 520.6L399.2 520.6L401.3 520.6L403.3 520.6L405.3 520.6L407.4 520.6L409.4 520.6L411.4 520.6L413.5 520.6L415.5 520.6L417.5 520.6L419.6 520.6L421.6 520.6L423.6 520.6L425.7 520.6L427.7 520.6L429.7 520.6L431.8 520.6L433.8 520.6L435.8 520.6L437.9 520.6L439.9 520.7L441.9 520.7L444 520.7L446 520.7L448 520.7L450.1 520.7L452.1 520.7L454.1 520.7L456.2 520.7L458.2 520.7L460.2 520.7L462.3 520.7L464.3 520.7L466.3 520.7L468.4 520.7L470.4 520.7L472.4 520.7L474.5 520.7L476.5 520.7L478.5 520.7L480.6 520.7L482.6 520.7L484.6 520.7L486.7 520.7L488.7 520.8" fill="none" stroke="#f25a5a" stroke-width="1.0"/>
<use href="#m34" x="285.4" y="400.8"/>
<use href="#m34" x="287.4" y="402.8"/>
<use href="#m34" x="289.5" y="415.8"/>
<use href="#m34" x="291.5" y="427.1"/>
<use href="#m34" x="293.5" y="438.6"/>
<use href="#m34" x="295.6" y="454.8"/>
<use href="#m34" x="297.6" y="461.3"/>
<use href="#m34" x="299.6" y="466.5"/>
<use href="#m34" x="301.7" y="484.5"/>
<use href="#m34" x="303.7" y="497.6"/>
<use href="#m34" x="305.7" y="502"/>
<use href="#m34" x="307.8" y="505.1"/>
<use href="#m34" x="309.8" y="508.3"/>
<use href="#m34" x="311.8" y="509.9"/>
<use href="#m34" x="313.9" y="511.6"/>
<use href="#m34" x="315.9" y="513.3"/>
<use href="#m34" x="317.9" y="514.1"/>
<use href="#m34" x="320" y="514.9"/>
<use href="#m34" x="322" y="515.8"/>
<use href="#m34" x="324" y="516.2"/>
<use href="#m34" x="326.1" y="516.7"/>
<use href="#m34" x="328.1" y="517.2"/>
<use href="#m34" x="330.1" y="517.6"/>
<use href="#m34" x="332.2" y="518"/>
<use href="#m34" x="334.2" y="518.3"/>
<use href="#m34" x="336.2" y="518.7"/>
<use href="#m34" x="338.3" y="519"/>
<use href="#m34" x="340.3" y="519.4"/>
<use href="#m34" x="342.3" y="519.8"/>
<use href="#m34" x="344.4" y="519.8"/>
<use href="#m34" x="346.4" y="519.9"/>
<use href="#m34" x="348.4" y="519.9"/>
<use href="#m34" x="350.5" y="520"/>
<use href="#m34" x="352.5" y="520.1"/>
<use href="#m34" x="354.5" y="520.1"/>
<use href="#m34" x="356.6" y="520.2"/>
<use href="#m34" x="358.6" y="520.3"/>
<use href="#m34" x="360.6" y="520.3"/>
<use href="#m34" x="362.7" y="520.4"/>
<use href="#m34" x="364.7" y="520.4"/>
<use href="#m34" x="366.7" y="520.5"/>
<use href="#m34" x="368.8" y="520.5"/>
<use href="#m34" x="370.8" y="520.5"/>
<use href="#m34" x="372.8" y="520.5"/>
<use href="#m34" x="374.9" y="520.5"/>
<use href="#m34" x="376.9" y="520.5"/>
<use href="#m34" x="378.9" y="520.5"/>
<use href="#m34" x="381" y="520.5"/>
<use href="#m34" x="383" y="520.5"/>
<use href="#m34" x="385" y="520.5"/>
<use href="#m34" x="387" y="520.5"/>
<use href="#m34" x="389.1" y="520.5"/>
<use href="#m34" x="391.1" y="520.6"/>
<use href="#m34" x="393.1" y="520.6"/>
<use href="#m34" x="395.2" y="520.6"/>
<use href="#m34" x="397.2" y="520.6"/>
<use href="#m34" x="399.2" y="520.6"/>
<use href="#m34" x="401.3" y="520.6"/>
<use href="#m34" x="403.3" y="520.6"/>
<use href="#m34" x="405.3" y="520.6"/>
<use href="#m34" x="407.4" y="520.6"/>
<use href="#m34" x="409.4" y="520.6"/>
<use href="#m34" x="411.4" y="520.6"/>
<use href="#m34" x="413.5" y="520.6"/>
<use href="#m34" x="415.5" y="520.6"/>
<use href="#m34" x="417.5" y="520.6"/>
<use href="#m34" x="419.6" y="520.6"/>
<use href="#m34" x="421.6" y="520.6"/>
<use href="#m34" x="423.6" y="520.6"/>
<use href="#m34" x="425.7" y="520.6"/>
<use href="#m34" x="427.7" y="520.6"/>
<use href="#m34" x="429.7" y="520.6"/>
<use href="#m34" x="431.8" y="520.6"/>
<use href="#m34" x="433.8" y="520.6"/>
<use href="#m34" x="435.8" y="520.6"/>
<use href="#m34" x="437.9" y="520.6"/>
<use href="#m34" x="439.9" y="520.7"/>
<use href="#m34" x="441.9" y="520.7"/>
<use href="#m34" x="444" y="520.7"/>
<use href="#m34" x="446" y="520.7"/>
<use href="#m34" x="448" y="520.7"/>
<use href="#m34" x="450.1" y="520.7"/>
<use href="#m34" x="452.1" y="520.7"/>
<use href="#m34" x="454.1" y="520.7"/>
<use href="#m34" x="456.2" y="520.7"/>
<use href="#m34" x="458.2" y="520.7"/>
<use href="#m34" x="460.2" y="520.7"/>
<use href="#m34" x="462.3" y="520.7"/>
<use href="#m34" x="464.3" y="520.7"/>
<use href="#m34" x="466.3" y="520.7"/>
<use href="#m34" x="468.4" y="520.7"/>
<use href="#m34" x="470.4" y="520.7"/>
<use href="#m34" x="472.4" y="520.7"/>
<use href="#m34" x="474.5" y="520.7"/>
<use href="#m34" x="476.5" y="520.7"/>
<use href="#m34" x="478.5" y="520.7"/>
<use href="#m34" x="480.6" y="520.7"/>
<use href="#m34" x="482.6" y="520.7"/>
<use href="#m34" x="484.6" y="520.7"/>
<use href="#m34" x="486.7" y="520.7"/>
<use href="#m34" x="488.7" y="520.8"/>
<path d="M285.4 376L287.4 446.2L289.5 487.6L291.5 500.8L293.5 502L295.6 503.3L297.6 503.5L299.6 503.9L301.7 507L303.7 510.1L305.7 517L307.8 518.9L309.8 519.1L311.8 519.2L313.9 519.4L315.9 519.6L317.9 519.8L320 520L322 520.1L324 520.3L326.1 520.5L328.1 520.5L330.1 520.5L332.2 520.5L334.2 520.5L336.2 520.5L338.3 520.5L340.3 520.5L342.3 520.6L344.4 520.6L346.4 520.6L348.4 520.6L350.5 520.6L352.5 520.6L354.5 520.6L356.6 520.6L358.6 520.6L360.6 520.6L362.7 520.6L364.7 520.6L366.7 520.6L368.8 520.6L370.8 520.6L372.8 520.6L374.9 520.7L376.9 520.7L378.9 520.7L381 520.7L383 520.7L385 520.7L387 520.7L389.1 520.7L391.1 520.7L393.1 520.7L395.2 520.7L397.2 520.7L399.2 520.7L401.3 520.7L403.3 520.7L405.3 520.7L407.4 520.8L409.4 520.8L411.4 520.8L413.5 520.8L415.5 520.8L417.5 520.8L419.6 520.8L421.6 520.8L423.6 520.8L425.7 520.8L427.7 520.8L429.7 520.8L431.8 520.8L433.8 520.8L435.8 520.8L437.9 520.8L439.9 520.9L441.9 520.9L444 520.9L446 520.9L448 520.9L450.1 520.9L452.1 520.9L454.1 520.9L456.2 520.9L458.2 520.9L460.2 520.9L462.3 520.9L464.3 520.9L466.3 520.9L468.4 520.9L470.4 520.9L472.4 521L474.5 521L476.5 521L478.5 521L480.6 521L482.6 521L484.6 521L486.7 521L488.7 521" fill="none" stroke="#4b9be0" stroke-width="1.0"/>
<use href="#m35" x="285.4" y="376"/>
<use href="#m35" x="287.4" y="446.2"/>
<use href="#m35" x="289.5" y="487.6"/>
<use href="#m35" x="291.5" y="500.8"/>
<use href="#m35" x="293.5" y="502"/>
<use href="#m35" x="295.6" y="503.3"/>
<use href="#m35" x="297.6" y="503.5"/>
<use href="#m35" x="299.6" y="503.9"/>
<use href="#m35" x="301.7" y="507"/>
<use href="#m35" x="303.7" y="510.1"/>
<use href="#m35" x="305.7" y="517"/>
<use href="#m35" x="307.8" y="518.9"/>
<use href="#m35" x="309.8" y="519.1"/>
<use href="#m35" x="311.8" y="519.2"/>
<use href="#m35" x="313.9" y="519.4"/>
<use href="#m35" x="315.9" y="519.6"/>
<use href="#m35" x="317.9" y="519.8"/>
<use href="#m35" x="320" y="520"/>
<use href="#m35" x="322" y="520.1"/>
<use href="#m35" x="324" y="520.3"/>
<use href="#m35" x="326.1" y="520.5"/>
<use href="#m35" x="328.1" y="520.5"/>
<use href="#m35" x="330.1" y="520.5"/>
<use href="#m35" x="332.2" y="520.5"/>
<use href="#m35" x="334.2" y="520.5"/>
<use href="#m35" x="336.2" y="520.5"/>
<use href="#m35" x="338.3" y="520.5"/>
<use href="#m35" x="340.3" y="520.5"/>
<use href="#m35" x="342.3" y="520.6"/>
<use href="#m35" x="344.4" y="520.6"/>
<use href="#m35" x="346.4" y="520.6"/>
<use href="#m35" x="348.4" y="520.6"/>
<use href="#m35" x="350.5" y="520.6"/>
<use href="#m35" x="352.5" y="520.6"/>
<use href="#m35" x="354.5" y="520.6"/>
<use href="#m35" x="356.6" y="520.6"/>
<use href="#m35" x="358.6" y="520.6"/>
<use href="#m35" x="360.6" y="520.6"/>
<use href="#m35" x="362.7" y="520.6"/>
<use href="#m35" x="364.7" y="520.6"/>
<use href="#m35" x="366.7" y="520.6"/>
<use href="#m35" x="368.8" y="520.6"/>
<use href="#m35" x="370.8" y="520.6"/>
<use href="#m35" x="372.8" y="520.6"/>
<use href="#m35" x="374.9" y="520.7"/>
<use href="#m35" x="376.9" y="520.7"/>
<use href="#m35" x="378.9" y="520.7"/>
<use href="#m35" x="381" y="520.7"/>
<use href="#m35" x="383" y="520.7"/>
<use href="#m35" x="385" y="520.7"/>
<use href="#m35" x="387" y="520.7"/>
<use href="#m35" x="389.1" y="520.7"/>
<use href="#m35" x="391.1" y="520.7"/>
<use href="#m35" x="393.1" y="520.7"/>
<use href="#m35" x="395.2" y="520.7"/>
<use href="#m35" x="397.2" y="520.7"/>
<use href="#m35" x="399.2" y="520.7"/>
<use href="#m35" x="401.3" y="520.7"/>
<use href="#m35" x="403.3" y="520.7"/>
<use href="#m35" x="405.3" y="520.7"/>
<use href="#m35" x="407.4" y="520.8"/>
<use href="#m35" x="409.4" y="520.8"/>
<use href="#m35" x="411.4" y="520.8"/>
<use href="#m35" x="413.5" y="520.8"/>
<use href="#m35" x="415.5" y="520.8"/>
<use href="#m35" x="417.5" y="520.8"/>
<use href="#m35" x="419.6" y="520.8"/>
<use href="#m35" x="421.6" y="520.8"/>
<use href="#m35" x="423.6" y="520.8"/>
<use href="#m35" x="425.7" y="520.8"/>
<use href="#m35" x="427.7" y="520.8"/>
<use href="#m35" x="429.7" y="520.8"/>
<use href="#m35" x="431.8" y="520.8"/>
<use href="#m35" x="433.8" y="520.8"/>
<use href="#m35" x="435.8" y="520.8"/>
<use href="#m35" x="437.9" y="520.8"/>
<use href="#m35" x="439.9" y="520.9"/>
<use href="#m35" x="441.9" y="520.9"/>
<use href="#m35" x="444" y="520.9"/>
<use href="#m35" x="446" y="520.9"/>
<use href="#m35" x="448" y="520.9"/>
<use href="#m35" x="450.1" y="520.9"/>
<use href="#m35" x="452.1" y="520.9"/>
<use href="#m35" x="454.1" y="520.9"/>
<use href="#m35" x="456.2" y="520.9"/>
<use href="#m35" x="458.2" y="520.9"/>
<use href="#m35" x="460.2" y="520.9"/>
<use href="#m35" x="462.3" y="520.9"/>
<use href="#m35" x="464.3" y="520.9"/>
<use href="#m35" x="466.3" y="520.9"/>
<use href="#m35" x="468.4" y="520.9"/>
<use href="#m35" x="470.4" y="520.9"/>
<use href="#m35" x="472.4" y="521"/>
<use href="#m35" x="474.5" y="521"/>
<use href="#m35" x="476.5" y="521"/>
<use href="#m35" x="478.5" y="521"/>
<use href="#m35" x="480.6" y="521"/>
<use href="#m35" x="482.6" y="521"/>
<use href="#m35" x="484.6" y="521"/>
<use href="#m35" x="486.7" y="521"/>
<use href="#m35" x="488.7" y="521"/>
<rect x="285.4" y="372.1" width="203.3" height="149.9" fill="none" stroke="#333" stroke-width="1.1"/>
<line x1="285.4" y1="522" x2="285.4" y2="525" stroke="#333" stroke-width="1"/>
<text x="285.4" y="533.7" font-size="9.1" text-anchor="middle" fill="#1a1a1a" font-family="Liberation Sans, sans-serif" >0</text>
<line x1="305.7" y1="522" x2="305.7" y2="523.8" stroke="#333" stroke-width="1"/>
<line x1="326.1" y1="522" x2="326.1" y2="525" stroke="#333" stroke-width="1"/>
<text x="326.1" y="533.7" font-size="9.1" text-anchor="middle" fill="#1a1a1a" font-family="Liberation Sans, sans-serif" >20</text>
<line x1="346.4" y1="522" x2="346.4" y2="523.8" stroke="#333" stroke-width="1"/>
<line x1="366.7" y1="522" x2="366.7" y2="525" stroke="#333" stroke-width="1"/>
<text x="366.7" y="533.7" font-size="9.1" text-anchor="middle" fill="#1a1a1a" font-family="Liberation Sans, sans-serif" >40</text>
<line x1="387" y1="522" x2="387" y2="523.8" stroke="#333" stroke-width="1"/>
<line x1="407.4" y1="522" x2="407.4" y2="525" stroke="#333" stroke-width="1"/>
<text x="407.4" y="533.7" font-size="9.1" text-anchor="middle" fill="#1a1a1a" font-family="Liberation Sans, sans-serif" >60</text>
<line x1="427.7" y1="522" x2="427.7" y2="523.8" stroke="#333" stroke-width="1"/>
<line x1="448" y1="522" x2="448" y2="525" stroke="#333" stroke-width="1"/>
<text x="448" y="533.7" font-size="9.1" text-anchor="middle" fill="#1a1a1a" font-family="Liberation Sans, sans-serif" >80</text>
<line x1="468.4" y1="522" x2="468.4" y2="523.8" stroke="#333" stroke-width="1"/>
<line x1="488.7" y1="522" x2="488.7" y2="525" stroke="#333" stroke-width="1"/>
<text x="488.7" y="533.7" font-size="9.1" text-anchor="middle" fill="#1a1a1a" font-family="Liberation Sans, sans-serif" >100</text>
<line x1="282.4" y1="522" x2="285.4" y2="522" stroke="#333" stroke-width="1"/>
<text x="280" y="525.2" font-size="9.0" text-anchor="end" fill="#333" font-family="Liberation Sans, sans-serif">0</text>
<line x1="283.6" y1="509.5" x2="285.4" y2="509.5" stroke="#333" stroke-width="1"/>
<line x1="282.4" y1="497" x2="285.4" y2="497" stroke="#333" stroke-width="1"/>
<text x="280" y="500.3" font-size="9.0" text-anchor="end" fill="#333" font-family="Liberation Sans, sans-serif">200</text>
<line x1="283.6" y1="484.5" x2="285.4" y2="484.5" stroke="#333" stroke-width="1"/>
<line x1="282.4" y1="472" x2="285.4" y2="472" stroke="#333" stroke-width="1"/>
<text x="280" y="475.3" font-size="9.0" text-anchor="end" fill="#333" font-family="Liberation Sans, sans-serif">400</text>
<line x1="283.6" y1="459.5" x2="285.4" y2="459.5" stroke="#333" stroke-width="1"/>
<line x1="282.4" y1="447.1" x2="285.4" y2="447.1" stroke="#333" stroke-width="1"/>
<text x="280" y="450.3" font-size="9.0" text-anchor="end" fill="#333" font-family="Liberation Sans, sans-serif">600</text>
<line x1="283.6" y1="434.6" x2="285.4" y2="434.6" stroke="#333" stroke-width="1"/>
<line x1="282.4" y1="422.1" x2="285.4" y2="422.1" stroke="#333" stroke-width="1"/>
<text x="280" y="425.3" font-size="9.0" text-anchor="end" fill="#333" font-family="Liberation Sans, sans-serif">800</text>
<line x1="283.6" y1="409.6" x2="285.4" y2="409.6" stroke="#333" stroke-width="1"/>
<line x1="282.4" y1="397.1" x2="285.4" y2="397.1" stroke="#333" stroke-width="1"/>
<text x="280" y="400.3" font-size="9.0" text-anchor="end" fill="#333" font-family="Liberation Sans, sans-serif">1000</text>
<line x1="283.6" y1="384.6" x2="285.4" y2="384.6" stroke="#333" stroke-width="1"/>
<line x1="282.4" y1="372.1" x2="285.4" y2="372.1" stroke="#333" stroke-width="1"/>
<text x="280" y="375.3" font-size="9.0" text-anchor="end" fill="#333" font-family="Liberation Sans, sans-serif">1200</text>
<text x="257.7" y="447" font-size="10.3" text-anchor="middle" transform="rotate(-90 257.7 447)" dy="3.7" fill="#222" font-family="Liberation Sans, sans-serif">State Variance</text>
<text x="389.6" y="543.2" font-size="10.3" text-anchor="middle" fill="#222" font-family="Liberation Sans, sans-serif">Iterations</text>
<line x1="410.6" y1="380.6" x2="428.1" y2="380.6" stroke="#e8202a" stroke-width="1.3"/>
<use href="#m10" x="419.4" y="380.6"/>
<text x="430" y="383.6" font-size="8.45" fill="#2a2a2a" font-family="Liberation Sans, sans-serif">X Var d12</text>
<line x1="410.6" y1="391" x2="428.1" y2="391" stroke="#3a64ac" stroke-width="1.3"/>
<use href="#m4" x="419.4" y="391"/>
<text x="430" y="394" font-size="8.45" fill="#2a2a2a" font-family="Liberation Sans, sans-serif">X Var d23</text>
<line x1="410.6" y1="401.3" x2="428.1" y2="401.3" stroke="#f2c01a" stroke-width="1.3"/>
<use href="#m5" x="419.4" y="401.3"/>
<text x="430" y="404.4" font-size="8.45" fill="#2a2a2a" font-family="Liberation Sans, sans-serif">X Var d34</text>
<line x1="410.6" y1="411.7" x2="428.1" y2="411.7" stroke="#3cc070" stroke-width="1.3"/>
<use href="#m11" x="419.4" y="411.7"/>
<text x="430" y="414.8" font-size="8.45" fill="#2a2a2a" font-family="Liberation Sans, sans-serif">X Var d45</text>
<line x1="410.6" y1="422.1" x2="428.1" y2="422.1" stroke="#5454aa" stroke-width="1.3"/>
<use href="#m16" x="419.4" y="422.1"/>
<text x="430" y="425.1" font-size="8.45" fill="#2a2a2a" font-family="Liberation Sans, sans-serif">X Var Best d12</text>
<line x1="410.6" y1="432.5" x2="428.1" y2="432.5" stroke="#9c9c9c" stroke-width="1.3"/>
<use href="#m17" x="419.4" y="432.5"/>
<text x="430" y="435.5" font-size="8.45" fill="#2a2a2a" font-family="Liberation Sans, sans-serif">X Var Best d23</text>
<line x1="410.6" y1="442.8" x2="428.1" y2="442.8" stroke="#f25a5a" stroke-width="1.3"/>
<use href="#m18" x="419.4" y="442.8"/>
<text x="430" y="445.9" font-size="8.45" fill="#2a2a2a" font-family="Liberation Sans, sans-serif">X Var Best d34</text>
<line x1="410.6" y1="453.2" x2="428.1" y2="453.2" stroke="#4b9be0" stroke-width="1.3"/>
<use href="#m19" x="419.4" y="453.2"/>
<text x="430" y="456.2" font-size="8.45" fill="#2a2a2a" font-family="Liberation Sans, sans-serif">X Var Best d45</text>
<text x="254.1" y="388.7" font-size="16.5" fill="#222" font-family="Liberation Serif, serif">(f)</text>
</g>
</svg></body></html>
